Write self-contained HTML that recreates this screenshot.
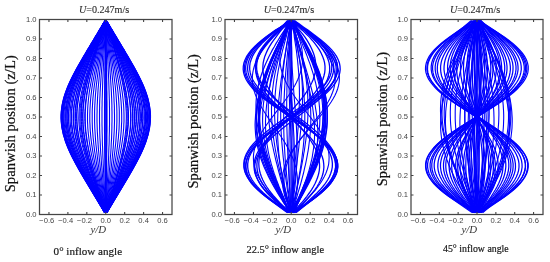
<!DOCTYPE html>
<html><head><meta charset="utf-8"><style>html,body{margin:0;padding:0;background:#fff;width:550px;height:262px;overflow:hidden}svg{display:block}</style></head>
<body>
<svg width="550" height="262" viewBox="0 0 550 262">
<style>.tk{font:7.6px "Liberation Sans",sans-serif;fill:#444}.tt{font:10.1px "Liberation Serif",serif;fill:#2a2a2a;stroke:#2a2a2a;stroke-width:0.1px}.yl{font:14.5px "Liberation Serif",serif;fill:#111;stroke:#111;stroke-width:0.2px}.xl{font:italic 10.8px "Liberation Serif",serif;fill:#333}.cap{font-family:"Liberation Serif",serif;fill:#1a1a1a;stroke:#1a1a1a;stroke-width:0.2px}</style>
<g fill="none" stroke="#0000ff">
<path stroke-width="1.1" d="M106.9,212.6 108.9,209.3 110.8,206.0 112.8,202.8 114.7,199.5 116.7,196.3 118.7,193.0 120.6,189.8 122.6,186.5 124.5,183.3 126.5,180.0 128.4,176.8 130.3,173.5 132.2,170.3 134.0,167.0 135.8,163.8 137.5,160.5 139.2,157.3 140.8,154.0 142.3,150.8 143.7,147.5 145.0,144.3 146.2,141.0 147.2,137.7 148.2,134.5 148.9,131.2 149.6,128.0 150.0,124.7 150.3,121.5 150.5,118.2 150.5,115.0 150.3,111.7 149.9,108.5 149.4,105.2 148.8,102.0 148.0,98.7 147.0,95.5 145.9,92.2 144.7,89.0 143.4,85.7 142.0,82.5 140.4,79.2 138.8,76.0 137.1,72.7 135.4,69.5 133.6,66.2 131.7,62.9 129.8,59.7 127.9,56.4 126.0,53.2 124.1,49.9 122.1,46.7 120.1,43.4 118.2,40.2 116.2,36.9 114.3,33.7 112.3,30.4 110.4,27.2 108.4,23.9 106.5,20.7"/>
<path stroke-width="1.1" d="M106.9,212.6 108.9,209.3 110.8,206.0 112.8,202.8 114.7,199.5 116.7,196.3 118.6,193.0 120.6,189.8 122.5,186.5 124.5,183.3 126.4,180.0 128.3,176.8 130.2,173.5 132.1,170.3 133.9,167.0 135.7,163.8 137.4,160.5 139.1,157.3 140.7,154.0 142.2,150.8 143.6,147.5 144.9,144.3 146.1,141.0 147.1,137.7 148.0,134.5 148.8,131.2 149.4,128.0 149.9,124.7 150.2,121.5 150.3,118.2 150.3,115.0 150.1,111.7 149.8,108.5 149.3,105.2 148.6,102.0 147.8,98.7 146.9,95.5 145.8,92.2 144.6,89.0 143.3,85.7 141.8,82.5 140.3,79.2 138.7,76.0 137.0,72.7 135.3,69.5 133.5,66.2 131.6,62.9 129.8,59.7 127.9,56.4 125.9,53.2 124.0,49.9 122.1,46.7 120.1,43.4 118.1,40.2 116.2,36.9 114.2,33.7 112.3,30.4 110.3,27.2 108.4,23.9 106.4,20.7"/>
<path stroke-width="1.1" d="M106.9,212.6 108.8,209.3 110.8,206.0 112.7,202.8 114.6,199.5 116.6,196.3 118.5,193.0 120.5,189.8 122.4,186.5 124.3,183.3 126.3,180.0 128.2,176.8 130.1,173.5 131.9,170.3 133.7,167.0 135.5,163.8 137.2,160.5 138.9,157.3 140.5,154.0 142.0,150.8 143.4,147.5 144.6,144.3 145.8,141.0 146.9,137.7 147.8,134.5 148.5,131.2 149.1,128.0 149.6,124.7 149.9,121.5 150.1,118.2 150.0,115.0 149.9,111.7 149.5,108.5 149.0,105.2 148.4,102.0 147.6,98.7 146.6,95.5 145.5,92.2 144.3,89.0 143.0,85.7 141.6,82.5 140.1,79.2 138.5,76.0 136.8,72.7 135.1,69.5 133.3,66.2 131.5,62.9 129.6,59.7 127.7,56.4 125.8,53.2 123.9,49.9 121.9,46.7 120.0,43.4 118.1,40.2 116.1,36.9 114.2,33.7 112.2,30.4 110.3,27.2 108.4,23.9 106.4,20.7"/>
<path stroke-width="1.1" d="M106.9,212.6 108.8,209.3 110.7,206.0 112.6,202.8 114.6,199.5 116.5,196.3 118.4,193.0 120.3,189.8 122.3,186.5 124.2,183.3 126.1,180.0 128.0,176.8 129.8,173.5 131.7,170.3 133.5,167.0 135.2,163.8 136.9,160.5 138.6,157.3 140.1,154.0 141.6,150.8 143.0,147.5 144.3,144.3 145.4,141.0 146.5,137.7 147.4,134.5 148.1,131.2 148.7,128.0 149.2,124.7 149.5,121.5 149.6,118.2 149.6,115.0 149.4,111.7 149.1,108.5 148.6,105.2 148.0,102.0 147.2,98.7 146.2,95.5 145.2,92.2 144.0,89.0 142.7,85.7 141.3,82.5 139.8,79.2 138.2,76.0 136.5,72.7 134.8,69.5 133.1,66.2 131.2,62.9 129.4,59.7 127.5,56.4 125.6,53.2 123.7,49.9 121.8,46.7 119.9,43.4 117.9,40.2 116.0,36.9 114.1,33.7 112.2,30.4 110.3,27.2 108.4,23.9 106.4,20.7"/>
<path stroke-width="1.1" d="M106.9,212.6 108.8,209.3 110.7,206.0 112.6,202.8 114.4,199.5 116.3,196.3 118.2,193.0 120.1,189.8 122.0,186.5 123.9,183.3 125.8,180.0 127.7,176.8 129.5,173.5 131.3,170.3 133.1,167.0 134.9,163.8 136.5,160.5 138.2,157.3 139.7,154.0 141.2,150.8 142.5,147.5 143.8,144.3 144.9,141.0 145.9,137.7 146.8,134.5 147.6,131.2 148.2,128.0 148.6,124.7 148.9,121.5 149.1,118.2 149.1,115.0 148.9,111.7 148.5,108.5 148.1,105.2 147.4,102.0 146.6,98.7 145.7,95.5 144.7,92.2 143.5,89.0 142.2,85.7 140.8,82.5 139.3,79.2 137.8,76.0 136.1,72.7 134.5,69.5 132.7,66.2 130.9,62.9 129.1,59.7 127.2,56.4 125.4,53.2 123.5,49.9 121.6,46.7 119.7,43.4 117.8,40.2 115.9,36.9 114.0,33.7 112.1,30.4 110.2,27.2 108.3,23.9 106.4,20.7"/>
<path stroke-width="1.1" d="M106.9,212.6 108.7,209.3 110.6,206.0 112.4,202.8 114.3,199.5 116.2,196.3 118.0,193.0 119.9,189.8 121.8,186.5 123.6,183.3 125.5,180.0 127.3,176.8 129.2,173.5 130.9,170.3 132.7,167.0 134.4,163.8 136.1,160.5 137.6,157.3 139.2,154.0 140.6,150.8 141.9,147.5 143.2,144.3 144.3,141.0 145.3,137.7 146.2,134.5 146.9,131.2 147.5,128.0 148.0,124.7 148.2,121.5 148.4,118.2 148.4,115.0 148.2,111.7 147.9,108.5 147.4,105.2 146.8,102.0 146.0,98.7 145.1,95.5 144.0,92.2 142.9,89.0 141.6,85.7 140.3,82.5 138.8,79.2 137.3,76.0 135.7,72.7 134.0,69.5 132.3,66.2 130.5,62.9 128.7,59.7 126.9,56.4 125.1,53.2 123.2,49.9 121.3,46.7 119.5,43.4 117.6,40.2 115.7,36.9 113.9,33.7 112.0,30.4 110.1,27.2 108.3,23.9 106.4,20.7"/>
<path stroke-width="1.1" d="M106.8,212.6 108.7,209.3 110.5,206.0 112.3,202.8 114.1,199.5 116.0,196.3 117.8,193.0 119.6,189.8 121.5,186.5 123.3,183.3 125.1,180.0 126.9,176.8 128.7,173.5 130.4,170.3 132.2,167.0 133.8,163.8 135.5,160.5 137.0,157.3 138.5,154.0 139.9,150.8 141.2,147.5 142.4,144.3 143.6,141.0 144.5,137.7 145.4,134.5 146.1,131.2 146.7,128.0 147.1,124.7 147.4,121.5 147.6,118.2 147.5,115.0 147.4,111.7 147.0,108.5 146.6,105.2 146.0,102.0 145.2,98.7 144.3,95.5 143.3,92.2 142.2,89.0 140.9,85.7 139.6,82.5 138.2,79.2 136.7,76.0 135.1,72.7 133.4,69.5 131.8,66.2 130.0,62.9 128.3,59.7 126.5,56.4 124.7,53.2 122.9,49.9 121.0,46.7 119.2,43.4 117.4,40.2 115.5,36.9 113.7,33.7 111.9,30.4 110.1,27.2 108.2,23.9 106.4,20.7"/>
<path stroke-width="1.1" d="M106.8,212.6 108.6,209.3 110.4,206.0 112.2,202.8 114.0,199.5 115.7,196.3 117.5,193.0 119.3,189.8 121.1,186.5 122.9,183.3 124.7,180.0 126.4,176.8 128.2,173.5 129.9,170.3 131.6,167.0 133.2,163.8 134.8,160.5 136.3,157.3 137.8,154.0 139.1,150.8 140.4,147.5 141.6,144.3 142.7,141.0 143.6,137.7 144.5,134.5 145.2,131.2 145.8,128.0 146.2,124.7 146.5,121.5 146.6,118.2 146.6,115.0 146.4,111.7 146.1,108.5 145.6,105.2 145.0,102.0 144.3,98.7 143.4,95.5 142.4,92.2 141.3,89.0 140.1,85.7 138.8,82.5 137.4,79.2 135.9,76.0 134.4,72.7 132.8,69.5 131.2,66.2 129.5,62.9 127.8,59.7 126.0,56.4 124.2,53.2 122.5,49.9 120.7,46.7 118.9,43.4 117.1,40.2 115.3,36.9 113.5,33.7 111.7,30.4 110.0,27.2 108.2,23.9 106.4,20.7"/>
<path stroke-width="1.1" d="M106.8,212.6 108.5,209.3 110.3,206.0 112.0,202.8 113.7,199.5 115.5,196.3 117.2,193.0 119.0,189.8 120.7,186.5 122.4,183.3 124.2,180.0 125.9,176.8 127.6,173.5 129.2,170.3 130.9,167.0 132.5,163.8 134.0,160.5 135.5,157.3 136.9,154.0 138.2,150.8 139.5,147.5 140.6,144.3 141.7,141.0 142.6,137.7 143.4,134.5 144.1,131.2 144.7,128.0 145.1,124.7 145.4,121.5 145.5,118.2 145.5,115.0 145.3,111.7 145.0,108.5 144.6,105.2 144.0,102.0 143.3,98.7 142.4,95.5 141.5,92.2 140.4,89.0 139.2,85.7 137.9,82.5 136.6,79.2 135.1,76.0 133.6,72.7 132.1,69.5 130.5,66.2 128.8,62.9 127.2,59.7 125.5,56.4 123.8,53.2 122.0,49.9 120.3,46.7 118.5,43.4 116.8,40.2 115.1,36.9 113.3,33.7 111.6,30.4 109.8,27.2 108.1,23.9 106.4,20.7"/>
<path stroke-width="1.1" d="M106.8,212.6 108.4,209.3 110.1,206.0 111.8,202.8 113.5,199.5 115.2,196.3 116.9,193.0 118.6,189.8 120.2,186.5 121.9,183.3 123.6,180.0 125.3,176.8 126.9,173.5 128.5,170.3 130.1,167.0 131.6,163.8 133.1,160.5 134.6,157.3 136.0,154.0 137.3,150.8 138.5,147.5 139.6,144.3 140.6,141.0 141.5,137.7 142.3,134.5 143.0,131.2 143.5,128.0 143.9,124.7 144.2,121.5 144.3,118.2 144.3,115.0 144.1,111.7 143.8,108.5 143.4,105.2 142.8,102.0 142.1,98.7 141.3,95.5 140.4,92.2 139.3,89.0 138.2,85.7 136.9,82.5 135.6,79.2 134.2,76.0 132.8,72.7 131.3,69.5 129.7,66.2 128.1,62.9 126.5,59.7 124.9,56.4 123.2,53.2 121.5,49.9 119.8,46.7 118.2,43.4 116.5,40.2 114.8,36.9 113.1,33.7 111.4,30.4 109.7,27.2 108.0,23.9 106.4,20.7"/>
<path stroke-width="1.1" d="M106.7,212.6 108.3,209.3 110.0,206.0 111.6,202.8 113.2,199.5 114.9,196.3 116.5,193.0 118.1,189.8 119.7,186.5 121.4,183.3 123.0,180.0 124.6,176.8 126.2,173.5 127.7,170.3 129.3,167.0 130.8,163.8 132.2,160.5 133.6,157.3 134.9,154.0 136.2,150.8 137.3,147.5 138.4,144.3 139.4,141.0 140.3,137.7 141.0,134.5 141.7,131.2 142.2,128.0 142.6,124.7 142.8,121.5 143.0,118.2 142.9,115.0 142.8,111.7 142.5,108.5 142.1,105.2 141.5,102.0 140.9,98.7 140.1,95.5 139.2,92.2 138.2,89.0 137.1,85.7 135.9,82.5 134.6,79.2 133.3,76.0 131.9,72.7 130.4,69.5 128.9,66.2 127.4,62.9 125.8,59.7 124.2,56.4 122.6,53.2 121.0,49.9 119.4,46.7 117.7,43.4 116.1,40.2 114.5,36.9 112.8,33.7 111.2,30.4 109.6,27.2 108.0,23.9 106.3,20.7"/>
<path stroke-width="1.1" d="M106.7,212.6 108.2,209.3 109.8,206.0 111.4,202.8 112.9,199.5 114.5,196.3 116.1,193.0 117.6,189.8 119.2,186.5 120.8,183.3 122.3,180.0 123.9,176.8 125.4,173.5 126.9,170.3 128.3,167.0 129.8,163.8 131.2,160.5 132.5,157.3 133.8,154.0 135.0,150.8 136.1,147.5 137.1,144.3 138.1,141.0 138.9,137.7 139.7,134.5 140.3,131.2 140.8,128.0 141.1,124.7 141.4,121.5 141.5,118.2 141.5,115.0 141.3,111.7 141.1,108.5 140.7,105.2 140.1,102.0 139.5,98.7 138.7,95.5 137.9,92.2 136.9,89.0 135.8,85.7 134.7,82.5 133.5,79.2 132.2,76.0 130.8,72.7 129.4,69.5 128.0,66.2 126.5,62.9 125.0,59.7 123.5,56.4 121.9,53.2 120.4,49.9 118.8,46.7 117.3,43.4 115.7,40.2 114.1,36.9 112.6,33.7 111.0,30.4 109.4,27.2 107.9,23.9 106.3,20.7"/>
<path stroke-width="1.1" d="M106.6,212.6 108.1,209.3 109.6,206.0 111.1,202.8 112.6,199.5 114.1,196.3 115.6,193.0 117.1,189.8 118.6,186.5 120.1,183.3 121.6,180.0 123.1,176.8 124.5,173.5 125.9,170.3 127.4,167.0 128.7,163.8 130.0,160.5 131.3,157.3 132.5,154.0 133.7,150.8 134.8,147.5 135.8,144.3 136.7,141.0 137.5,137.7 138.2,134.5 138.8,131.2 139.2,128.0 139.6,124.7 139.8,121.5 139.9,118.2 139.9,115.0 139.8,111.7 139.5,108.5 139.1,105.2 138.6,102.0 138.0,98.7 137.3,95.5 136.5,92.2 135.5,89.0 134.5,85.7 133.4,82.5 132.3,79.2 131.0,76.0 129.7,72.7 128.4,69.5 127.0,66.2 125.6,62.9 124.2,59.7 122.7,56.4 121.2,53.2 119.7,49.9 118.2,46.7 116.8,43.4 115.3,40.2 113.8,36.9 112.3,33.7 110.8,30.4 109.3,27.2 107.8,23.9 106.3,20.7"/>
<path stroke-width="1.1" d="M106.6,212.6 108.0,209.3 109.4,206.0 110.9,202.8 112.3,199.5 113.7,196.3 115.1,193.0 116.6,189.8 118.0,186.5 119.4,183.3 120.8,180.0 122.2,176.8 123.6,173.5 125.0,170.3 126.3,167.0 127.6,163.8 128.9,160.5 130.1,157.3 131.2,154.0 132.3,150.8 133.3,147.5 134.3,144.3 135.2,141.0 135.9,137.7 136.6,134.5 137.1,131.2 137.6,128.0 137.9,124.7 138.2,121.5 138.3,118.2 138.3,115.0 138.1,111.7 137.9,108.5 137.5,105.2 137.0,102.0 136.4,98.7 135.7,95.5 135.0,92.2 134.1,89.0 133.1,85.7 132.1,82.5 131.0,79.2 129.8,76.0 128.6,72.7 127.3,69.5 126.0,66.2 124.6,62.9 123.3,59.7 121.9,56.4 120.5,53.2 119.1,49.9 117.6,46.7 116.2,43.4 114.8,40.2 113.4,36.9 111.9,33.7 110.5,30.4 109.1,27.2 107.7,23.9 106.3,20.7"/>
<path stroke-width="1.1" d="M106.6,212.6 107.9,209.3 109.2,206.0 110.6,202.8 111.9,199.5 113.3,196.3 114.6,193.0 116.0,189.8 117.3,186.5 118.7,183.3 120.0,180.0 121.3,176.8 122.6,173.5 123.9,170.3 125.2,167.0 126.4,163.8 127.6,160.5 128.7,157.3 129.8,154.0 130.9,150.8 131.8,147.5 132.7,144.3 133.5,141.0 134.3,137.7 134.9,134.5 135.4,131.2 135.9,128.0 136.2,124.7 136.4,121.5 136.5,118.2 136.5,115.0 136.4,111.7 136.1,108.5 135.8,105.2 135.3,102.0 134.8,98.7 134.1,95.5 133.4,92.2 132.5,89.0 131.6,85.7 130.6,82.5 129.6,79.2 128.5,76.0 127.3,72.7 126.1,69.5 124.9,66.2 123.6,62.9 122.3,59.7 121.0,56.4 119.7,53.2 118.3,49.9 117.0,46.7 115.6,43.4 114.3,40.2 112.9,36.9 111.6,33.7 110.3,30.4 108.9,27.2 107.6,23.9 106.2,20.7"/>
<path stroke-width="1.1" d="M106.5,212.6 107.8,209.3 109.0,206.0 110.3,202.8 111.5,199.5 112.8,196.3 114.1,193.0 115.3,189.8 116.6,186.5 117.9,183.3 119.1,180.0 120.4,176.8 121.6,173.5 122.8,170.3 124.0,167.0 125.1,163.8 126.3,160.5 127.3,157.3 128.4,154.0 129.3,150.8 130.3,147.5 131.1,144.3 131.9,141.0 132.5,137.7 133.1,134.5 133.6,131.2 134.0,128.0 134.3,124.7 134.5,121.5 134.6,118.2 134.6,115.0 134.5,111.7 134.3,108.5 133.9,105.2 133.5,102.0 133.0,98.7 132.4,95.5 131.7,92.2 130.9,89.0 130.0,85.7 129.1,82.5 128.1,79.2 127.1,76.0 126.0,72.7 124.9,69.5 123.7,66.2 122.5,62.9 121.3,59.7 120.1,56.4 118.8,53.2 117.6,49.9 116.3,46.7 115.0,43.4 113.8,40.2 112.5,36.9 111.2,33.7 110.0,30.4 108.7,27.2 107.5,23.9 106.2,20.7"/>
<path stroke-width="1.1" d="M106.5,212.6 107.6,209.3 108.8,206.0 110.0,202.8 111.2,199.5 112.3,196.3 113.5,193.0 114.7,189.8 115.9,186.5 117.0,183.3 118.2,180.0 119.4,176.8 120.5,173.5 121.6,170.3 122.8,167.0 123.8,163.8 124.9,160.5 125.9,157.3 126.8,154.0 127.7,150.8 128.6,147.5 129.4,144.3 130.1,141.0 130.7,137.7 131.3,134.5 131.7,131.2 132.1,128.0 132.4,124.7 132.6,121.5 132.7,118.2 132.6,115.0 132.5,111.7 132.3,108.5 132.0,105.2 131.6,102.0 131.1,98.7 130.6,95.5 129.9,92.2 129.2,89.0 128.4,85.7 127.5,82.5 126.6,79.2 125.6,76.0 124.6,72.7 123.6,69.5 122.5,66.2 121.4,62.9 120.2,59.7 119.1,56.4 117.9,53.2 116.8,49.9 115.6,46.7 114.4,43.4 113.2,40.2 112.0,36.9 110.9,33.7 109.7,30.4 108.5,27.2 107.3,23.9 106.2,20.7"/>
<path stroke-width="1.1" d="M106.4,212.6 107.5,209.3 108.6,206.0 109.7,202.8 110.7,199.5 111.8,196.3 112.9,193.0 114.0,189.8 115.1,186.5 116.2,183.3 117.3,180.0 118.3,176.8 119.4,173.5 120.4,170.3 121.5,167.0 122.5,163.8 123.4,160.5 124.3,157.3 125.2,154.0 126.1,150.8 126.9,147.5 127.6,144.3 128.2,141.0 128.8,137.7 129.3,134.5 129.8,131.2 130.1,128.0 130.4,124.7 130.5,121.5 130.6,118.2 130.6,115.0 130.5,111.7 130.3,108.5 130.0,105.2 129.7,102.0 129.2,98.7 128.7,95.5 128.1,92.2 127.4,89.0 126.7,85.7 125.9,82.5 125.0,79.2 124.1,76.0 123.2,72.7 122.2,69.5 121.2,66.2 120.2,62.9 119.1,59.7 118.1,56.4 117.0,53.2 115.9,49.9 114.8,46.7 113.7,43.4 112.7,40.2 111.6,36.9 110.5,33.7 109.4,30.4 108.3,27.2 107.2,23.9 106.1,20.7"/>
<path stroke-width="1.1" d="M106.3,212.6 107.3,209.3 108.3,206.0 109.3,202.8 110.3,199.5 111.3,196.3 112.3,193.0 113.3,189.8 114.3,186.5 115.3,183.3 116.3,180.0 117.3,176.8 118.2,173.5 119.2,170.3 120.1,167.0 121.0,163.8 121.9,160.5 122.8,157.3 123.6,154.0 124.3,150.8 125.0,147.5 125.7,144.3 126.3,141.0 126.8,137.7 127.3,134.5 127.7,131.2 128.0,128.0 128.3,124.7 128.4,121.5 128.5,118.2 128.5,115.0 128.4,111.7 128.2,108.5 127.9,105.2 127.6,102.0 127.2,98.7 126.7,95.5 126.2,92.2 125.6,89.0 124.9,85.7 124.2,82.5 123.4,79.2 122.6,76.0 121.7,72.7 120.8,69.5 119.9,66.2 119.0,62.9 118.0,59.7 117.0,56.4 116.0,53.2 115.1,49.9 114.1,46.7 113.1,43.4 112.1,40.2 111.1,36.9 110.1,33.7 109.1,30.4 108.1,27.2 107.1,23.9 106.1,20.7"/>
<path stroke-width="1.1" d="M106.3,212.6 107.2,209.3 108.1,206.0 109.0,202.8 109.9,199.5 110.8,196.3 111.7,193.0 112.6,189.8 113.5,186.5 114.4,183.3 115.3,180.0 116.1,176.8 117.0,173.5 117.9,170.3 118.7,167.0 119.6,163.8 120.3,160.5 121.1,157.3 121.8,154.0 122.5,150.8 123.2,147.5 123.8,144.3 124.3,141.0 124.8,137.7 125.2,134.5 125.6,131.2 125.9,128.0 126.1,124.7 126.2,121.5 126.3,118.2 126.3,115.0 126.2,111.7 126.0,108.5 125.8,105.2 125.5,102.0 125.1,98.7 124.7,95.5 124.2,92.2 123.6,89.0 123.0,85.7 122.4,82.5 121.7,79.2 120.9,76.0 120.2,72.7 119.4,69.5 118.5,66.2 117.7,62.9 116.8,59.7 115.9,56.4 115.1,53.2 114.2,49.9 113.3,46.7 112.4,43.4 111.5,40.2 110.6,36.9 109.7,33.7 108.8,30.4 107.9,27.2 107.0,23.9 106.1,20.7"/>
<path stroke-width="1.1" d="M106.2,212.6 107.0,209.3 107.8,206.0 108.6,202.8 109.4,199.5 110.2,196.3 111.0,193.0 111.8,189.8 112.6,186.5 113.4,183.3 114.2,180.0 115.0,176.8 115.8,173.5 116.5,170.3 117.3,167.0 118.0,163.8 118.7,160.5 119.4,157.3 120.1,154.0 120.7,150.8 121.3,147.5 121.8,144.3 122.3,141.0 122.7,137.7 123.1,134.5 123.4,131.2 123.7,128.0 123.8,124.7 124.0,121.5 124.0,118.2 124.0,115.0 123.9,111.7 123.8,108.5 123.6,105.2 123.3,102.0 123.0,98.7 122.6,95.5 122.2,92.2 121.7,89.0 121.1,85.7 120.5,82.5 119.9,79.2 119.3,76.0 118.6,72.7 117.9,69.5 117.1,66.2 116.4,62.9 115.6,59.7 114.8,56.4 114.0,53.2 113.2,49.9 112.4,46.7 111.6,43.4 110.8,40.2 110.0,36.9 109.2,33.7 108.4,30.4 107.6,27.2 106.8,23.9 106.0,20.7"/>
<path stroke-width="1.1" d="M106.2,212.6 106.9,209.3 107.6,206.0 108.3,202.8 109.0,199.5 109.7,196.3 110.4,193.0 111.1,189.8 111.8,186.5 112.4,183.3 113.1,180.0 113.8,176.8 114.5,173.5 115.2,170.3 115.8,167.0 116.5,163.8 117.1,160.5 117.7,157.3 118.3,154.0 118.8,150.8 119.3,147.5 119.8,144.3 120.2,141.0 120.6,137.7 120.9,134.5 121.2,131.2 121.4,128.0 121.5,124.7 121.7,121.5 121.7,118.2 121.7,115.0 121.6,111.7 121.5,108.5 121.3,105.2 121.1,102.0 120.8,98.7 120.5,95.5 120.1,92.2 119.7,89.0 119.2,85.7 118.7,82.5 118.1,79.2 117.5,76.0 116.9,72.7 116.3,69.5 115.7,66.2 115.0,62.9 114.3,59.7 113.7,56.4 113.0,53.2 112.3,49.9 111.6,46.7 110.9,43.4 110.2,40.2 109.5,36.9 108.8,33.7 108.1,30.4 107.4,27.2 106.7,23.9 106.0,20.7"/>
<path stroke-width="1.1" d="M106.1,212.6 106.7,209.3 107.3,206.0 107.9,202.8 108.5,199.5 109.1,196.3 109.7,193.0 110.3,189.8 110.9,186.5 111.5,183.3 112.0,180.0 112.6,176.8 113.2,173.5 113.8,170.3 114.3,167.0 114.9,163.8 115.4,160.5 115.9,157.3 116.4,154.0 116.9,150.8 117.3,147.5 117.7,144.3 118.0,141.0 118.4,137.7 118.6,134.5 118.9,131.2 119.1,128.0 119.2,124.7 119.3,121.5 119.3,118.2 119.3,115.0 119.3,111.7 119.2,108.5 119.0,105.2 118.8,102.0 118.6,98.7 118.3,95.5 118.0,92.2 117.6,89.0 117.2,85.7 116.7,82.5 116.3,79.2 115.8,76.0 115.3,72.7 114.8,69.5 114.2,66.2 113.6,62.9 113.1,59.7 112.5,56.4 111.9,53.2 111.3,49.9 110.7,46.7 110.1,43.4 109.5,40.2 108.9,36.9 108.3,33.7 107.7,30.4 107.1,27.2 106.6,23.9 106.0,20.7"/>
<path stroke-width="1.1" d="M106.0,212.6 106.5,209.3 107.0,206.0 107.5,202.8 108.0,199.5 108.5,196.3 109.0,193.0 109.5,189.8 110.0,186.5 110.4,183.3 110.9,180.0 111.4,176.8 111.9,173.5 112.4,170.3 112.8,167.0 113.3,163.8 113.7,160.5 114.1,157.3 114.5,154.0 114.9,150.8 115.2,147.5 115.6,144.3 115.9,141.0 116.1,137.7 116.3,134.5 116.5,131.2 116.7,128.0 116.8,124.7 116.9,121.5 116.9,118.2 116.9,115.0 116.9,111.7 116.8,108.5 116.7,105.2 116.5,102.0 116.3,98.7 116.1,95.5 115.8,92.2 115.5,89.0 115.2,85.7 114.8,82.5 114.4,79.2 114.0,76.0 113.6,72.7 113.2,69.5 112.7,66.2 112.2,62.9 111.8,59.7 111.3,56.4 110.8,53.2 110.3,49.9 109.8,46.7 109.3,43.4 108.9,40.2 108.4,36.9 107.9,33.7 107.4,30.4 106.9,27.2 106.4,23.9 105.9,20.7"/>
<path stroke-width="1.1" d="M106.0,212.6 106.4,209.3 106.7,206.0 107.1,202.8 107.5,199.5 107.9,196.3 108.3,193.0 108.7,189.8 109.0,186.5 109.4,183.3 109.8,180.0 110.2,176.8 110.5,173.5 110.9,170.3 111.3,167.0 111.6,163.8 112.0,160.5 112.3,157.3 112.6,154.0 112.9,150.8 113.2,147.5 113.4,144.3 113.6,141.0 113.8,137.7 114.0,134.5 114.2,131.2 114.3,128.0 114.4,124.7 114.5,121.5 114.5,118.2 114.5,115.0 114.4,111.7 114.4,108.5 114.3,105.2 114.1,102.0 114.0,98.7 113.8,95.5 113.6,92.2 113.4,89.0 113.1,85.7 112.8,82.5 112.5,79.2 112.2,76.0 111.9,72.7 111.5,69.5 111.2,66.2 110.8,62.9 110.5,59.7 110.1,56.4 109.7,53.2 109.3,49.9 108.9,46.7 108.6,43.4 108.2,40.2 107.8,36.9 107.4,33.7 107.0,30.4 106.6,27.2 106.3,23.9 105.9,20.7"/>
<path stroke-width="1.1" d="M105.9,212.6 106.2,209.3 106.5,206.0 106.7,202.8 107.0,199.5 107.3,196.3 107.6,193.0 107.8,189.8 108.1,186.5 108.4,183.3 108.6,180.0 108.9,176.8 109.2,173.5 109.4,170.3 109.7,167.0 110.0,163.8 110.2,160.5 110.4,157.3 110.7,154.0 110.9,150.8 111.1,147.5 111.2,144.3 111.4,141.0 111.6,137.7 111.7,134.5 111.8,131.2 111.9,128.0 111.9,124.7 112.0,121.5 112.0,118.2 112.0,115.0 112.0,111.7 111.9,108.5 111.9,105.2 111.8,102.0 111.7,98.7 111.5,95.5 111.4,92.2 111.2,89.0 111.0,85.7 110.8,82.5 110.6,79.2 110.4,76.0 110.1,72.7 109.9,69.5 109.6,66.2 109.4,62.9 109.1,59.7 108.9,56.4 108.6,53.2 108.3,49.9 108.0,46.7 107.8,43.4 107.5,40.2 107.2,36.9 106.9,33.7 106.7,30.4 106.4,27.2 106.1,23.9 105.8,20.7"/>
<path stroke-width="1.1" d="M105.8,212.6 106.0,209.3 106.2,206.0 106.3,202.8 106.5,199.5 106.7,196.3 106.8,193.0 107.0,189.8 107.2,186.5 107.3,183.3 107.5,180.0 107.7,176.8 107.8,173.5 108.0,170.3 108.1,167.0 108.3,163.8 108.4,160.5 108.6,157.3 108.7,154.0 108.8,150.8 108.9,147.5 109.1,144.3 109.2,141.0 109.2,137.7 109.3,134.5 109.4,131.2 109.4,128.0 109.5,124.7 109.5,121.5 109.5,118.2 109.5,115.0 109.5,111.7 109.5,108.5 109.4,105.2 109.4,102.0 109.3,98.7 109.2,95.5 109.1,92.2 109.0,89.0 108.9,85.7 108.8,82.5 108.7,79.2 108.5,76.0 108.4,72.7 108.2,69.5 108.1,66.2 107.9,62.9 107.8,59.7 107.6,56.4 107.5,53.2 107.3,49.9 107.1,46.7 107.0,43.4 106.8,40.2 106.6,36.9 106.5,33.7 106.3,30.4 106.1,27.2 106.0,23.9 105.8,20.7"/>
<path stroke-width="1.1" d="M105.8,212.6 105.8,209.3 105.9,206.0 105.9,202.8 106.0,199.5 106.1,196.3 106.1,193.0 106.2,189.8 106.2,186.5 106.3,183.3 106.3,180.0 106.4,176.8 106.4,173.5 106.5,170.3 106.5,167.0 106.6,163.8 106.6,160.5 106.7,157.3 106.7,154.0 106.8,150.8 106.8,147.5 106.9,144.3 106.9,141.0 106.9,137.7 106.9,134.5 107.0,131.2 107.0,128.0 107.0,124.7 107.0,121.5 107.0,118.2 107.0,115.0 107.0,111.7 107.0,108.5 107.0,105.2 107.0,102.0 106.9,98.7 106.9,95.5 106.9,92.2 106.8,89.0 106.8,85.7 106.8,82.5 106.7,79.2 106.7,76.0 106.6,72.7 106.6,69.5 106.5,66.2 106.5,62.9 106.4,59.7 106.4,56.4 106.3,53.2 106.3,49.9 106.2,46.7 106.2,43.4 106.1,40.2 106.0,36.9 106.0,33.7 105.9,30.4 105.9,27.2 105.8,23.9 105.8,20.7"/>
<path stroke-width="1.1" d="M105.7,212.6 105.7,209.3 105.6,206.0 105.6,202.8 105.5,199.5 105.4,196.3 105.4,193.0 105.3,189.8 105.3,186.5 105.2,183.3 105.2,180.0 105.1,176.8 105.1,173.5 105.0,170.3 105.0,167.0 104.9,163.8 104.9,160.5 104.8,157.3 104.8,154.0 104.7,150.8 104.7,147.5 104.6,144.3 104.6,141.0 104.6,137.7 104.6,134.5 104.5,131.2 104.5,128.0 104.5,124.7 104.5,121.5 104.5,118.2 104.5,115.0 104.5,111.7 104.5,108.5 104.5,105.2 104.5,102.0 104.6,98.7 104.6,95.5 104.6,92.2 104.7,89.0 104.7,85.7 104.7,82.5 104.8,79.2 104.8,76.0 104.9,72.7 104.9,69.5 105.0,66.2 105.0,62.9 105.1,59.7 105.1,56.4 105.2,53.2 105.2,49.9 105.3,46.7 105.3,43.4 105.4,40.2 105.5,36.9 105.5,33.7 105.6,30.4 105.6,27.2 105.7,23.9 105.7,20.7"/>
<path stroke-width="1.1" d="M105.7,212.6 105.5,209.3 105.3,206.0 105.2,202.8 105.0,199.5 104.8,196.3 104.7,193.0 104.5,189.8 104.3,186.5 104.2,183.3 104.0,180.0 103.8,176.8 103.7,173.5 103.5,170.3 103.4,167.0 103.2,163.8 103.1,160.5 102.9,157.3 102.8,154.0 102.7,150.8 102.6,147.5 102.4,144.3 102.3,141.0 102.3,137.7 102.2,134.5 102.1,131.2 102.1,128.0 102.0,124.7 102.0,121.5 102.0,118.2 102.0,115.0 102.0,111.7 102.0,108.5 102.1,105.2 102.1,102.0 102.2,98.7 102.3,95.5 102.4,92.2 102.5,89.0 102.6,85.7 102.7,82.5 102.8,79.2 103.0,76.0 103.1,72.7 103.3,69.5 103.4,66.2 103.6,62.9 103.7,59.7 103.9,56.4 104.0,53.2 104.2,49.9 104.4,46.7 104.5,43.4 104.7,40.2 104.9,36.9 105.0,33.7 105.2,30.4 105.4,27.2 105.5,23.9 105.7,20.7"/>
<path stroke-width="1.1" d="M105.6,212.6 105.3,209.3 105.0,206.0 104.8,202.8 104.5,199.5 104.2,196.3 103.9,193.0 103.7,189.8 103.4,186.5 103.1,183.3 102.9,180.0 102.6,176.8 102.3,173.5 102.1,170.3 101.8,167.0 101.5,163.8 101.3,160.5 101.1,157.3 100.8,154.0 100.6,150.8 100.4,147.5 100.3,144.3 100.1,141.0 99.9,137.7 99.8,134.5 99.7,131.2 99.6,128.0 99.6,124.7 99.5,121.5 99.5,118.2 99.5,115.0 99.5,111.7 99.6,108.5 99.6,105.2 99.7,102.0 99.8,98.7 100.0,95.5 100.1,92.2 100.3,89.0 100.5,85.7 100.7,82.5 100.9,79.2 101.1,76.0 101.4,72.7 101.6,69.5 101.9,66.2 102.1,62.9 102.4,59.7 102.6,56.4 102.9,53.2 103.2,49.9 103.5,46.7 103.7,43.4 104.0,40.2 104.3,36.9 104.6,33.7 104.8,30.4 105.1,27.2 105.4,23.9 105.7,20.7"/>
<path stroke-width="1.1" d="M105.5,212.6 105.1,209.3 104.8,206.0 104.4,202.8 104.0,199.5 103.6,196.3 103.2,193.0 102.8,189.8 102.5,186.5 102.1,183.3 101.7,180.0 101.3,176.8 101.0,173.5 100.6,170.3 100.2,167.0 99.9,163.8 99.5,160.5 99.2,157.3 98.9,154.0 98.6,150.8 98.3,147.5 98.1,144.3 97.9,141.0 97.7,137.7 97.5,134.5 97.3,131.2 97.2,128.0 97.1,124.7 97.0,121.5 97.0,118.2 97.0,115.0 97.1,111.7 97.1,108.5 97.2,105.2 97.4,102.0 97.5,98.7 97.7,95.5 97.9,92.2 98.1,89.0 98.4,85.7 98.7,82.5 99.0,79.2 99.3,76.0 99.6,72.7 100.0,69.5 100.3,66.2 100.7,62.9 101.0,59.7 101.4,56.4 101.8,53.2 102.2,49.9 102.6,46.7 102.9,43.4 103.3,40.2 103.7,36.9 104.1,33.7 104.5,30.4 104.9,27.2 105.2,23.9 105.6,20.7"/>
<path stroke-width="1.1" d="M105.5,212.6 105.0,209.3 104.5,206.0 104.0,202.8 103.5,199.5 103.0,196.3 102.5,193.0 102.0,189.8 101.5,186.5 101.1,183.3 100.6,180.0 100.1,176.8 99.6,173.5 99.1,170.3 98.7,167.0 98.2,163.8 97.8,160.5 97.4,157.3 97.0,154.0 96.6,150.8 96.3,147.5 95.9,144.3 95.6,141.0 95.4,137.7 95.2,134.5 95.0,131.2 94.8,128.0 94.7,124.7 94.6,121.5 94.6,118.2 94.6,115.0 94.6,111.7 94.7,108.5 94.8,105.2 95.0,102.0 95.2,98.7 95.4,95.5 95.7,92.2 96.0,89.0 96.3,85.7 96.7,82.5 97.1,79.2 97.5,76.0 97.9,72.7 98.3,69.5 98.8,66.2 99.3,62.9 99.7,59.7 100.2,56.4 100.7,53.2 101.2,49.9 101.7,46.7 102.2,43.4 102.6,40.2 103.1,36.9 103.6,33.7 104.1,30.4 104.6,27.2 105.1,23.9 105.6,20.7"/>
<path stroke-width="1.1" d="M105.4,212.6 104.8,209.3 104.2,206.0 103.6,202.8 103.0,199.5 102.4,196.3 101.8,193.0 101.2,189.8 100.6,186.5 100.0,183.3 99.5,180.0 98.9,176.8 98.3,173.5 97.7,170.3 97.2,167.0 96.6,163.8 96.1,160.5 95.6,157.3 95.1,154.0 94.6,150.8 94.2,147.5 93.8,144.3 93.5,141.0 93.1,137.7 92.9,134.5 92.6,131.2 92.4,128.0 92.3,124.7 92.2,121.5 92.2,118.2 92.2,115.0 92.2,111.7 92.3,108.5 92.5,105.2 92.7,102.0 92.9,98.7 93.2,95.5 93.5,92.2 93.9,89.0 94.3,85.7 94.8,82.5 95.2,79.2 95.7,76.0 96.2,72.7 96.7,69.5 97.3,66.2 97.9,62.9 98.4,59.7 99.0,56.4 99.6,53.2 100.2,49.9 100.8,46.7 101.4,43.4 102.0,40.2 102.6,36.9 103.2,33.7 103.8,30.4 104.4,27.2 104.9,23.9 105.5,20.7"/>
<path stroke-width="1.1" d="M105.3,212.6 104.6,209.3 103.9,206.0 103.2,202.8 102.5,199.5 101.8,196.3 101.1,193.0 100.4,189.8 99.7,186.5 99.1,183.3 98.4,180.0 97.7,176.8 97.0,173.5 96.3,170.3 95.7,167.0 95.0,163.8 94.4,160.5 93.8,157.3 93.2,154.0 92.7,150.8 92.2,147.5 91.7,144.3 91.3,141.0 90.9,137.7 90.6,134.5 90.3,131.2 90.1,128.0 90.0,124.7 89.8,121.5 89.8,118.2 89.8,115.0 89.9,111.7 90.0,108.5 90.2,105.2 90.4,102.0 90.7,98.7 91.0,95.5 91.4,92.2 91.8,89.0 92.3,85.7 92.8,82.5 93.4,79.2 94.0,76.0 94.6,72.7 95.2,69.5 95.8,66.2 96.5,62.9 97.2,59.7 97.8,56.4 98.5,53.2 99.2,49.9 99.9,46.7 100.6,43.4 101.3,40.2 102.0,36.9 102.7,33.7 103.4,30.4 104.1,27.2 104.8,23.9 105.5,20.7"/>
<path stroke-width="1.1" d="M105.3,212.6 104.5,209.3 103.7,206.0 102.9,202.8 102.1,199.5 101.3,196.3 100.5,193.0 99.7,189.8 98.9,186.5 98.1,183.3 97.3,180.0 96.5,176.8 95.7,173.5 95.0,170.3 94.2,167.0 93.5,163.8 92.8,160.5 92.1,157.3 91.4,154.0 90.8,150.8 90.2,147.5 89.7,144.3 89.2,141.0 88.8,137.7 88.4,134.5 88.1,131.2 87.8,128.0 87.7,124.7 87.5,121.5 87.5,118.2 87.5,115.0 87.6,111.7 87.7,108.5 87.9,105.2 88.2,102.0 88.5,98.7 88.9,95.5 89.3,92.2 89.8,89.0 90.4,85.7 91.0,82.5 91.6,79.2 92.2,76.0 92.9,72.7 93.6,69.5 94.4,66.2 95.1,62.9 95.9,59.7 96.7,56.4 97.5,53.2 98.3,49.9 99.1,46.7 99.9,43.4 100.7,40.2 101.5,36.9 102.3,33.7 103.1,30.4 103.9,27.2 104.7,23.9 105.5,20.7"/>
<path stroke-width="1.1" d="M105.2,212.6 104.3,209.3 103.4,206.0 102.5,202.8 101.6,199.5 100.7,196.3 99.8,193.0 98.9,189.8 98.0,186.5 97.1,183.3 96.2,180.0 95.4,176.8 94.5,173.5 93.6,170.3 92.8,167.0 91.9,163.8 91.2,160.5 90.4,157.3 89.7,154.0 89.0,150.8 88.3,147.5 87.7,144.3 87.2,141.0 86.7,137.7 86.3,134.5 85.9,131.2 85.6,128.0 85.4,124.7 85.3,121.5 85.2,118.2 85.2,115.0 85.3,111.7 85.5,108.5 85.7,105.2 86.0,102.0 86.4,98.7 86.8,95.5 87.3,92.2 87.9,89.0 88.5,85.7 89.1,82.5 89.8,79.2 90.6,76.0 91.3,72.7 92.1,69.5 93.0,66.2 93.8,62.9 94.7,59.7 95.6,56.4 96.4,53.2 97.3,49.9 98.2,46.7 99.1,43.4 100.0,40.2 100.9,36.9 101.8,33.7 102.7,30.4 103.6,27.2 104.5,23.9 105.4,20.7"/>
<path stroke-width="1.1" d="M105.2,212.6 104.2,209.3 103.2,206.0 102.2,202.8 101.2,199.5 100.2,196.3 99.2,193.0 98.2,189.8 97.2,186.5 96.2,183.3 95.2,180.0 94.2,176.8 93.3,173.5 92.3,170.3 91.4,167.0 90.5,163.8 89.6,160.5 88.7,157.3 87.9,154.0 87.2,150.8 86.5,147.5 85.8,144.3 85.2,141.0 84.7,137.7 84.2,134.5 83.8,131.2 83.5,128.0 83.2,124.7 83.1,121.5 83.0,118.2 83.0,115.0 83.1,111.7 83.3,108.5 83.6,105.2 83.9,102.0 84.3,98.7 84.8,95.5 85.3,92.2 85.9,89.0 86.6,85.7 87.3,82.5 88.1,79.2 88.9,76.0 89.8,72.7 90.7,69.5 91.6,66.2 92.5,62.9 93.5,59.7 94.5,56.4 95.5,53.2 96.4,49.9 97.4,46.7 98.4,43.4 99.4,40.2 100.4,36.9 101.4,33.7 102.4,30.4 103.4,27.2 104.4,23.9 105.4,20.7"/>
<path stroke-width="1.1" d="M105.1,212.6 104.0,209.3 102.9,206.0 101.8,202.8 100.8,199.5 99.7,196.3 98.6,193.0 97.5,189.8 96.4,186.5 95.3,183.3 94.2,180.0 93.2,176.8 92.1,173.5 91.1,170.3 90.0,167.0 89.0,163.8 88.1,160.5 87.2,157.3 86.3,154.0 85.4,150.8 84.6,147.5 83.9,144.3 83.3,141.0 82.7,137.7 82.2,134.5 81.7,131.2 81.4,128.0 81.1,124.7 81.0,121.5 80.9,118.2 80.9,115.0 81.0,111.7 81.2,108.5 81.5,105.2 81.8,102.0 82.3,98.7 82.8,95.5 83.4,92.2 84.1,89.0 84.8,85.7 85.6,82.5 86.5,79.2 87.4,76.0 88.3,72.7 89.3,69.5 90.3,66.2 91.3,62.9 92.4,59.7 93.4,56.4 94.5,53.2 95.6,49.9 96.7,46.7 97.8,43.4 98.8,40.2 99.9,36.9 101.0,33.7 102.1,30.4 103.2,27.2 104.3,23.9 105.4,20.7"/>
<path stroke-width="1.1" d="M105.0,212.6 103.9,209.3 102.7,206.0 101.5,202.8 100.3,199.5 99.2,196.3 98.0,193.0 96.8,189.8 95.6,186.5 94.5,183.3 93.3,180.0 92.1,176.8 91.0,173.5 89.9,170.3 88.7,167.0 87.7,163.8 86.6,160.5 85.6,157.3 84.7,154.0 83.8,150.8 82.9,147.5 82.1,144.3 81.4,141.0 80.8,137.7 80.2,134.5 79.8,131.2 79.4,128.0 79.1,124.7 78.9,121.5 78.8,118.2 78.9,115.0 79.0,111.7 79.2,108.5 79.5,105.2 79.9,102.0 80.4,98.7 80.9,95.5 81.6,92.2 82.3,89.0 83.1,85.7 84.0,82.5 84.9,79.2 85.9,76.0 86.9,72.7 87.9,69.5 89.0,66.2 90.1,62.9 91.3,59.7 92.4,56.4 93.6,53.2 94.7,49.9 95.9,46.7 97.1,43.4 98.3,40.2 99.5,36.9 100.6,33.7 101.8,30.4 103.0,27.2 104.2,23.9 105.3,20.7"/>
<path stroke-width="1.1" d="M105.0,212.6 103.7,209.3 102.5,206.0 101.2,202.8 100.0,199.5 98.7,196.3 97.4,193.0 96.2,189.8 94.9,186.5 93.6,183.3 92.4,180.0 91.1,176.8 89.9,173.5 88.7,170.3 87.5,167.0 86.4,163.8 85.2,160.5 84.2,157.3 83.1,154.0 82.2,150.8 81.2,147.5 80.4,144.3 79.6,141.0 79.0,137.7 78.4,134.5 77.9,131.2 77.5,128.0 77.2,124.7 77.0,121.5 76.9,118.2 76.9,115.0 77.0,111.7 77.2,108.5 77.6,105.2 78.0,102.0 78.5,98.7 79.1,95.5 79.8,92.2 80.6,89.0 81.5,85.7 82.4,82.5 83.4,79.2 84.4,76.0 85.5,72.7 86.6,69.5 87.8,66.2 89.0,62.9 90.2,59.7 91.4,56.4 92.7,53.2 93.9,49.9 95.2,46.7 96.5,43.4 97.7,40.2 99.0,36.9 100.3,33.7 101.5,30.4 102.8,27.2 104.0,23.9 105.3,20.7"/>
<path stroke-width="1.1" d="M104.9,212.6 103.6,209.3 102.3,206.0 100.9,202.8 99.6,199.5 98.2,196.3 96.9,193.0 95.5,189.8 94.2,186.5 92.8,183.3 91.5,180.0 90.2,176.8 88.9,173.5 87.6,170.3 86.3,167.0 85.1,163.8 83.9,160.5 82.8,157.3 81.7,154.0 80.6,150.8 79.7,147.5 78.8,144.3 78.0,141.0 77.2,137.7 76.6,134.5 76.1,131.2 75.6,128.0 75.3,124.7 75.1,121.5 75.0,118.2 75.0,115.0 75.1,111.7 75.4,108.5 75.7,105.2 76.2,102.0 76.7,98.7 77.4,95.5 78.1,92.2 79.0,89.0 79.9,85.7 80.9,82.5 81.9,79.2 83.0,76.0 84.2,72.7 85.4,69.5 86.6,66.2 87.9,62.9 89.2,59.7 90.5,56.4 91.8,53.2 93.2,49.9 94.5,46.7 95.9,43.4 97.2,40.2 98.6,36.9 99.9,33.7 101.2,30.4 102.6,27.2 103.9,23.9 105.3,20.7"/>
<path stroke-width="1.1" d="M104.9,212.6 103.5,209.3 102.1,206.0 100.6,202.8 99.2,199.5 97.8,196.3 96.4,193.0 94.9,189.8 93.5,186.5 92.1,183.3 90.7,180.0 89.3,176.8 87.9,173.5 86.5,170.3 85.2,167.0 83.9,163.8 82.6,160.5 81.4,157.3 80.3,154.0 79.2,150.8 78.2,147.5 77.2,144.3 76.3,141.0 75.6,137.7 74.9,134.5 74.4,131.2 73.9,128.0 73.6,124.7 73.3,121.5 73.2,118.2 73.2,115.0 73.4,111.7 73.6,108.5 74.0,105.2 74.5,102.0 75.1,98.7 75.8,95.5 76.5,92.2 77.4,89.0 78.4,85.7 79.4,82.5 80.5,79.2 81.7,76.0 82.9,72.7 84.2,69.5 85.5,66.2 86.9,62.9 88.2,59.7 89.6,56.4 91.0,53.2 92.4,49.9 93.9,46.7 95.3,43.4 96.7,40.2 98.1,36.9 99.6,33.7 101.0,30.4 102.4,27.2 103.8,23.9 105.2,20.7"/>
<path stroke-width="1.1" d="M104.9,212.6 103.4,209.3 101.9,206.0 100.4,202.8 98.9,199.5 97.4,196.3 95.9,193.0 94.4,189.8 92.9,186.5 91.4,183.3 89.9,180.0 88.4,176.8 87.0,173.5 85.6,170.3 84.1,167.0 82.8,163.8 81.5,160.5 80.2,157.3 79.0,154.0 77.8,150.8 76.7,147.5 75.7,144.3 74.8,141.0 74.0,137.7 73.3,134.5 72.7,131.2 72.3,128.0 71.9,124.7 71.7,121.5 71.6,118.2 71.6,115.0 71.7,111.7 72.0,108.5 72.4,105.2 72.9,102.0 73.5,98.7 74.2,95.5 75.0,92.2 76.0,89.0 77.0,85.7 78.1,82.5 79.2,79.2 80.5,76.0 81.8,72.7 83.1,69.5 84.5,66.2 85.9,62.9 87.3,59.7 88.8,56.4 90.3,53.2 91.8,49.9 93.3,46.7 94.7,43.4 96.2,40.2 97.7,36.9 99.2,33.7 100.7,30.4 102.2,27.2 103.7,23.9 105.2,20.7"/>
<path stroke-width="1.1" d="M104.8,212.6 103.3,209.3 101.7,206.0 100.1,202.8 98.6,199.5 97.0,196.3 95.4,193.0 93.9,189.8 92.3,186.5 90.7,183.3 89.2,180.0 87.6,176.8 86.1,173.5 84.6,170.3 83.2,167.0 81.7,163.8 80.3,160.5 79.0,157.3 77.7,154.0 76.5,150.8 75.4,147.5 74.4,144.3 73.4,141.0 72.6,137.7 71.8,134.5 71.2,131.2 70.7,128.0 70.4,124.7 70.1,121.5 70.0,118.2 70.0,115.0 70.2,111.7 70.4,108.5 70.8,105.2 71.4,102.0 72.0,98.7 72.8,95.5 73.6,92.2 74.6,89.0 75.7,85.7 76.8,82.5 78.0,79.2 79.3,76.0 80.7,72.7 82.1,69.5 83.5,66.2 85.0,62.9 86.5,59.7 88.0,56.4 89.6,53.2 91.1,49.9 92.7,46.7 94.2,43.4 95.8,40.2 97.4,36.9 98.9,33.7 100.5,30.4 102.1,27.2 103.6,23.9 105.2,20.7"/>
<path stroke-width="1.1" d="M104.8,212.6 103.2,209.3 101.5,206.0 99.9,202.8 98.3,199.5 96.6,196.3 95.0,193.0 93.4,189.8 91.8,186.5 90.1,183.3 88.5,180.0 86.9,176.8 85.3,173.5 83.8,170.3 82.2,167.0 80.7,163.8 79.3,160.5 77.9,157.3 76.6,154.0 75.3,150.8 74.2,147.5 73.1,144.3 72.1,141.0 71.2,137.7 70.5,134.5 69.8,131.2 69.3,128.0 68.9,124.7 68.7,121.5 68.5,118.2 68.6,115.0 68.7,111.7 69.0,108.5 69.4,105.2 70.0,102.0 70.6,98.7 71.4,95.5 72.3,92.2 73.3,89.0 74.4,85.7 75.6,82.5 76.9,79.2 78.2,76.0 79.6,72.7 81.1,69.5 82.6,66.2 84.1,62.9 85.7,59.7 87.3,56.4 88.9,53.2 90.5,49.9 92.1,46.7 93.8,43.4 95.4,40.2 97.0,36.9 98.7,33.7 100.3,30.4 101.9,27.2 103.5,23.9 105.2,20.7"/>
<path stroke-width="1.1" d="M104.7,212.6 103.1,209.3 101.4,206.0 99.7,202.8 98.0,199.5 96.3,196.3 94.6,193.0 92.9,189.8 91.3,186.5 89.6,183.3 87.9,180.0 86.2,176.8 84.6,173.5 83.0,170.3 81.4,167.0 79.9,163.8 78.4,160.5 76.9,157.3 75.5,154.0 74.2,150.8 73.0,147.5 71.9,144.3 70.9,141.0 70.0,137.7 69.2,134.5 68.5,131.2 68.0,128.0 67.6,124.7 67.3,121.5 67.2,118.2 67.2,115.0 67.4,111.7 67.7,108.5 68.1,105.2 68.7,102.0 69.4,98.7 70.2,95.5 71.1,92.2 72.2,89.0 73.3,85.7 74.6,82.5 75.9,79.2 77.3,76.0 78.7,72.7 80.2,69.5 81.8,66.2 83.4,62.9 85.0,59.7 86.6,56.4 88.3,53.2 90.0,49.9 91.7,46.7 93.3,43.4 95.0,40.2 96.7,36.9 98.4,33.7 100.1,30.4 101.8,27.2 103.5,23.9 105.1,20.7"/>
<path stroke-width="1.1" d="M104.7,212.6 103.0,209.3 101.2,206.0 99.5,202.8 97.8,199.5 96.0,196.3 94.3,193.0 92.5,189.8 90.8,186.5 89.1,183.3 87.3,180.0 85.6,176.8 83.9,173.5 82.3,170.3 80.6,167.0 79.0,163.8 77.5,160.5 76.0,157.3 74.6,154.0 73.3,150.8 72.0,147.5 70.9,144.3 69.8,141.0 68.9,137.7 68.1,134.5 67.4,131.2 66.8,128.0 66.4,124.7 66.1,121.5 66.0,118.2 66.0,115.0 66.2,111.7 66.5,108.5 66.9,105.2 67.5,102.0 68.2,98.7 69.1,95.5 70.0,92.2 71.1,89.0 72.3,85.7 73.6,82.5 74.9,79.2 76.4,76.0 77.9,72.7 79.4,69.5 81.0,66.2 82.7,62.9 84.3,59.7 86.0,56.4 87.7,53.2 89.5,49.9 91.2,46.7 93.0,43.4 94.7,40.2 96.4,36.9 98.2,33.7 99.9,30.4 101.7,27.2 103.4,23.9 105.1,20.7"/>
<path stroke-width="1.1" d="M104.7,212.6 102.9,209.3 101.1,206.0 99.3,202.8 97.5,199.5 95.8,196.3 94.0,193.0 92.2,189.8 90.4,186.5 88.6,183.3 86.8,180.0 85.1,176.8 83.3,173.5 81.6,170.3 79.9,167.0 78.3,163.8 76.7,160.5 75.2,157.3 73.7,154.0 72.4,150.8 71.1,147.5 69.9,144.3 68.8,141.0 67.9,137.7 67.0,134.5 66.3,131.2 65.7,128.0 65.3,124.7 65.0,121.5 64.9,118.2 64.9,115.0 65.1,111.7 65.4,108.5 65.9,105.2 66.5,102.0 67.2,98.7 68.1,95.5 69.1,92.2 70.2,89.0 71.4,85.7 72.7,82.5 74.1,79.2 75.6,76.0 77.1,72.7 78.7,69.5 80.3,66.2 82.0,62.9 83.7,59.7 85.5,56.4 87.3,53.2 89.0,49.9 90.8,46.7 92.6,43.4 94.4,40.2 96.2,36.9 98.0,33.7 99.8,30.4 101.5,27.2 103.3,23.9 105.1,20.7"/>
<path stroke-width="1.1" d="M104.7,212.6 102.8,209.3 101.0,206.0 99.2,202.8 97.4,199.5 95.5,196.3 93.7,193.0 91.9,189.8 90.0,186.5 88.2,183.3 86.4,180.0 84.6,176.8 82.8,173.5 81.1,170.3 79.3,167.0 77.7,163.8 76.0,160.5 74.5,157.3 73.0,154.0 71.6,150.8 70.3,147.5 69.1,144.3 67.9,141.0 67.0,137.7 66.1,134.5 65.4,131.2 64.8,128.0 64.4,124.7 64.1,121.5 63.9,118.2 64.0,115.0 64.1,111.7 64.5,108.5 64.9,105.2 65.5,102.0 66.3,98.7 67.2,95.5 68.2,92.2 69.3,89.0 70.6,85.7 71.9,82.5 73.3,79.2 74.8,76.0 76.4,72.7 78.1,69.5 79.7,66.2 81.5,62.9 83.2,59.7 85.0,56.4 86.8,53.2 88.6,49.9 90.5,46.7 92.3,43.4 94.1,40.2 96.0,36.9 97.8,33.7 99.6,30.4 101.4,27.2 103.3,23.9 105.1,20.7"/>
<path stroke-width="1.1" d="M104.6,212.6 102.8,209.3 100.9,206.0 99.1,202.8 97.2,199.5 95.3,196.3 93.5,193.0 91.6,189.8 89.7,186.5 87.9,183.3 86.0,180.0 84.2,176.8 82.3,173.5 80.6,170.3 78.8,167.0 77.1,163.8 75.4,160.5 73.9,157.3 72.3,154.0 70.9,150.8 69.6,147.5 68.3,144.3 67.2,141.0 66.2,137.7 65.3,134.5 64.6,131.2 64.0,128.0 63.5,124.7 63.3,121.5 63.1,118.2 63.1,115.0 63.3,111.7 63.6,108.5 64.1,105.2 64.7,102.0 65.5,98.7 66.4,95.5 67.5,92.2 68.6,89.0 69.9,85.7 71.2,82.5 72.7,79.2 74.2,76.0 75.8,72.7 77.5,69.5 79.2,66.2 81.0,62.9 82.8,59.7 84.6,56.4 86.4,53.2 88.3,49.9 90.2,46.7 92.0,43.4 93.9,40.2 95.8,36.9 97.6,33.7 99.5,30.4 101.4,27.2 103.2,23.9 105.1,20.7"/>
<path stroke-width="1.1" d="M104.6,212.6 102.7,209.3 100.8,206.0 98.9,202.8 97.1,199.5 95.2,196.3 93.3,193.0 91.4,189.8 89.5,186.5 87.6,183.3 85.7,180.0 83.8,176.8 82.0,173.5 80.2,170.3 78.4,167.0 76.6,163.8 75.0,160.5 73.3,157.3 71.8,154.0 70.3,150.8 69.0,147.5 67.7,144.3 66.6,141.0 65.6,137.7 64.7,134.5 63.9,131.2 63.3,128.0 62.9,124.7 62.6,121.5 62.4,118.2 62.4,115.0 62.6,111.7 63.0,108.5 63.4,105.2 64.1,102.0 64.9,98.7 65.8,95.5 66.8,92.2 68.0,89.0 69.3,85.7 70.7,82.5 72.2,79.2 73.7,76.0 75.4,72.7 77.0,69.5 78.8,66.2 80.6,62.9 82.4,59.7 84.3,56.4 86.1,53.2 88.0,49.9 89.9,46.7 91.8,43.4 93.7,40.2 95.6,36.9 97.5,33.7 99.4,30.4 101.3,27.2 103.2,23.9 105.1,20.7"/>
<path stroke-width="1.1" d="M104.6,212.6 102.7,209.3 100.8,206.0 98.9,202.8 96.9,199.5 95.0,196.3 93.1,193.0 91.2,189.8 89.2,186.5 87.3,183.3 85.4,180.0 83.5,176.8 81.7,173.5 79.8,170.3 78.0,167.0 76.3,163.8 74.6,160.5 72.9,157.3 71.4,154.0 69.9,150.8 68.5,147.5 67.2,144.3 66.1,141.0 65.0,137.7 64.1,134.5 63.4,131.2 62.8,128.0 62.3,124.7 62.0,121.5 61.9,118.2 61.9,115.0 62.1,111.7 62.4,108.5 62.9,105.2 63.5,102.0 64.3,98.7 65.3,95.5 66.3,92.2 67.5,89.0 68.8,85.7 70.2,82.5 71.7,79.2 73.3,76.0 75.0,72.7 76.7,69.5 78.4,66.2 80.3,62.9 82.1,59.7 84.0,56.4 85.9,53.2 87.8,49.9 89.7,46.7 91.6,43.4 93.6,40.2 95.5,36.9 97.4,33.7 99.3,30.4 101.2,27.2 103.1,23.9 105.1,20.7"/>
<path stroke-width="1.1" d="M104.6,212.6 102.7,209.3 100.7,206.0 98.8,202.8 96.9,199.5 94.9,196.3 93.0,193.0 91.0,189.8 89.1,186.5 87.2,183.3 85.2,180.0 83.3,176.8 81.4,173.5 79.6,170.3 77.8,167.0 76.0,163.8 74.3,160.5 72.6,157.3 71.0,154.0 69.5,150.8 68.1,147.5 66.9,144.3 65.7,141.0 64.6,137.7 63.7,134.5 63.0,131.2 62.4,128.0 61.9,124.7 61.6,121.5 61.4,118.2 61.5,115.0 61.6,111.7 62.0,108.5 62.5,105.2 63.1,102.0 63.9,98.7 64.9,95.5 66.0,92.2 67.2,89.0 68.5,85.7 69.9,82.5 71.4,79.2 73.0,76.0 74.7,72.7 76.4,69.5 78.2,66.2 80.0,62.9 81.9,59.7 83.8,56.4 85.7,53.2 87.6,49.9 89.6,46.7 91.5,43.4 93.4,40.2 95.4,36.9 97.3,33.7 99.3,30.4 101.2,27.2 103.1,23.9 105.1,20.7"/>
<path stroke-width="1.1" d="M104.6,212.6 102.6,209.3 100.7,206.0 98.7,202.8 96.8,199.5 94.8,196.3 92.9,193.0 90.9,189.8 89.0,186.5 87.0,183.3 85.1,180.0 83.2,176.8 81.3,173.5 79.4,170.3 77.6,167.0 75.8,163.8 74.1,160.5 72.4,157.3 70.8,154.0 69.3,150.8 67.9,147.5 66.6,144.3 65.4,141.0 64.4,137.7 63.5,134.5 62.7,131.2 62.1,128.0 61.6,124.7 61.3,121.5 61.2,118.2 61.2,115.0 61.4,111.7 61.7,108.5 62.2,105.2 62.9,102.0 63.7,98.7 64.6,95.5 65.7,92.2 66.9,89.0 68.2,85.7 69.7,82.5 71.2,79.2 72.8,76.0 74.5,72.7 76.2,69.5 78.0,66.2 79.9,62.9 81.7,59.7 83.6,56.4 85.6,53.2 87.5,49.9 89.4,46.7 91.4,43.4 93.4,40.2 95.3,36.9 97.3,33.7 99.2,30.4 101.2,27.2 103.1,23.9 105.1,20.7"/>
<path stroke-width="1.1" d="M104.6,212.6 102.6,209.3 100.7,206.0 98.7,202.8 96.8,199.5 94.8,196.3 92.8,193.0 90.9,189.8 88.9,186.5 87.0,183.3 85.0,180.0 83.1,176.8 81.2,173.5 79.3,170.3 77.5,167.0 75.7,163.8 74.0,160.5 72.3,157.3 70.7,154.0 69.2,150.8 67.8,147.5 66.5,144.3 65.3,141.0 64.3,137.7 63.3,134.5 62.6,131.2 61.9,128.0 61.5,124.7 61.2,121.5 61.0,118.2 61.0,115.0 61.2,111.7 61.6,108.5 62.1,105.2 62.7,102.0 63.5,98.7 64.5,95.5 65.6,92.2 66.8,89.0 68.1,85.7 69.5,82.5 71.1,79.2 72.7,76.0 74.4,72.7 76.1,69.5 77.9,66.2 79.8,62.9 81.7,59.7 83.6,56.4 85.5,53.2 87.4,49.9 89.4,46.7 91.4,43.4 93.3,40.2 95.3,36.9 97.2,33.7 99.2,30.4 101.1,27.2 103.1,23.9 105.0,20.7"/>
<path stroke-width="1.0" d="M105.2,212.6 104.3,209.3 103.4,206.0 102.5,202.8 101.5,199.5 100.6,196.3 99.7,193.0 98.8,189.8 97.9,186.5 97.0,183.3 96.0,180.0 95.1,176.8 94.3,173.5 93.4,170.3 92.5,167.0 91.7,163.8 90.9,160.5 90.1,157.3 89.3,154.0 88.6,150.8 88.0,147.5 87.4,144.3 86.8,141.0 86.3,137.7 85.9,134.5 85.5,131.2 85.2,128.0 85.0,124.7 84.9,121.5 84.8,118.2 84.8,115.0 84.9,111.7 85.1,108.5 85.3,105.2 85.6,102.0 86.0,98.7 86.4,95.5 86.9,92.2 87.5,89.0 88.1,85.7 88.8,82.5 89.5,79.2 90.3,76.0 91.1,72.7 91.9,69.5 92.7,66.2 93.6,62.9 94.5,59.7 95.4,56.4 96.3,53.2 97.2,49.9 98.1,46.7 99.0,43.4 99.9,40.2 100.8,36.9 101.8,33.7 102.7,30.4 103.6,27.2 104.5,23.9 105.4,20.7"/>
<path stroke-width="1.0" d="M106.3,212.6 107.2,209.3 108.2,206.0 109.1,202.8 110.0,199.5 111.0,196.3 111.9,193.0 112.9,189.8 113.8,186.5 114.7,183.3 115.6,180.0 116.6,176.8 117.5,173.5 118.4,170.3 119.3,167.0 120.1,163.8 120.9,160.5 121.7,157.3 122.5,154.0 123.2,150.8 123.9,147.5 124.5,144.3 125.1,141.0 125.6,137.7 126.0,134.5 126.4,131.2 126.7,128.0 126.9,124.7 127.1,121.5 127.1,118.2 127.1,115.0 127.0,111.7 126.9,108.5 126.6,105.2 126.3,102.0 125.9,98.7 125.5,95.5 124.9,92.2 124.4,89.0 123.7,85.7 123.0,82.5 122.3,79.2 121.5,76.0 120.7,72.7 119.9,69.5 119.0,66.2 118.2,62.9 117.3,59.7 116.4,56.4 115.4,53.2 114.5,49.9 113.6,46.7 112.6,43.4 111.7,40.2 110.8,36.9 109.8,33.7 108.9,30.4 107.9,27.2 107.0,23.9 106.1,20.7"/>
<path stroke-width="1.0" d="M105.1,212.6 104.1,209.3 103.1,206.0 102.1,202.8 101.1,199.5 100.1,196.3 99.1,193.0 98.1,189.8 97.0,186.5 96.0,183.3 95.0,180.0 94.0,176.8 93.0,173.5 92.1,170.3 91.1,167.0 90.2,163.8 89.3,160.5 88.4,157.3 87.6,154.0 86.8,150.8 86.1,147.5 85.4,144.3 84.8,141.0 84.3,137.7 83.8,134.5 83.4,131.2 83.1,128.0 82.8,124.7 82.7,121.5 82.6,118.2 82.6,115.0 82.7,111.7 82.9,108.5 83.1,105.2 83.5,102.0 83.9,98.7 84.4,95.5 85.0,92.2 85.6,89.0 86.3,85.7 87.0,82.5 87.8,79.2 88.6,76.0 89.5,72.7 90.4,69.5 91.3,66.2 92.3,62.9 93.3,59.7 94.3,56.4 95.3,53.2 96.3,49.9 97.3,46.7 98.3,43.4 99.3,40.2 100.3,36.9 101.3,33.7 102.4,30.4 103.4,27.2 104.4,23.9 105.4,20.7"/>
<path stroke-width="1.0" d="M106.3,212.6 107.3,209.3 108.3,206.0 109.2,202.8 110.2,199.5 111.2,196.3 112.2,193.0 113.2,189.8 114.1,186.5 115.1,183.3 116.1,180.0 117.0,176.8 118.0,173.5 118.9,170.3 119.8,167.0 120.7,163.8 121.6,160.5 122.4,157.3 123.2,154.0 124.0,150.8 124.7,147.5 125.3,144.3 125.9,141.0 126.4,137.7 126.9,134.5 127.3,131.2 127.6,128.0 127.8,124.7 128.0,121.5 128.0,118.2 128.0,115.0 127.9,111.7 127.8,108.5 127.5,105.2 127.2,102.0 126.8,98.7 126.3,95.5 125.8,92.2 125.2,89.0 124.5,85.7 123.8,82.5 123.0,79.2 122.2,76.0 121.4,72.7 120.5,69.5 119.6,66.2 118.7,62.9 117.8,59.7 116.8,56.4 115.8,53.2 114.9,49.9 113.9,46.7 112.9,43.4 111.9,40.2 111.0,36.9 110.0,33.7 109.0,30.4 108.0,27.2 107.1,23.9 106.1,20.7"/>
<path stroke-width="1.0" d="M105.1,212.6 104.1,209.3 103.0,206.0 101.9,202.8 100.9,199.5 99.8,196.3 98.7,193.0 97.6,189.8 96.6,186.5 95.5,183.3 94.5,180.0 93.4,176.8 92.4,173.5 91.3,170.3 90.3,167.0 89.4,163.8 88.4,160.5 87.5,157.3 86.6,154.0 85.8,150.8 85.1,147.5 84.3,144.3 83.7,141.0 83.1,137.7 82.6,134.5 82.2,131.2 81.9,128.0 81.6,124.7 81.4,121.5 81.4,118.2 81.4,115.0 81.5,111.7 81.7,108.5 81.9,105.2 82.3,102.0 82.7,98.7 83.3,95.5 83.9,92.2 84.5,89.0 85.2,85.7 86.0,82.5 86.8,79.2 87.7,76.0 88.6,72.7 89.6,69.5 90.6,66.2 91.6,62.9 92.6,59.7 93.7,56.4 94.7,53.2 95.8,49.9 96.8,46.7 97.9,43.4 99.0,40.2 100.0,36.9 101.1,33.7 102.2,30.4 103.2,27.2 104.3,23.9 105.4,20.7"/>
<path stroke-width="1.0" d="M106.4,212.6 107.5,209.3 108.6,206.0 109.7,202.8 110.8,199.5 111.9,196.3 113.0,193.0 114.2,189.8 115.3,186.5 116.4,183.3 117.5,180.0 118.6,176.8 119.6,173.5 120.7,170.3 121.7,167.0 122.7,163.8 123.7,160.5 124.7,157.3 125.6,154.0 126.4,150.8 127.2,147.5 127.9,144.3 128.6,141.0 129.2,137.7 129.7,134.5 130.2,131.2 130.5,128.0 130.8,124.7 131.0,121.5 131.0,118.2 131.0,115.0 130.9,111.7 130.7,108.5 130.4,105.2 130.1,102.0 129.6,98.7 129.1,95.5 128.5,92.2 127.8,89.0 127.0,85.7 126.2,82.5 125.4,79.2 124.4,76.0 123.5,72.7 122.5,69.5 121.5,66.2 120.4,62.9 119.4,59.7 118.3,56.4 117.2,53.2 116.1,49.9 115.0,46.7 113.9,43.4 112.8,40.2 111.7,36.9 110.6,33.7 109.5,30.4 108.4,27.2 107.2,23.9 106.1,20.7"/>
<path stroke-width="1.0" d="M105.1,212.6 103.9,209.3 102.8,206.0 101.7,202.8 100.6,199.5 99.4,196.3 98.3,193.0 97.1,189.8 96.0,186.5 94.9,183.3 93.8,180.0 92.6,176.8 91.5,173.5 90.5,170.3 89.4,167.0 88.4,163.8 87.3,160.5 86.4,157.3 85.5,154.0 84.6,150.8 83.8,147.5 83.0,144.3 82.3,141.0 81.7,137.7 81.2,134.5 80.8,131.2 80.4,128.0 80.1,124.7 79.9,121.5 79.9,118.2 79.9,115.0 80.0,111.7 80.2,108.5 80.5,105.2 80.9,102.0 81.3,98.7 81.9,95.5 82.5,92.2 83.2,89.0 84.0,85.7 84.8,82.5 85.7,79.2 86.6,76.0 87.6,72.7 88.6,69.5 89.6,66.2 90.7,62.9 91.8,59.7 92.9,56.4 94.0,53.2 95.2,49.9 96.3,46.7 97.4,43.4 98.6,40.2 99.7,36.9 100.8,33.7 102.0,30.4 103.1,27.2 104.2,23.9 105.3,20.7"/>
<path stroke-width="1.0" d="M106.5,212.6 107.6,209.3 108.8,206.0 110.0,202.8 111.2,199.5 112.4,196.3 113.6,193.0 114.8,189.8 116.0,186.5 117.2,183.3 118.3,180.0 119.5,176.8 120.7,173.5 121.8,170.3 122.9,167.0 124.0,163.8 125.1,160.5 126.1,157.3 127.0,154.0 128.0,150.8 128.8,147.5 129.6,144.3 130.3,141.0 131.0,137.7 131.5,134.5 132.0,131.2 132.4,128.0 132.7,124.7 132.8,121.5 132.9,118.2 132.9,115.0 132.8,111.7 132.6,108.5 132.3,105.2 131.9,102.0 131.4,98.7 130.8,95.5 130.2,92.2 129.4,89.0 128.6,85.7 127.7,82.5 126.8,79.2 125.8,76.0 124.8,72.7 123.8,69.5 122.7,66.2 121.5,62.9 120.4,59.7 119.2,56.4 118.1,53.2 116.9,49.9 115.7,46.7 114.5,43.4 113.3,40.2 112.1,36.9 110.9,33.7 109.7,30.4 108.5,27.2 107.4,23.9 106.2,20.7"/>
<path stroke-width="1.0" d="M105.0,212.6 103.7,209.3 102.4,206.0 101.2,202.8 99.9,199.5 98.6,196.3 97.4,193.0 96.1,189.8 94.8,186.5 93.5,183.3 92.3,180.0 91.0,176.8 89.8,173.5 88.5,170.3 87.4,167.0 86.2,163.8 85.1,160.5 84.0,157.3 82.9,154.0 82.0,150.8 81.0,147.5 80.2,144.3 79.4,141.0 78.7,137.7 78.1,134.5 77.6,131.2 77.2,128.0 76.9,124.7 76.7,121.5 76.6,118.2 76.6,115.0 76.8,111.7 77.0,108.5 77.3,105.2 77.7,102.0 78.3,98.7 78.9,95.5 79.6,92.2 80.4,89.0 81.3,85.7 82.2,82.5 83.2,79.2 84.2,76.0 85.3,72.7 86.5,69.5 87.6,66.2 88.8,62.9 90.1,59.7 91.3,56.4 92.6,53.2 93.8,49.9 95.1,46.7 96.4,43.4 97.7,40.2 98.9,36.9 100.2,33.7 101.5,30.4 102.8,27.2 104.0,23.9 105.3,20.7"/>
<path stroke-width="1.0" d="M106.5,212.6 107.7,209.3 109.0,206.0 110.2,202.8 111.5,199.5 112.7,196.3 114.0,193.0 115.3,189.8 116.5,186.5 117.8,183.3 119.0,180.0 120.2,176.8 121.4,173.5 122.6,170.3 123.8,167.0 125.0,163.8 126.1,160.5 127.1,157.3 128.2,154.0 129.1,150.8 130.0,147.5 130.9,144.3 131.6,141.0 132.3,137.7 132.9,134.5 133.4,131.2 133.8,128.0 134.1,124.7 134.3,121.5 134.3,118.2 134.3,115.0 134.2,111.7 134.0,108.5 133.7,105.2 133.3,102.0 132.7,98.7 132.1,95.5 131.4,92.2 130.7,89.0 129.8,85.7 128.9,82.5 127.9,79.2 126.9,76.0 125.8,72.7 124.7,69.5 123.5,66.2 122.4,62.9 121.2,59.7 119.9,56.4 118.7,53.2 117.5,49.9 116.2,46.7 115.0,43.4 113.7,40.2 112.4,36.9 111.2,33.7 109.9,30.4 108.7,27.2 107.4,23.9 106.2,20.7"/>
<path stroke-width="1.0" d="M105.0,212.6 103.6,209.3 102.3,206.0 101.0,202.8 99.7,199.5 98.3,196.3 97.0,193.0 95.7,189.8 94.4,186.5 93.0,183.3 91.7,180.0 90.4,176.8 89.1,173.5 87.8,170.3 86.6,167.0 85.4,163.8 84.2,160.5 83.1,157.3 82.0,154.0 81.0,150.8 80.0,147.5 79.1,144.3 78.3,141.0 77.6,137.7 77.0,134.5 76.5,131.2 76.1,128.0 75.7,124.7 75.5,121.5 75.4,118.2 75.5,115.0 75.6,111.7 75.8,108.5 76.2,105.2 76.6,102.0 77.1,98.7 77.8,95.5 78.5,92.2 79.3,89.0 80.2,85.7 81.2,82.5 82.3,79.2 83.3,76.0 84.5,72.7 85.7,69.5 86.9,66.2 88.1,62.9 89.4,59.7 90.7,56.4 92.0,53.2 93.3,49.9 94.7,46.7 96.0,43.4 97.3,40.2 98.7,36.9 100.0,33.7 101.3,30.4 102.6,27.2 104.0,23.9 105.3,20.7"/>
<path stroke-width="1.0" d="M106.5,212.6 107.9,209.3 109.2,206.0 110.5,202.8 111.8,199.5 113.2,196.3 114.5,193.0 115.8,189.8 117.1,186.5 118.5,183.3 119.8,180.0 121.1,176.8 122.4,173.5 123.6,170.3 124.9,167.0 126.1,163.8 127.3,160.5 128.4,157.3 129.5,154.0 130.5,150.8 131.4,147.5 132.3,144.3 133.1,141.0 133.8,137.7 134.5,134.5 135.0,131.2 135.4,128.0 135.7,124.7 135.9,121.5 136.0,118.2 136.0,115.0 135.9,111.7 135.7,108.5 135.3,105.2 134.9,102.0 134.3,98.7 133.7,95.5 132.9,92.2 132.1,89.0 131.2,85.7 130.3,82.5 129.2,79.2 128.1,76.0 127.0,72.7 125.8,69.5 124.6,66.2 123.3,62.9 122.1,59.7 120.8,56.4 119.5,53.2 118.1,49.9 116.8,46.7 115.5,43.4 114.2,40.2 112.8,36.9 111.5,33.7 110.2,30.4 108.9,27.2 107.5,23.9 106.2,20.7"/>
<path stroke-width="1.0" d="M104.9,212.6 103.5,209.3 102.1,206.0 100.7,202.8 99.3,199.5 97.9,196.3 96.5,193.0 95.0,189.8 93.6,186.5 92.2,183.3 90.8,180.0 89.4,176.8 88.1,173.5 86.7,170.3 85.4,167.0 84.1,163.8 82.9,160.5 81.7,157.3 80.5,154.0 79.4,150.8 78.4,147.5 77.5,144.3 76.6,141.0 75.9,137.7 75.2,134.5 74.6,131.2 74.2,128.0 73.9,124.7 73.6,121.5 73.5,118.2 73.6,115.0 73.7,111.7 73.9,108.5 74.3,105.2 74.8,102.0 75.4,98.7 76.0,95.5 76.8,92.2 77.7,89.0 78.6,85.7 79.7,82.5 80.8,79.2 81.9,76.0 83.2,72.7 84.4,69.5 85.7,66.2 87.0,62.9 88.4,59.7 89.8,56.4 91.2,53.2 92.6,49.9 94.0,46.7 95.4,43.4 96.8,40.2 98.2,36.9 99.6,33.7 101.0,30.4 102.4,27.2 103.8,23.9 105.2,20.7"/>
<path stroke-width="1.0" d="M106.6,212.6 108.0,209.3 109.4,206.0 110.9,202.8 112.3,199.5 113.7,196.3 115.1,193.0 116.6,189.8 118.0,186.5 119.4,183.3 120.8,180.0 122.2,176.8 123.6,173.5 125.0,170.3 126.3,167.0 127.6,163.8 128.9,160.5 130.1,157.3 131.2,154.0 132.3,150.8 133.3,147.5 134.3,144.3 135.1,141.0 135.9,137.7 136.6,134.5 137.1,131.2 137.6,128.0 137.9,124.7 138.2,121.5 138.3,118.2 138.2,115.0 138.1,111.7 137.9,108.5 137.5,105.2 137.0,102.0 136.4,98.7 135.7,95.5 134.9,92.2 134.1,89.0 133.1,85.7 132.1,82.5 131.0,79.2 129.8,76.0 128.6,72.7 127.3,69.5 126.0,66.2 124.6,62.9 123.3,59.7 121.9,56.4 120.5,53.2 119.1,49.9 117.6,46.7 116.2,43.4 114.8,40.2 113.4,36.9 111.9,33.7 110.5,30.4 109.1,27.2 107.7,23.9 106.3,20.7"/>
<path stroke-width="1.0" d="M104.8,212.6 103.3,209.3 101.8,206.0 100.3,202.8 98.8,199.5 97.3,196.3 95.8,193.0 94.3,189.8 92.7,186.5 91.2,183.3 89.7,180.0 88.2,176.8 86.8,173.5 85.3,170.3 83.9,167.0 82.5,163.8 81.2,160.5 79.9,157.3 78.7,154.0 77.5,150.8 76.4,147.5 75.4,144.3 74.5,141.0 73.7,137.7 73.0,134.5 72.4,131.2 71.9,128.0 71.5,124.7 71.3,121.5 71.2,118.2 71.2,115.0 71.3,111.7 71.6,108.5 72.0,105.2 72.5,102.0 73.1,98.7 73.9,95.5 74.7,92.2 75.6,89.0 76.7,85.7 77.8,82.5 78.9,79.2 80.2,76.0 81.5,72.7 82.8,69.5 84.2,66.2 85.7,62.9 87.1,59.7 88.6,56.4 90.1,53.2 91.6,49.9 93.1,46.7 94.6,43.4 96.1,40.2 97.7,36.9 99.2,33.7 100.7,30.4 102.2,27.2 103.7,23.9 105.2,20.7"/>
<path stroke-width="1.0" d="M106.7,212.6 108.2,209.3 109.7,206.0 111.2,202.8 112.7,199.5 114.2,196.3 115.7,193.0 117.3,189.8 118.8,186.5 120.3,183.3 121.8,180.0 123.3,176.8 124.8,173.5 126.2,170.3 127.7,167.0 129.0,163.8 130.4,160.5 131.7,157.3 132.9,154.0 134.1,150.8 135.2,147.5 136.2,144.3 137.1,141.0 137.9,137.7 138.6,134.5 139.2,131.2 139.7,128.0 140.1,124.7 140.3,121.5 140.4,118.2 140.4,115.0 140.3,111.7 140.0,108.5 139.6,105.2 139.1,102.0 138.5,98.7 137.7,95.5 136.9,92.2 135.9,89.0 134.9,85.7 133.8,82.5 132.6,79.2 131.4,76.0 130.1,72.7 128.7,69.5 127.3,66.2 125.9,62.9 124.4,59.7 122.9,56.4 121.4,53.2 119.9,49.9 118.4,46.7 116.9,43.4 115.4,40.2 113.9,36.9 112.3,33.7 110.8,30.4 109.3,27.2 107.8,23.9 106.3,20.7"/>
<path stroke-width="1.0" d="M104.8,212.6 103.1,209.3 101.5,206.0 99.9,202.8 98.3,199.5 96.6,196.3 95.0,193.0 93.3,189.8 91.7,186.5 90.1,183.3 88.5,180.0 86.8,176.8 85.3,173.5 83.7,170.3 82.2,167.0 80.7,163.8 79.2,160.5 77.8,157.3 76.5,154.0 75.2,150.8 74.1,147.5 73.0,144.3 72.0,141.0 71.1,137.7 70.3,134.5 69.7,131.2 69.2,128.0 68.8,124.7 68.5,121.5 68.4,118.2 68.4,115.0 68.6,111.7 68.9,108.5 69.3,105.2 69.8,102.0 70.5,98.7 71.3,95.5 72.2,92.2 73.2,89.0 74.3,85.7 75.5,82.5 76.8,79.2 78.2,76.0 79.6,72.7 81.0,69.5 82.5,66.2 84.1,62.9 85.6,59.7 87.2,56.4 88.8,53.2 90.5,49.9 92.1,46.7 93.7,43.4 95.4,40.2 97.0,36.9 98.6,33.7 100.3,30.4 101.9,27.2 103.5,23.9 105.2,20.7"/>
<path stroke-width="1.0" d="M106.7,212.6 108.3,209.3 109.9,206.0 111.6,202.8 113.2,199.5 114.8,196.3 116.4,193.0 118.0,189.8 119.7,186.5 121.3,183.3 122.9,180.0 124.5,176.8 126.1,173.5 127.6,170.3 129.1,167.0 130.6,163.8 132.1,160.5 133.4,157.3 134.8,154.0 136.0,150.8 137.2,147.5 138.2,144.3 139.2,141.0 140.1,137.7 140.8,134.5 141.5,131.2 142.0,128.0 142.4,124.7 142.6,121.5 142.8,118.2 142.7,115.0 142.6,111.7 142.3,108.5 141.9,105.2 141.3,102.0 140.7,98.7 139.9,95.5 139.0,92.2 138.0,89.0 136.9,85.7 135.7,82.5 134.4,79.2 133.1,76.0 131.7,72.7 130.3,69.5 128.8,66.2 127.2,62.9 125.7,59.7 124.1,56.4 122.5,53.2 120.9,49.9 119.3,46.7 117.7,43.4 116.0,40.2 114.4,36.9 112.8,33.7 111.2,30.4 109.6,27.2 107.9,23.9 106.3,20.7"/>
<path stroke-width="1.0" d="M104.7,212.6 103.1,209.3 101.4,206.0 99.7,202.8 98.0,199.5 96.3,196.3 94.6,193.0 92.9,189.8 91.2,186.5 89.5,183.3 87.8,180.0 86.1,176.8 84.5,173.5 82.9,170.3 81.3,167.0 79.7,163.8 78.2,160.5 76.8,157.3 75.4,154.0 74.1,150.8 72.9,147.5 71.8,144.3 70.7,141.0 69.8,137.7 69.0,134.5 68.4,131.2 67.8,128.0 67.4,124.7 67.2,121.5 67.0,118.2 67.0,115.0 67.2,111.7 67.5,108.5 67.9,105.2 68.5,102.0 69.2,98.7 70.0,95.5 71.0,92.2 72.0,89.0 73.2,85.7 74.4,82.5 75.7,79.2 77.1,76.0 78.6,72.7 80.1,69.5 81.7,66.2 83.3,62.9 84.9,59.7 86.5,56.4 88.2,53.2 89.9,49.9 91.6,46.7 93.3,43.4 95.0,40.2 96.7,36.9 98.4,33.7 100.1,30.4 101.8,27.2 103.5,23.9 105.1,20.7"/>
<path stroke-width="1.0" d="M106.8,212.6 108.5,209.3 110.2,206.0 111.9,202.8 113.6,199.5 115.4,196.3 117.1,193.0 118.8,189.8 120.5,186.5 122.2,183.3 124.0,180.0 125.6,176.8 127.3,173.5 129.0,170.3 130.6,167.0 132.2,163.8 133.7,160.5 135.1,157.3 136.5,154.0 137.9,150.8 139.1,147.5 140.2,144.3 141.3,141.0 142.2,137.7 143.0,134.5 143.7,131.2 144.2,128.0 144.7,124.7 144.9,121.5 145.0,118.2 145.0,115.0 144.9,111.7 144.6,108.5 144.1,105.2 143.5,102.0 142.8,98.7 142.0,95.5 141.0,92.2 140.0,89.0 138.8,85.7 137.6,82.5 136.2,79.2 134.8,76.0 133.3,72.7 131.8,69.5 130.2,66.2 128.6,62.9 126.9,59.7 125.2,56.4 123.5,53.2 121.8,49.9 120.1,46.7 118.4,43.4 116.7,40.2 114.9,36.9 113.2,33.7 111.5,30.4 109.8,27.2 108.1,23.9 106.4,20.7"/>
<path stroke-width="1.0" d="M104.7,212.6 103.0,209.3 101.2,206.0 99.5,202.8 97.7,199.5 96.0,196.3 94.2,193.0 92.4,189.8 90.7,186.5 88.9,183.3 87.2,180.0 85.5,176.8 83.8,173.5 82.1,170.3 80.4,167.0 78.8,163.8 77.3,160.5 75.8,157.3 74.4,154.0 73.0,150.8 71.8,147.5 70.6,144.3 69.5,141.0 68.6,137.7 67.8,134.5 67.1,131.2 66.5,128.0 66.1,124.7 65.8,121.5 65.7,118.2 65.7,115.0 65.9,111.7 66.2,108.5 66.6,105.2 67.2,102.0 68.0,98.7 68.8,95.5 69.8,92.2 70.9,89.0 72.1,85.7 73.3,82.5 74.7,79.2 76.1,76.0 77.7,72.7 79.2,69.5 80.8,66.2 82.5,62.9 84.2,59.7 85.9,56.4 87.6,53.2 89.4,49.9 91.1,46.7 92.9,43.4 94.6,40.2 96.4,36.9 98.1,33.7 99.9,30.4 101.6,27.2 103.4,23.9 105.1,20.7"/>
<path stroke-width="1.0" d="M106.8,212.6 108.5,209.3 110.3,206.0 112.0,202.8 113.8,199.5 115.5,196.3 117.3,193.0 119.0,189.8 120.8,186.5 122.5,183.3 124.3,180.0 126.0,176.8 127.7,173.5 129.4,170.3 131.0,167.0 132.6,163.8 134.2,160.5 135.6,157.3 137.1,154.0 138.4,150.8 139.7,147.5 140.8,144.3 141.9,141.0 142.8,137.7 143.6,134.5 144.3,131.2 144.9,128.0 145.3,124.7 145.6,121.5 145.7,118.2 145.7,115.0 145.5,111.7 145.2,108.5 144.8,105.2 144.2,102.0 143.5,98.7 142.6,95.5 141.6,92.2 140.6,89.0 139.4,85.7 138.1,82.5 136.7,79.2 135.3,76.0 133.8,72.7 132.2,69.5 130.6,66.2 129.0,62.9 127.3,59.7 125.6,56.4 123.8,53.2 122.1,49.9 120.4,46.7 118.6,43.4 116.9,40.2 115.1,36.9 113.4,33.7 111.6,30.4 109.9,27.2 108.1,23.9 106.4,20.7"/>
<path stroke-width="1.0" d="M104.6,212.6 102.8,209.3 100.9,206.0 99.1,202.8 97.2,199.5 95.3,196.3 93.4,193.0 91.6,189.8 89.7,186.5 87.8,183.3 86.0,180.0 84.2,176.8 82.3,173.5 80.5,170.3 78.8,167.0 77.1,163.8 75.4,160.5 73.8,157.3 72.3,154.0 70.9,150.8 69.5,147.5 68.3,144.3 67.2,141.0 66.2,137.7 65.3,134.5 64.6,131.2 64.0,128.0 63.5,124.7 63.2,121.5 63.1,118.2 63.1,115.0 63.3,111.7 63.6,108.5 64.1,105.2 64.7,102.0 65.5,98.7 66.4,95.5 67.4,92.2 68.6,89.0 69.9,85.7 71.2,82.5 72.7,79.2 74.2,76.0 75.8,72.7 77.5,69.5 79.2,66.2 81.0,62.9 82.8,59.7 84.6,56.4 86.4,53.2 88.3,49.9 90.2,46.7 92.0,43.4 93.9,40.2 95.8,36.9 97.6,33.7 99.5,30.4 101.4,27.2 103.2,23.9 105.1,20.7"/>
<path stroke-width="1.0" d="M106.8,212.6 108.7,209.3 110.5,206.0 112.3,202.8 114.1,199.5 116.0,196.3 117.8,193.0 119.6,189.8 121.5,186.5 123.3,183.3 125.1,180.0 126.9,176.8 128.7,173.5 130.4,170.3 132.1,167.0 133.8,163.8 135.4,160.5 137.0,157.3 138.5,154.0 139.9,150.8 141.2,147.5 142.4,144.3 143.5,141.0 144.5,137.7 145.3,134.5 146.1,131.2 146.6,128.0 147.1,124.7 147.4,121.5 147.5,118.2 147.5,115.0 147.3,111.7 147.0,108.5 146.5,105.2 145.9,102.0 145.2,98.7 144.3,95.5 143.3,92.2 142.1,89.0 140.9,85.7 139.5,82.5 138.1,79.2 136.6,76.0 135.0,72.7 133.4,69.5 131.7,66.2 130.0,62.9 128.2,59.7 126.5,56.4 124.7,53.2 122.8,49.9 121.0,46.7 119.2,43.4 117.4,40.2 115.5,36.9 113.7,33.7 111.9,30.4 110.0,27.2 108.2,23.9 106.4,20.7"/>
<path stroke-width="1.1" d="M105.7,212.6 105.7,209.3 105.7,206.0 105.6,202.8 105.6,199.5 105.6,196.3 105.5,193.0 105.5,189.8 105.5,186.5 105.4,183.3 105.4,180.0 105.3,176.8 105.3,173.5 105.3,170.3 105.3,167.0 105.2,163.8 105.2,160.5 105.2,157.3 105.1,154.0 105.1,150.8 105.1,147.5 105.1,144.3 105.0,141.0 105.0,137.7 105.0,134.5 105.0,131.2 105.0,128.0 105.0,124.7 105.0,121.5 105.0,118.2 105.0,115.0 105.0,111.7 105.0,108.5 105.0,105.2 105.0,102.0 105.0,98.7 105.0,95.5 105.0,92.2 105.1,89.0 105.1,85.7 105.1,82.5 105.1,79.2 105.2,76.0 105.2,72.7 105.2,69.5 105.3,66.2 105.3,62.9 105.3,59.7 105.4,56.4 105.4,53.2 105.4,49.9 105.5,46.7 105.5,43.4 105.5,40.2 105.6,36.9 105.6,33.7 105.6,30.4 105.7,27.2 105.7,23.9 105.7,20.7"/>
<path stroke-width="1.1" d="M105.8,212.6 105.8,209.3 105.8,206.0 105.8,202.8 105.8,199.5 105.8,196.3 105.8,193.0 105.8,189.8 105.8,186.5 105.8,183.3 105.8,180.0 105.8,176.8 105.8,173.5 105.8,170.3 105.8,167.0 105.8,163.8 105.8,160.5 105.8,157.3 105.8,154.0 105.8,150.8 105.8,147.5 105.8,144.3 105.8,141.0 105.8,137.7 105.8,134.5 105.8,131.2 105.8,128.0 105.8,124.7 105.8,121.5 105.8,118.2 105.8,115.0 105.8,111.7 105.8,108.5 105.8,105.2 105.8,102.0 105.8,98.7 105.8,95.5 105.8,92.2 105.8,89.0 105.8,85.7 105.8,82.5 105.8,79.2 105.8,76.0 105.8,72.7 105.8,69.5 105.8,66.2 105.8,62.9 105.8,59.7 105.8,56.4 105.8,53.2 105.8,49.9 105.8,46.7 105.8,43.4 105.8,40.2 105.8,36.9 105.8,33.7 105.8,30.4 105.8,27.2 105.8,23.9 105.8,20.7"/>
<path stroke-width="1.1" d="M105.8,212.6 105.8,209.3 105.8,206.0 105.9,202.8 105.9,199.5 105.9,196.3 106.0,193.0 106.0,189.8 106.0,186.5 106.1,183.3 106.1,180.0 106.2,176.8 106.2,173.5 106.2,170.3 106.2,167.0 106.3,163.8 106.3,160.5 106.3,157.3 106.4,154.0 106.4,150.8 106.4,147.5 106.4,144.3 106.5,141.0 106.5,137.7 106.5,134.5 106.5,131.2 106.5,128.0 106.5,124.7 106.5,121.5 106.5,118.2 106.5,115.0 106.5,111.7 106.5,108.5 106.5,105.2 106.5,102.0 106.5,98.7 106.5,95.5 106.5,92.2 106.4,89.0 106.4,85.7 106.4,82.5 106.4,79.2 106.3,76.0 106.3,72.7 106.3,69.5 106.2,66.2 106.2,62.9 106.2,59.7 106.1,56.4 106.1,53.2 106.1,49.9 106.0,46.7 106.0,43.4 106.0,40.2 105.9,36.9 105.9,33.7 105.9,30.4 105.8,27.2 105.8,23.9 105.8,20.7"/>
</g>
<rect x="39.5" y="19.5" width="132.5" height="195.0" fill="none" stroke="#454545" stroke-width="1.25"/>
<path d="M48.96,214.5v-2.5M48.96,19.5v2.5M67.89,214.5v-2.5M67.89,19.5v2.5M86.82,214.5v-2.5M86.82,19.5v2.5M105.75,214.5v-2.5M105.75,19.5v2.5M124.68,214.5v-2.5M124.68,19.5v2.5M143.61,214.5v-2.5M143.61,19.5v2.5M162.54,214.5v-2.5M162.54,19.5v2.5M39.5,195.00h2.5M172.0,195.00h-2.5M39.5,175.50h2.5M172.0,175.50h-2.5M39.5,156.00h2.5M172.0,156.00h-2.5M39.5,136.50h2.5M172.0,136.50h-2.5M39.5,117.00h2.5M172.0,117.00h-2.5M39.5,97.50h2.5M172.0,97.50h-2.5M39.5,78.00h2.5M172.0,78.00h-2.5M39.5,58.50h2.5M172.0,58.50h-2.5M39.5,39.00h2.5M172.0,39.00h-2.5" stroke="#454545" stroke-width="1.1" fill="none"/>
<text x="36.5" y="216.7" text-anchor="end" class="tk">0.0</text>
<text x="36.5" y="197.2" text-anchor="end" class="tk">0.1</text>
<text x="36.5" y="177.7" text-anchor="end" class="tk">0.2</text>
<text x="36.5" y="158.2" text-anchor="end" class="tk">0.3</text>
<text x="36.5" y="138.7" text-anchor="end" class="tk">0.4</text>
<text x="36.5" y="119.2" text-anchor="end" class="tk">0.5</text>
<text x="36.5" y="99.7" text-anchor="end" class="tk">0.6</text>
<text x="36.5" y="80.2" text-anchor="end" class="tk">0.7</text>
<text x="36.5" y="60.7" text-anchor="end" class="tk">0.8</text>
<text x="36.5" y="41.2" text-anchor="end" class="tk">0.9</text>
<text x="36.5" y="21.7" text-anchor="end" class="tk">1.0</text>
<text x="49.0" y="223.3" text-anchor="middle" class="tk"><tspan>0.6</tspan></text>
<text x="43.5" y="223.3" text-anchor="end" class="tk">−</text>
<text x="67.9" y="223.3" text-anchor="middle" class="tk"><tspan>0.4</tspan></text>
<text x="62.4" y="223.3" text-anchor="end" class="tk">−</text>
<text x="86.8" y="223.3" text-anchor="middle" class="tk"><tspan>0.2</tspan></text>
<text x="81.3" y="223.3" text-anchor="end" class="tk">−</text>
<text x="105.8" y="223.3" text-anchor="middle" class="tk">0.0</text>
<text x="124.7" y="223.3" text-anchor="middle" class="tk">0.2</text>
<text x="143.6" y="223.3" text-anchor="middle" class="tk">0.4</text>
<text x="162.5" y="223.3" text-anchor="middle" class="tk">0.6</text>
<g fill="none" stroke="#0000ff">
<path stroke-width="1.1" d="M289.1,212.6 287.5,209.3 285.9,206.0 284.2,202.8 282.5,199.5 280.7,196.3 279.0,193.0 277.2,189.8 275.5,186.5 273.9,183.3 272.4,180.0 270.9,176.8 269.5,173.5 268.1,170.3 266.9,167.0 265.7,163.8 264.7,160.5 263.7,157.3 262.8,154.0 262.0,150.8 261.3,147.5 260.7,144.3 260.2,141.0 259.9,137.7 259.6,134.5 259.4,131.2 259.3,128.0 259.3,124.7 259.4,121.5 259.5,118.2 259.8,115.0 260.2,111.7 260.6,108.5 261.1,105.2 261.7,102.0 262.4,98.7 263.1,95.5 263.9,92.2 264.7,89.0 265.7,85.7 266.6,82.5 267.6,79.2 268.7,76.0 269.8,72.7 270.9,69.5 272.1,66.2 273.3,62.9 274.5,59.7 275.8,56.4 277.1,53.2 278.4,49.9 279.7,46.7 281.1,43.4 282.4,40.2 283.8,36.9 285.4,33.7 287.2,30.4 289.1,27.2 291.3,23.9 293.6,20.7"/>
<path stroke-width="1.1" d="M289.7,212.6 288.4,209.3 287.0,206.0 285.6,202.8 284.2,199.5 282.7,196.3 281.2,193.0 279.8,189.8 278.4,186.5 277.0,183.3 275.7,180.0 274.4,176.8 273.2,173.5 272.1,170.3 270.9,167.0 269.9,163.8 268.9,160.5 268.0,157.3 267.1,154.0 266.3,150.8 265.6,147.5 265.0,144.3 264.4,141.0 263.9,137.7 263.5,134.5 263.2,131.2 262.9,128.0 262.7,124.7 262.6,121.5 262.6,118.2 262.7,115.0 262.8,111.7 263.0,108.5 263.3,105.2 263.7,102.0 264.2,98.7 264.7,95.5 265.2,92.2 265.9,89.0 266.6,85.7 267.4,82.5 268.3,79.2 269.2,76.0 270.1,72.7 271.1,69.5 272.2,66.2 273.3,62.9 274.5,59.7 275.7,56.4 276.9,53.2 278.2,49.9 279.5,46.7 280.8,43.4 282.2,40.2 283.6,36.9 285.2,33.7 286.9,30.4 288.7,27.2 290.7,23.9 292.9,20.7"/>
<path stroke-width="1.1" d="M288.3,212.6 287.5,209.3 286.6,206.0 285.5,202.8 284.4,199.5 283.1,196.3 281.7,193.0 280.4,189.8 279.0,186.5 277.8,183.3 276.5,180.0 275.4,176.8 274.2,173.5 273.2,170.3 272.2,167.0 271.2,163.8 270.4,160.5 269.5,157.3 268.8,154.0 268.1,150.8 267.6,147.5 267.0,144.3 266.6,141.0 266.2,137.7 265.9,134.5 265.7,131.2 265.6,128.0 265.5,124.7 265.5,121.5 265.6,118.2 265.8,115.0 266.0,111.7 266.3,108.5 266.6,105.2 267.0,102.0 267.5,98.7 268.0,95.5 268.6,92.2 269.3,89.0 270.0,85.7 270.7,82.5 271.5,79.2 272.4,76.0 273.2,72.7 274.2,69.5 275.1,66.2 276.1,62.9 277.1,59.7 278.2,56.4 279.2,53.2 280.3,49.9 281.4,46.7 282.6,43.4 283.7,40.2 284.9,36.9 286.0,33.7 287.1,30.4 288.1,27.2 289.1,23.9 290.1,20.7"/>
<path stroke-width="1.1" d="M289.4,212.6 288.8,209.3 288.2,206.0 287.5,202.8 286.7,199.5 285.8,196.3 284.9,193.0 283.9,189.8 283.0,186.5 282.0,183.3 281.1,180.0 280.2,176.8 279.3,173.5 278.4,170.3 277.6,167.0 276.8,163.8 275.9,160.5 275.2,157.3 274.4,154.0 273.7,150.8 273.0,147.5 272.3,144.3 271.7,141.0 271.1,137.7 270.6,134.5 270.1,131.2 269.7,128.0 269.3,124.7 269.0,121.5 268.7,118.2 268.5,115.0 268.4,111.7 268.3,108.5 268.3,105.2 268.4,102.0 268.5,98.7 268.7,95.5 269.0,92.2 269.4,89.0 269.8,85.7 270.3,82.5 270.9,79.2 271.5,76.0 272.2,72.7 273.0,69.5 273.8,66.2 274.8,62.9 275.7,59.7 276.8,56.4 277.8,53.2 279.0,49.9 280.2,46.7 281.4,43.4 282.6,40.2 283.9,36.9 285.1,33.7 286.3,30.4 287.4,27.2 288.3,23.9 289.2,20.7"/>
<path stroke-width="1.1" d="M292.4,212.6 290.9,209.3 289.6,206.0 288.4,202.8 287.3,199.5 286.3,196.3 285.4,193.0 284.5,189.8 283.7,186.5 282.8,183.3 282.0,180.0 281.2,176.8 280.4,173.5 279.7,170.3 278.9,167.0 278.2,163.8 277.5,160.5 276.8,157.3 276.2,154.0 275.6,150.8 275.0,147.5 274.5,144.3 274.0,141.0 273.5,137.7 273.1,134.5 272.7,131.2 272.4,128.0 272.1,124.7 271.9,121.5 271.7,118.2 271.6,115.0 271.5,111.7 271.5,108.5 271.6,105.2 271.7,102.0 271.8,98.7 272.1,95.5 272.3,92.2 272.7,89.0 273.1,85.7 273.5,82.5 274.0,79.2 274.6,76.0 275.2,72.7 275.9,69.5 276.7,66.2 277.4,62.9 278.3,59.7 279.1,56.4 280.1,53.2 281.0,49.9 282.0,46.7 283.0,43.4 284.1,40.2 285.2,36.9 286.1,33.7 287.0,30.4 287.8,27.2 288.5,23.9 289.0,20.7"/>
<path stroke-width="1.1" d="M291.3,212.6 290.3,209.3 289.4,206.0 288.6,202.8 287.7,199.5 286.9,196.3 286.2,193.0 285.4,189.8 284.7,186.5 284.0,183.3 283.3,180.0 282.6,176.8 281.9,173.5 281.3,170.3 280.6,167.0 280.0,163.8 279.4,160.5 278.9,157.3 278.4,154.0 277.8,150.8 277.4,147.5 276.9,144.3 276.5,141.0 276.1,137.7 275.8,134.5 275.5,131.2 275.2,128.0 275.0,124.7 274.9,121.5 274.7,118.2 274.6,115.0 274.6,111.7 274.6,108.5 274.7,105.2 274.8,102.0 274.9,98.7 275.1,95.5 275.4,92.2 275.7,89.0 276.0,85.7 276.4,82.5 276.9,79.2 277.3,76.0 277.9,72.7 278.4,69.5 279.1,66.2 279.7,62.9 280.4,59.7 281.2,56.4 281.9,53.2 282.7,49.9 283.6,46.7 284.4,43.4 285.3,40.2 286.2,36.9 287.0,33.7 287.7,30.4 288.4,27.2 289.0,23.9 289.5,20.7"/>
<path stroke-width="1.1" d="M293.0,212.6 291.4,209.3 290.0,206.0 288.7,202.8 287.6,199.5 286.7,196.3 285.9,193.0 285.1,189.8 284.4,186.5 283.7,183.3 283.0,180.0 282.4,176.8 281.8,173.5 281.2,170.3 280.7,167.0 280.2,163.8 279.7,160.5 279.3,157.3 278.9,154.0 278.6,150.8 278.3,147.5 278.1,144.3 277.9,141.0 277.7,137.7 277.6,134.5 277.5,131.2 277.5,128.0 277.5,124.7 277.6,121.5 277.7,118.2 277.8,115.0 277.9,111.7 278.1,108.5 278.4,105.2 278.6,102.0 278.9,98.7 279.3,95.5 279.6,92.2 280.0,89.0 280.4,85.7 280.8,82.5 281.2,79.2 281.7,76.0 282.2,72.7 282.7,69.5 283.2,66.2 283.7,62.9 284.2,59.7 284.8,56.4 285.3,53.2 285.9,49.9 286.4,46.7 287.0,43.4 287.6,40.2 288.1,36.9 288.8,33.7 289.5,30.4 290.2,27.2 291.0,23.9 291.9,20.7"/>
<path stroke-width="1.1" d="M289.8,212.6 289.7,209.3 289.5,206.0 289.2,202.8 288.8,199.5 288.4,196.3 287.9,193.0 287.4,189.8 286.9,186.5 286.5,183.3 286.0,180.0 285.6,176.8 285.1,173.5 284.7,170.3 284.3,167.0 283.9,163.8 283.6,160.5 283.2,157.3 282.9,154.0 282.6,150.8 282.3,147.5 282.0,144.3 281.7,141.0 281.5,137.7 281.3,134.5 281.1,131.2 281.0,128.0 280.9,124.7 280.8,121.5 280.7,118.2 280.7,115.0 280.7,111.7 280.7,108.5 280.8,105.2 280.8,102.0 281.0,98.7 281.1,95.5 281.3,92.2 281.5,89.0 281.7,85.7 282.0,82.5 282.3,79.2 282.6,76.0 282.9,72.7 283.3,69.5 283.7,66.2 284.1,62.9 284.5,59.7 285.0,56.4 285.5,53.2 286.0,49.9 286.5,46.7 287.0,43.4 287.6,40.2 288.1,36.9 288.6,33.7 289.1,30.4 289.5,27.2 289.9,23.9 290.3,20.7"/>
<path stroke-width="1.1" d="M290.4,212.6 290.2,209.3 290.0,206.0 289.7,202.8 289.3,199.5 289.0,196.3 288.6,193.0 288.2,189.8 287.8,186.5 287.5,183.3 287.1,180.0 286.8,176.8 286.5,173.5 286.2,170.3 285.9,167.0 285.6,163.8 285.3,160.5 285.1,157.3 284.9,154.0 284.7,150.8 284.5,147.5 284.3,144.3 284.2,141.0 284.0,137.7 283.9,134.5 283.8,131.2 283.8,128.0 283.7,124.7 283.7,121.5 283.7,118.2 283.7,115.0 283.8,111.7 283.8,108.5 283.9,105.2 284.0,102.0 284.1,98.7 284.3,95.5 284.4,92.2 284.6,89.0 284.8,85.7 285.0,82.5 285.2,79.2 285.5,76.0 285.7,72.7 286.0,69.5 286.3,66.2 286.6,62.9 286.9,59.7 287.2,56.4 287.5,53.2 287.8,49.9 288.2,46.7 288.5,43.4 288.9,40.2 289.2,36.9 289.5,33.7 289.6,30.4 289.6,27.2 289.5,23.9 289.3,20.7"/>
<path stroke-width="1.1" d="M290.9,212.6 290.8,209.3 290.6,206.0 290.5,202.8 290.3,199.5 290.1,196.3 289.9,193.0 289.7,189.8 289.5,186.5 289.3,183.3 289.1,180.0 289.0,176.8 288.8,173.5 288.6,170.3 288.4,167.0 288.3,163.8 288.1,160.5 287.9,157.3 287.8,154.0 287.7,150.8 287.5,147.5 287.4,144.3 287.3,141.0 287.2,137.7 287.1,134.5 287.0,131.2 286.9,128.0 286.8,124.7 286.8,121.5 286.7,118.2 286.7,115.0 286.7,111.7 286.7,108.5 286.7,105.2 286.7,102.0 286.8,98.7 286.8,95.5 286.9,92.2 286.9,89.0 287.0,85.7 287.1,82.5 287.3,79.2 287.4,76.0 287.5,72.7 287.7,69.5 287.9,66.2 288.0,62.9 288.2,59.7 288.4,56.4 288.6,53.2 288.9,49.9 289.1,46.7 289.3,43.4 289.6,40.2 289.8,36.9 290.1,33.7 290.5,30.4 290.9,27.2 291.3,23.9 291.8,20.7"/>
<path stroke-width="1.1" d="M289.2,212.6 289.6,209.3 289.9,206.0 290.1,202.8 290.2,199.5 290.1,196.3 290.0,193.0 289.8,189.8 289.6,186.5 289.5,183.3 289.4,180.0 289.2,176.8 289.1,173.5 289.1,170.3 289.0,167.0 288.9,163.8 288.9,160.5 288.9,157.3 288.9,154.0 288.9,150.8 288.9,147.5 288.9,144.3 289.0,141.0 289.1,137.7 289.2,134.5 289.2,131.2 289.3,128.0 289.5,124.7 289.6,121.5 289.7,118.2 289.8,115.0 290.0,111.7 290.1,108.5 290.2,105.2 290.4,102.0 290.5,98.7 290.6,95.5 290.7,92.2 290.9,89.0 291.0,85.7 291.1,82.5 291.2,79.2 291.2,76.0 291.3,72.7 291.4,69.5 291.4,66.2 291.5,62.9 291.5,59.7 291.5,56.4 291.6,53.2 291.6,49.9 291.6,46.7 291.5,43.4 291.5,40.2 291.5,36.9 291.3,33.7 291.1,30.4 290.7,27.2 290.2,23.9 289.6,20.7"/>
<path stroke-width="1.1" d="M290.7,212.6 291.2,209.3 291.7,206.0 292.2,202.8 292.5,199.5 292.8,196.3 293.1,193.0 293.3,189.8 293.5,186.5 293.7,183.3 293.9,180.0 294.0,176.8 294.2,173.5 294.3,170.3 294.4,167.0 294.4,163.8 294.4,160.5 294.4,157.3 294.4,154.0 294.4,150.8 294.3,147.5 294.2,144.3 294.1,141.0 294.0,137.7 293.8,134.5 293.6,131.2 293.4,128.0 293.3,124.7 293.0,121.5 292.8,118.2 292.6,115.0 292.4,111.7 292.2,108.5 292.0,105.2 291.7,102.0 291.5,98.7 291.3,95.5 291.2,92.2 291.0,89.0 290.8,85.7 290.7,82.5 290.5,79.2 290.4,76.0 290.3,72.7 290.3,69.5 290.2,66.2 290.2,62.9 290.2,59.7 290.2,56.4 290.2,53.2 290.2,49.9 290.3,46.7 290.4,43.4 290.5,40.2 290.5,36.9 290.5,33.7 290.3,30.4 289.9,27.2 289.5,23.9 288.8,20.7"/>
<path stroke-width="1.1" d="M293.5,212.6 293.3,209.3 293.2,206.0 293.3,202.8 293.5,199.5 293.8,196.3 294.2,193.0 294.6,189.8 295.0,186.5 295.3,183.3 295.6,180.0 295.9,176.8 296.2,173.5 296.4,170.3 296.6,167.0 296.8,163.8 296.9,160.5 297.0,157.3 297.0,154.0 297.1,150.8 297.1,147.5 297.0,144.3 297.0,141.0 296.9,137.7 296.8,134.5 296.6,131.2 296.5,128.0 296.3,124.7 296.1,121.5 295.9,118.2 295.6,115.0 295.4,111.7 295.1,108.5 294.9,105.2 294.6,102.0 294.3,98.7 294.1,95.5 293.8,92.2 293.6,89.0 293.3,85.7 293.1,82.5 292.9,79.2 292.7,76.0 292.5,72.7 292.3,69.5 292.1,66.2 292.0,62.9 291.8,59.7 291.7,56.4 291.6,53.2 291.5,49.9 291.5,46.7 291.4,43.4 291.4,40.2 291.3,36.9 291.4,33.7 291.6,30.4 291.8,27.2 292.1,23.9 292.5,20.7"/>
<path stroke-width="1.1" d="M292.6,212.6 292.4,209.3 292.3,206.0 292.2,202.8 292.3,199.5 292.5,196.3 292.7,193.0 292.9,189.8 293.2,186.5 293.4,183.3 293.6,180.0 293.9,176.8 294.2,173.5 294.4,170.3 294.7,167.0 295.0,163.8 295.3,160.5 295.6,157.3 295.8,154.0 296.1,150.8 296.4,147.5 296.7,144.3 297.0,141.0 297.3,137.7 297.5,134.5 297.8,131.2 298.1,128.0 298.3,124.7 298.5,121.5 298.7,118.2 298.9,115.0 299.0,111.7 299.2,108.5 299.3,105.2 299.4,102.0 299.4,98.7 299.5,95.5 299.4,92.2 299.4,89.0 299.3,85.7 299.2,82.5 299.1,79.2 298.9,76.0 298.7,72.7 298.4,69.5 298.1,66.2 297.8,62.9 297.5,59.7 297.1,56.4 296.7,53.2 296.3,49.9 295.8,46.7 295.3,43.4 294.8,40.2 294.3,36.9 294.0,33.7 293.8,30.4 293.7,27.2 293.8,23.9 294.1,20.7"/>
<path stroke-width="1.1" d="M290.8,212.6 291.3,209.3 291.8,206.0 292.3,202.8 292.7,199.5 293.1,196.3 293.5,193.0 293.8,189.8 294.2,186.5 294.5,183.3 294.9,180.0 295.3,176.8 295.6,173.5 296.0,170.3 296.4,167.0 296.8,163.8 297.2,160.5 297.6,157.3 298.0,154.0 298.4,150.8 298.8,147.5 299.1,144.3 299.5,141.0 299.9,137.7 300.2,134.5 300.6,131.2 300.9,128.0 301.2,124.7 301.5,121.5 301.7,118.2 301.9,115.0 302.1,111.7 302.3,108.5 302.4,105.2 302.5,102.0 302.5,98.7 302.5,95.5 302.5,92.2 302.4,89.0 302.3,85.7 302.1,82.5 301.9,79.2 301.6,76.0 301.3,72.7 301.0,69.5 300.6,66.2 300.2,62.9 299.7,59.7 299.2,56.4 298.6,53.2 298.0,49.9 297.4,46.7 296.7,43.4 296.0,40.2 295.3,36.9 294.4,33.7 293.3,30.4 292.1,27.2 290.8,23.9 289.3,20.7"/>
<path stroke-width="1.1" d="M290.7,212.6 291.7,209.3 292.7,206.0 293.6,202.8 294.4,199.5 295.1,196.3 295.8,193.0 296.5,189.8 297.1,186.5 297.8,183.3 298.4,180.0 299.0,176.8 299.5,173.5 300.1,170.3 300.6,167.0 301.1,163.8 301.6,160.5 302.0,157.3 302.4,154.0 302.8,150.8 303.2,147.5 303.5,144.3 303.8,141.0 304.0,137.7 304.2,134.5 304.4,131.2 304.6,128.0 304.7,124.7 304.8,121.5 304.8,118.2 304.8,115.0 304.8,111.7 304.7,108.5 304.6,105.2 304.4,102.0 304.2,98.7 304.0,95.5 303.8,92.2 303.5,89.0 303.1,85.7 302.8,82.5 302.4,79.2 302.0,76.0 301.5,72.7 301.1,69.5 300.5,66.2 300.0,62.9 299.5,59.7 298.9,56.4 298.3,53.2 297.7,49.9 297.0,46.7 296.4,43.4 295.7,40.2 295.0,36.9 294.5,33.7 294.0,30.4 293.5,27.2 293.2,23.9 293.0,20.7"/>
<path stroke-width="1.1" d="M291.4,212.6 292.2,209.3 293.0,206.0 293.8,202.8 294.6,199.5 295.3,196.3 296.0,193.0 296.7,189.8 297.4,186.5 298.1,183.3 298.8,180.0 299.5,176.8 300.1,173.5 300.8,170.3 301.4,167.0 302.0,163.8 302.6,160.5 303.2,157.3 303.7,154.0 304.3,150.8 304.8,147.5 305.2,144.3 305.7,141.0 306.1,137.7 306.5,134.5 306.8,131.2 307.1,128.0 307.4,124.7 307.6,121.5 307.8,118.2 307.9,115.0 308.0,111.7 308.0,108.5 308.0,105.2 307.9,102.0 307.8,98.7 307.7,95.5 307.5,92.2 307.2,89.0 306.9,85.7 306.5,82.5 306.1,79.2 305.6,76.0 305.1,72.7 304.5,69.5 303.9,66.2 303.2,62.9 302.5,59.7 301.8,56.4 301.0,53.2 300.2,49.9 299.3,46.7 298.4,43.4 297.5,40.2 296.5,36.9 295.5,33.7 294.3,30.4 293.1,27.2 291.7,23.9 290.3,20.7"/>
<path stroke-width="1.1" d="M293.0,212.6 293.6,209.3 294.4,206.0 295.2,202.8 296.0,199.5 297.0,196.3 297.9,193.0 298.9,189.8 299.9,186.5 300.8,183.3 301.7,180.0 302.5,176.8 303.4,173.5 304.1,170.3 304.9,167.0 305.6,163.8 306.3,160.5 306.9,157.3 307.5,154.0 308.1,150.8 308.6,147.5 309.0,144.3 309.4,141.0 309.8,137.7 310.1,134.5 310.4,131.2 310.6,128.0 310.7,124.7 310.8,121.5 310.8,118.2 310.8,115.0 310.7,111.7 310.6,108.5 310.4,105.2 310.2,102.0 309.9,98.7 309.6,95.5 309.2,92.2 308.8,89.0 308.3,85.7 307.8,82.5 307.2,79.2 306.6,76.0 305.9,72.7 305.3,69.5 304.5,66.2 303.8,62.9 303.0,59.7 302.1,56.4 301.3,53.2 300.4,49.9 299.5,46.7 298.5,43.4 297.6,40.2 296.6,36.9 295.7,33.7 294.7,30.4 293.8,27.2 292.9,23.9 292.0,20.7"/>
<path stroke-width="1.1" d="M289.9,212.6 292.2,209.3 294.3,206.0 296.2,202.8 297.9,199.5 299.4,196.3 300.8,193.0 302.2,189.8 303.4,186.5 304.7,183.3 305.9,180.0 307.0,176.8 308.0,173.5 309.0,170.3 309.9,167.0 310.7,163.8 311.5,160.5 312.2,157.3 312.7,154.0 313.2,150.8 313.7,147.5 314.0,144.3 314.3,141.0 314.5,137.7 314.6,134.5 314.6,131.2 314.5,128.0 314.4,124.7 314.2,121.5 314.0,118.2 313.6,115.0 313.2,111.7 312.8,108.5 312.3,105.2 311.8,102.0 311.2,98.7 310.6,95.5 309.9,92.2 309.2,89.0 308.5,85.7 307.7,82.5 306.9,79.2 306.2,76.0 305.3,72.7 304.5,69.5 303.7,66.2 302.8,62.9 302.0,59.7 301.1,56.4 300.2,53.2 299.4,49.9 298.5,46.7 297.6,43.4 296.8,40.2 295.9,36.9 295.1,33.7 294.3,30.4 293.6,27.2 292.9,23.9 292.3,20.7"/>
<path stroke-width="1.1" d="M290.3,212.6 292.7,209.3 294.9,206.0 297.0,202.8 298.9,199.5 300.6,196.3 302.2,193.0 303.8,189.8 305.2,186.5 306.6,183.3 308.0,180.0 309.2,176.8 310.4,173.5 311.5,170.3 312.6,167.0 313.5,163.8 314.4,160.5 315.1,157.3 315.8,154.0 316.3,150.8 316.8,147.5 317.2,144.3 317.5,141.0 317.7,137.7 317.8,134.5 317.8,131.2 317.7,128.0 317.5,124.7 317.3,121.5 317.0,118.2 316.6,115.0 316.1,111.7 315.6,108.5 315.1,105.2 314.4,102.0 313.7,98.7 313.0,95.5 312.3,92.2 311.5,89.0 310.6,85.7 309.8,82.5 308.9,79.2 308.0,76.0 307.0,72.7 306.1,69.5 305.1,66.2 304.2,62.9 303.2,59.7 302.3,56.4 301.3,53.2 300.3,49.9 299.3,46.7 298.4,43.4 297.4,40.2 296.4,36.9 295.4,33.7 294.4,30.4 293.4,27.2 292.4,23.9 291.4,20.7"/>
<path stroke-width="1.1" d="M291.5,212.6 293.2,209.3 294.9,206.0 296.5,202.8 298.1,199.5 299.6,196.3 301.0,193.0 302.4,189.8 303.8,186.5 305.1,183.3 306.4,180.0 307.7,176.8 308.9,173.5 310.0,170.3 311.1,167.0 312.2,163.8 313.2,160.5 314.1,157.3 315.0,154.0 315.8,150.8 316.5,147.5 317.2,144.3 317.8,141.0 318.3,137.7 318.8,134.5 319.1,131.2 319.4,128.0 319.7,124.7 319.8,121.5 319.9,118.2 319.8,115.0 319.7,111.7 319.6,108.5 319.3,105.2 319.0,102.0 318.6,98.7 318.1,95.5 317.6,92.2 316.9,89.0 316.2,85.7 315.5,82.5 314.6,79.2 313.8,76.0 312.8,72.7 311.8,69.5 310.7,66.2 309.6,62.9 308.4,59.7 307.2,56.4 306.0,53.2 304.7,49.9 303.3,46.7 302.0,43.4 300.6,40.2 299.1,36.9 297.5,33.7 295.7,30.4 293.7,27.2 291.6,23.9 289.2,20.7"/>
<path stroke-width="1.1" d="M289.9,212.6 292.3,209.3 294.5,206.0 296.6,202.8 298.4,199.5 300.1,196.3 301.7,193.0 303.2,189.8 304.7,186.5 306.1,183.3 307.5,180.0 308.9,176.8 310.2,173.5 311.5,170.3 312.7,167.0 313.8,163.8 315.0,160.5 316.0,157.3 317.0,154.0 317.9,150.8 318.7,147.5 319.5,144.3 320.2,141.0 320.8,137.7 321.4,134.5 321.8,131.2 322.2,128.0 322.5,124.7 322.7,121.5 322.8,118.2 322.9,115.0 322.8,111.7 322.7,108.5 322.5,105.2 322.2,102.0 321.8,98.7 321.3,95.5 320.7,92.2 320.1,89.0 319.3,85.7 318.5,82.5 317.6,79.2 316.7,76.0 315.6,72.7 314.5,69.5 313.3,66.2 312.1,62.9 310.8,59.7 309.4,56.4 308.0,53.2 306.5,49.9 305.0,46.7 303.5,43.4 301.9,40.2 300.3,36.9 298.6,33.7 296.9,30.4 295.2,27.2 293.5,23.9 291.8,20.7"/>
<path stroke-width="1.2" d="M292.2,212.6 289.6,209.3 287.2,206.0 284.9,202.8 282.8,199.5 280.9,196.3 279.1,193.0 277.3,189.8 275.6,186.5 274.0,183.3 272.4,180.0 270.8,176.8 269.3,173.5 267.9,170.3 266.5,167.0 265.3,163.8 264.1,160.5 262.9,157.3 261.9,154.0 260.9,150.8 260.1,147.5 259.3,144.3 258.6,141.0 258.0,137.7 257.5,134.5 257.1,131.2 256.8,128.0 256.6,124.7 256.4,121.5 256.4,118.2 256.5,115.0 256.7,111.7 256.9,108.5 257.3,105.2 257.7,102.0 258.3,98.7 258.9,95.5 259.6,92.2 260.4,89.0 261.3,85.7 262.2,82.5 263.2,79.2 264.3,76.0 265.5,72.7 266.7,69.5 268.0,66.2 269.4,62.9 270.8,59.7 272.3,56.4 273.8,53.2 275.3,49.9 276.9,46.7 278.6,43.4 280.2,40.2 281.9,36.9 283.5,33.7 285.1,30.4 286.6,27.2 288.0,23.9 289.3,20.7"/>
<path stroke-width="1.2" d="M290.8,212.6 293.0,209.3 295.1,206.0 297.1,202.8 298.9,199.5 300.7,196.3 302.3,193.0 303.9,189.8 305.5,186.5 307.1,183.3 308.6,180.0 310.0,176.8 311.4,173.5 312.8,170.3 314.1,167.0 315.4,163.8 316.6,160.5 317.7,157.3 318.8,154.0 319.8,150.8 320.7,147.5 321.6,144.3 322.4,141.0 323.0,137.7 323.7,134.5 324.2,131.2 324.6,128.0 325.0,124.7 325.2,121.5 325.4,118.2 325.5,115.0 325.4,111.7 325.3,108.5 325.1,105.2 324.8,102.0 324.4,98.7 323.9,95.5 323.3,92.2 322.6,89.0 321.8,85.7 321.0,82.5 320.0,79.2 319.0,76.0 317.9,72.7 316.7,69.5 315.4,66.2 314.0,62.9 312.6,59.7 311.1,56.4 309.6,53.2 308.0,49.9 306.3,46.7 304.7,43.4 302.9,40.2 301.1,36.9 299.4,33.7 297.5,30.4 295.7,27.2 293.9,23.9 292.1,20.7"/>
<path stroke-width="1.2" d="M288.5,212.6 287.6,209.3 286.5,206.0 285.3,202.8 283.9,199.5 282.5,196.3 281.0,193.0 279.5,189.8 278.1,186.5 276.6,183.3 275.3,180.0 273.9,176.8 272.6,173.5 271.3,170.3 270.1,167.0 268.9,163.8 267.8,160.5 266.8,157.3 265.8,154.0 264.9,150.8 264.0,147.5 263.2,144.3 262.5,141.0 261.9,137.7 261.3,134.5 260.8,131.2 260.4,128.0 260.1,124.7 259.8,121.5 259.7,118.2 259.6,115.0 259.6,111.7 259.7,108.5 259.9,105.2 260.2,102.0 260.6,98.7 261.0,95.5 261.6,92.2 262.2,89.0 262.9,85.7 263.7,82.5 264.6,79.2 265.6,76.0 266.6,72.7 267.7,69.5 268.9,66.2 270.1,62.9 271.4,59.7 272.8,56.4 274.3,53.2 275.7,49.9 277.3,46.7 278.8,43.4 280.4,40.2 282.1,36.9 283.7,33.7 285.2,30.4 286.8,27.2 288.3,23.9 289.7,20.7"/>
<path stroke-width="1.2" d="M291.1,212.6 292.9,209.3 294.6,206.0 296.2,202.8 297.8,199.5 299.3,196.3 300.7,193.0 302.1,189.8 303.5,186.5 304.9,183.3 306.3,180.0 307.6,176.8 308.9,173.5 310.2,170.3 311.5,167.0 312.7,163.8 313.9,160.5 315.1,157.3 316.2,154.0 317.3,150.8 318.3,147.5 319.3,144.3 320.2,141.0 321.1,137.7 321.8,134.5 322.5,131.2 323.2,128.0 323.7,124.7 324.2,121.5 324.6,118.2 324.9,115.0 325.1,111.7 325.2,108.5 325.2,105.2 325.1,102.0 324.9,98.7 324.6,95.5 324.2,92.2 323.7,89.0 323.0,85.7 322.3,82.5 321.5,79.2 320.5,76.0 319.5,72.7 318.3,69.5 317.0,66.2 315.7,62.9 314.3,59.7 312.7,56.4 311.1,53.2 309.4,49.9 307.7,46.7 305.9,43.4 304.0,40.2 302.1,36.9 300.2,33.7 298.4,30.4 296.7,27.2 295.0,23.9 293.4,20.7"/>
<path stroke-width="1.2" d="M290.8,212.6 288.8,209.3 286.9,206.0 285.0,202.8 283.2,199.5 281.5,196.3 279.8,193.0 278.2,189.8 276.6,186.5 275.0,183.3 273.5,180.0 272.1,176.8 270.7,173.5 269.3,170.3 268.1,167.0 266.9,163.8 265.7,160.5 264.7,157.3 263.7,154.0 262.8,150.8 262.0,147.5 261.3,144.3 260.7,141.0 260.1,137.7 259.7,134.5 259.3,131.2 259.0,128.0 258.8,124.7 258.7,121.5 258.7,118.2 258.8,115.0 259.0,111.7 259.2,108.5 259.6,105.2 260.0,102.0 260.5,98.7 261.1,95.5 261.8,92.2 262.5,89.0 263.4,85.7 264.3,82.5 265.2,79.2 266.3,76.0 267.3,72.7 268.5,69.5 269.7,66.2 271.0,62.9 272.3,59.7 273.7,56.4 275.1,53.2 276.5,49.9 278.0,46.7 279.5,43.4 281.0,40.2 282.6,36.9 284.4,33.7 286.4,30.4 288.6,27.2 290.9,23.9 293.4,20.7"/>
<path stroke-width="1.2" d="M291.8,212.6 293.5,209.3 295.1,206.0 296.7,202.8 298.3,199.5 299.9,196.3 301.4,193.0 302.8,189.8 304.3,186.5 305.7,183.3 307.1,180.0 308.4,176.8 309.8,173.5 311.0,170.3 312.3,167.0 313.5,163.8 314.6,160.5 315.7,157.3 316.7,154.0 317.7,150.8 318.6,147.5 319.4,144.3 320.2,141.0 320.9,137.7 321.5,134.5 322.1,131.2 322.5,128.0 322.9,124.7 323.2,121.5 323.4,118.2 323.5,115.0 323.6,111.7 323.5,108.5 323.4,105.2 323.1,102.0 322.8,98.7 322.4,95.5 321.8,92.2 321.2,89.0 320.5,85.7 319.8,82.5 318.9,79.2 317.9,76.0 316.9,72.7 315.7,69.5 314.5,66.2 313.3,62.9 311.9,59.7 310.5,56.4 309.0,53.2 307.5,49.9 305.9,46.7 304.3,43.4 302.6,40.2 300.8,36.9 298.9,33.7 296.9,30.4 294.7,27.2 292.4,23.9 289.9,20.7"/>
<path stroke-width="1.2" d="M290.7,212.6 288.3,209.3 286.0,206.0 283.8,202.8 281.7,199.5 279.6,196.3 277.6,193.0 275.7,189.8 273.8,186.5 272.0,183.3 270.3,180.0 268.6,176.8 267.1,173.5 265.6,170.3 264.1,167.0 262.8,163.8 261.6,160.5 260.5,157.3 259.5,154.0 258.6,150.8 257.8,147.5 257.1,144.3 256.5,141.0 256.0,137.7 255.6,134.5 255.4,131.2 255.2,128.0 255.1,124.7 255.2,121.5 255.4,118.2 255.6,115.0 256.0,111.7 256.4,108.5 256.9,105.2 257.6,102.0 258.3,98.7 259.0,95.5 259.9,92.2 260.8,89.0 261.8,85.7 262.9,82.5 264.0,79.2 265.2,76.0 266.5,72.7 267.7,69.5 269.1,66.2 270.4,62.9 271.9,59.7 273.3,56.4 274.8,53.2 276.3,49.9 277.8,46.7 279.4,43.4 281.0,40.2 282.5,36.9 284.1,33.7 285.7,30.4 287.3,27.2 288.8,23.9 290.3,20.7"/>
<path stroke-width="1.2" d="M293.2,212.6 294.8,209.3 296.5,206.0 298.2,202.8 300.0,199.5 301.8,196.3 303.6,193.0 305.3,189.8 307.1,186.5 308.8,183.3 310.4,180.0 312.0,176.8 313.5,173.5 315.0,170.3 316.4,167.0 317.7,163.8 319.0,160.5 320.2,157.3 321.3,154.0 322.3,150.8 323.2,147.5 324.0,144.3 324.8,141.0 325.5,137.7 326.0,134.5 326.5,131.2 326.9,128.0 327.1,124.7 327.3,121.5 327.4,118.2 327.4,115.0 327.2,111.7 327.0,108.5 326.7,105.2 326.3,102.0 325.8,98.7 325.2,95.5 324.5,92.2 323.7,89.0 322.8,85.7 321.8,82.5 320.8,79.2 319.7,76.0 318.5,72.7 317.2,69.5 315.8,66.2 314.4,62.9 313.0,59.7 311.4,56.4 309.8,53.2 308.2,49.9 306.5,46.7 304.8,43.4 303.0,40.2 301.2,36.9 299.4,33.7 297.5,30.4 295.5,27.2 293.6,23.9 291.6,20.7"/>
<path stroke-width="1.2" d="M290.0,212.6 288.3,209.3 286.5,206.0 284.8,202.8 283.1,199.5 281.4,196.3 279.7,193.0 278.0,189.8 276.4,186.5 274.9,183.3 273.4,180.0 271.9,176.8 270.5,173.5 269.2,170.3 267.9,167.0 266.7,163.8 265.6,160.5 264.6,157.3 263.6,154.0 262.7,150.8 261.9,147.5 261.2,144.3 260.6,141.0 260.1,137.7 259.6,134.5 259.3,131.2 259.0,128.0 258.9,124.7 258.8,121.5 258.8,118.2 258.9,115.0 259.1,111.7 259.4,108.5 259.7,105.2 260.2,102.0 260.7,98.7 261.3,95.5 262.0,92.2 262.8,89.0 263.6,85.7 264.5,82.5 265.5,79.2 266.5,76.0 267.6,72.7 268.8,69.5 270.0,66.2 271.2,62.9 272.5,59.7 273.9,56.4 275.3,53.2 276.7,49.9 278.2,46.7 279.7,43.4 281.2,40.2 282.8,36.9 284.5,33.7 286.3,30.4 288.3,27.2 290.4,23.9 292.6,20.7"/>
<path stroke-width="1.2" d="M292.4,212.6 294.2,209.3 296.0,206.0 297.8,202.8 299.6,199.5 301.3,196.3 303.1,193.0 304.8,189.8 306.5,186.5 308.1,183.3 309.7,180.0 311.3,176.8 312.8,173.5 314.2,170.3 315.6,167.0 316.9,163.8 318.2,160.5 319.4,157.3 320.5,154.0 321.5,150.8 322.5,147.5 323.4,144.3 324.2,141.0 324.9,137.7 325.5,134.5 326.1,131.2 326.5,128.0 326.8,124.7 327.1,121.5 327.2,118.2 327.3,115.0 327.2,111.7 327.1,108.5 326.8,105.2 326.5,102.0 326.1,98.7 325.5,95.5 324.9,92.2 324.1,89.0 323.3,85.7 322.4,82.5 321.4,79.2 320.3,76.0 319.1,72.7 317.8,69.5 316.5,66.2 315.0,62.9 313.6,59.7 312.0,56.4 310.4,53.2 308.7,49.9 307.0,46.7 305.2,43.4 303.4,40.2 301.5,36.9 299.4,33.7 297.1,30.4 294.7,27.2 292.0,23.9 289.1,20.7"/>
<path stroke-width="1.2" d="M288.1,212.6 287.4,209.3 286.4,206.0 285.4,202.8 284.1,199.5 282.8,196.3 281.3,193.0 279.8,189.8 278.4,186.5 276.9,183.3 275.5,180.0 274.1,176.8 272.7,173.5 271.4,170.3 270.0,167.0 268.8,163.8 267.5,160.5 266.3,157.3 265.1,154.0 264.0,150.8 263.0,147.5 262.0,144.3 261.0,141.0 260.2,137.7 259.4,134.5 258.6,131.2 258.0,128.0 257.4,124.7 256.9,121.5 256.6,118.2 256.3,115.0 256.1,111.7 256.0,108.5 256.0,105.2 256.1,102.0 256.3,98.7 256.7,95.5 257.1,92.2 257.7,89.0 258.3,85.7 259.1,82.5 260.0,79.2 261.0,76.0 262.1,72.7 263.3,69.5 264.6,66.2 266.0,62.9 267.5,59.7 269.0,56.4 270.7,53.2 272.4,49.9 274.3,46.7 276.1,43.4 278.1,40.2 280.1,36.9 282.2,33.7 284.3,30.4 286.6,27.2 288.9,23.9 291.3,20.7"/>
<path stroke-width="1.2" d="M294.0,212.6 295.3,209.3 296.6,206.0 298.0,202.8 299.5,199.5 301.1,196.3 302.8,193.0 304.5,189.8 306.1,186.5 307.7,183.3 309.3,180.0 310.8,176.8 312.2,173.5 313.6,170.3 314.9,167.0 316.1,163.8 317.3,160.5 318.4,157.3 319.5,154.0 320.4,150.8 321.3,147.5 322.1,144.3 322.8,141.0 323.4,137.7 323.9,134.5 324.4,131.2 324.7,128.0 325.0,124.7 325.1,121.5 325.2,118.2 325.2,115.0 325.0,111.7 324.8,108.5 324.5,105.2 324.1,102.0 323.6,98.7 323.1,95.5 322.4,92.2 321.7,89.0 320.8,85.7 319.9,82.5 319.0,79.2 317.9,76.0 316.8,72.7 315.6,69.5 314.3,66.2 313.0,62.9 311.6,59.7 310.1,56.4 308.7,53.2 307.1,49.9 305.5,46.7 303.9,43.4 302.3,40.2 300.6,36.9 298.7,33.7 296.7,30.4 294.6,27.2 292.4,23.9 290.0,20.7"/>
<path stroke-width="1.2" d="M291.1,212.6 288.7,209.3 286.4,206.0 284.2,202.8 282.1,199.5 280.1,196.3 278.2,193.0 276.4,189.8 274.6,186.5 272.8,183.3 271.1,180.0 269.5,176.8 268.0,173.5 266.6,170.3 265.2,167.0 263.9,163.8 262.7,160.5 261.6,157.3 260.6,154.0 259.7,150.8 258.9,147.5 258.2,144.3 257.6,141.0 257.2,137.7 256.8,134.5 256.5,131.2 256.3,128.0 256.2,124.7 256.2,121.5 256.4,118.2 256.6,115.0 256.9,111.7 257.3,108.5 257.8,105.2 258.4,102.0 259.0,98.7 259.8,95.5 260.6,92.2 261.5,89.0 262.4,85.7 263.4,82.5 264.5,79.2 265.7,76.0 266.9,72.7 268.1,69.5 269.4,66.2 270.7,62.9 272.1,59.7 273.5,56.4 275.0,53.2 276.5,49.9 278.0,46.7 279.5,43.4 281.1,40.2 282.6,36.9 284.3,33.7 286.0,30.4 287.7,27.2 289.5,23.9 291.3,20.7"/>
<path stroke-width="1.2" d="M294.3,212.6 295.5,209.3 296.7,206.0 298.1,202.8 299.6,199.5 301.2,196.3 302.9,193.0 304.6,189.8 306.2,186.5 307.9,183.3 309.4,180.0 310.9,176.8 312.4,173.5 313.8,170.3 315.1,167.0 316.4,163.8 317.6,160.5 318.8,157.3 319.8,154.0 320.8,150.8 321.7,147.5 322.5,144.3 323.3,141.0 323.9,137.7 324.5,134.5 324.9,131.2 325.3,128.0 325.6,124.7 325.8,121.5 325.9,118.2 325.9,115.0 325.8,111.7 325.6,108.5 325.3,105.2 325.0,102.0 324.5,98.7 323.9,95.5 323.3,92.2 322.5,89.0 321.7,85.7 320.8,82.5 319.8,79.2 318.7,76.0 317.6,72.7 316.3,69.5 315.1,66.2 313.7,62.9 312.3,59.7 310.8,56.4 309.3,53.2 307.7,49.9 306.0,46.7 304.4,43.4 302.7,40.2 300.9,36.9 299.2,33.7 297.4,30.4 295.7,27.2 294.0,23.9 292.3,20.7"/>
<path stroke-width="1.2" d="M288.0,212.6 287.1,209.3 286.0,206.0 284.8,202.8 283.4,199.5 282.0,196.3 280.4,193.0 278.8,189.8 277.2,186.5 275.7,183.3 274.3,180.0 272.9,176.8 271.5,173.5 270.2,170.3 268.9,167.0 267.7,163.8 266.5,160.5 265.4,157.3 264.4,154.0 263.5,150.8 262.6,147.5 261.8,144.3 261.1,141.0 260.5,137.7 259.9,134.5 259.4,131.2 259.0,128.0 258.7,124.7 258.5,121.5 258.4,118.2 258.4,115.0 258.4,111.7 258.6,108.5 258.8,105.2 259.2,102.0 259.6,98.7 260.1,95.5 260.7,92.2 261.4,89.0 262.1,85.7 263.0,82.5 263.9,79.2 264.9,76.0 266.0,72.7 267.2,69.5 268.4,66.2 269.7,62.9 271.0,59.7 272.5,56.4 273.9,53.2 275.4,49.9 277.0,46.7 278.6,43.4 280.3,40.2 281.9,36.9 283.4,33.7 284.7,30.4 285.9,27.2 287.0,23.9 287.8,20.7"/>
<path stroke-width="1.2" d="M293.5,212.6 294.8,209.3 296.1,206.0 297.6,202.8 299.1,199.5 300.7,196.3 302.3,193.0 303.9,189.8 305.4,186.5 306.9,183.3 308.4,180.0 309.9,176.8 311.3,173.5 312.6,170.3 313.9,167.0 315.1,163.8 316.3,160.5 317.4,157.3 318.4,154.0 319.4,150.8 320.2,147.5 321.0,144.3 321.8,141.0 322.4,137.7 323.0,134.5 323.4,131.2 323.8,128.0 324.1,124.7 324.3,121.5 324.5,118.2 324.5,115.0 324.4,111.7 324.3,108.5 324.0,105.2 323.7,102.0 323.3,98.7 322.7,95.5 322.1,92.2 321.4,89.0 320.7,85.7 319.8,82.5 318.9,79.2 317.8,76.0 316.7,72.7 315.6,69.5 314.3,66.2 313.0,62.9 311.7,59.7 310.2,56.4 308.8,53.2 307.2,49.9 305.6,46.7 304.0,43.4 302.4,40.2 300.7,36.9 299.0,33.7 297.4,30.4 295.9,27.2 294.4,23.9 292.9,20.7"/>
<path stroke-width="1.3" d="M288.0,212.6 283.3,209.3 278.7,206.0 274.2,202.8 269.8,199.5 265.7,196.3 261.9,193.0 258.3,189.8 255.2,186.5 252.4,183.3 250.1,180.0 248.2,176.8 246.8,173.5 245.9,170.3 245.6,167.0 245.7,163.8 246.4,160.5 247.5,157.3 249.2,154.0 251.3,150.8 253.9,147.5 256.9,144.3 260.3,141.0 264.1,137.7 268.2,134.5 272.5,131.2 277.1,128.0 281.9,124.7 286.7,121.5 291.7,118.2 296.6,115.0 301.5,111.7 306.4,108.5 311.0,105.2 315.5,102.0 319.7,98.7 323.7,95.5 327.3,92.2 330.5,89.0 333.3,85.7 335.7,82.5 337.5,79.2 338.9,76.0 339.8,72.7 340.2,69.5 340.0,66.2 339.4,62.9 338.2,59.7 336.5,56.4 334.3,53.2 331.7,49.9 328.6,46.7 325.1,43.4 321.3,40.2 317.1,36.9 312.8,33.7 308.3,30.4 303.7,27.2 299.1,23.9 294.5,20.7"/>
<path stroke-width="1.3" d="M291.9,212.6 297.5,209.3 302.9,206.0 308.0,202.8 312.8,199.5 317.1,196.3 321.1,193.0 324.7,189.8 327.9,186.5 330.7,183.3 333.1,180.0 335.0,176.8 336.5,173.5 337.4,170.3 337.8,167.0 337.7,163.8 337.1,160.5 336.0,157.3 334.4,154.0 332.3,150.8 329.7,147.5 326.7,144.3 323.3,141.0 319.6,137.7 315.5,134.5 311.2,131.2 306.6,128.0 301.9,124.7 297.0,121.5 292.1,118.2 287.1,115.0 282.2,111.7 277.4,108.5 272.7,105.2 268.2,102.0 264.0,98.7 260.0,95.5 256.4,92.2 253.1,89.0 250.3,85.7 247.9,82.5 246.0,79.2 244.6,76.0 243.6,72.7 243.2,69.5 243.3,66.2 243.9,62.9 245.1,59.7 246.7,56.4 248.9,53.2 251.4,49.9 254.5,46.7 257.9,43.4 261.7,40.2 265.8,36.9 270.3,33.7 275.1,30.4 280.2,27.2 285.5,23.9 291.0,20.7"/>
<path stroke-width="1.3" d="M290.7,212.6 285.0,209.3 279.6,206.0 274.4,202.8 269.6,199.5 265.3,196.3 261.3,193.0 257.7,189.8 254.4,186.5 251.5,183.3 249.1,180.0 247.2,176.8 245.7,173.5 244.7,170.3 244.2,167.0 244.2,163.8 244.8,160.5 245.8,157.3 247.4,154.0 249.4,150.8 251.9,147.5 254.8,144.3 258.1,141.0 261.8,137.7 265.7,134.5 270.0,131.2 274.5,128.0 279.1,124.7 283.9,121.5 288.8,118.2 293.7,115.0 298.5,111.7 303.3,108.5 307.9,105.2 312.4,102.0 316.6,98.7 320.5,95.5 324.1,92.2 327.4,89.0 330.2,85.7 332.6,82.5 334.5,79.2 336.0,76.0 337.0,72.7 337.4,69.5 337.4,66.2 336.8,62.9 335.8,59.7 334.2,56.4 332.2,53.2 329.7,49.9 326.8,46.7 323.5,43.4 319.9,40.2 315.9,36.9 311.5,33.7 306.8,30.4 301.9,27.2 296.6,23.9 291.2,20.7"/>
<path stroke-width="1.3" d="M293.4,212.6 298.5,209.3 303.5,206.0 308.2,202.8 312.8,199.5 317.0,196.3 320.9,193.0 324.5,189.8 327.7,186.5 330.5,183.3 332.9,180.0 334.8,176.8 336.3,173.5 337.2,170.3 337.7,167.0 337.6,163.8 337.0,160.5 335.9,157.3 334.4,154.0 332.3,150.8 329.8,147.5 326.9,144.3 323.6,141.0 319.9,137.7 315.9,134.5 311.6,131.2 307.1,128.0 302.5,124.7 297.7,121.5 292.8,118.2 287.9,115.0 283.1,111.7 278.3,108.5 273.7,105.2 269.2,102.0 265.0,98.7 261.1,95.5 257.6,92.2 254.3,89.0 251.5,85.7 249.1,82.5 247.2,79.2 245.8,76.0 244.8,72.7 244.4,69.5 244.5,66.2 245.1,62.9 246.2,59.7 247.8,56.4 249.8,53.2 252.3,49.9 255.3,46.7 258.6,43.4 262.3,40.2 266.3,36.9 270.8,33.7 275.5,30.4 280.6,27.2 285.9,23.9 291.3,20.7"/>
<path stroke-width="1.3" d="M290.1,212.6 284.8,209.3 279.7,206.0 274.8,202.8 270.3,199.5 266.1,196.3 262.2,193.0 258.7,189.8 255.6,186.5 252.9,183.3 250.5,180.0 248.7,176.8 247.3,173.5 246.3,170.3 245.9,167.0 246.0,163.8 246.6,160.5 247.7,157.3 249.2,154.0 251.3,150.8 253.7,147.5 256.6,144.3 259.9,141.0 263.5,137.7 267.5,134.5 271.7,131.2 276.1,128.0 280.7,124.7 285.4,121.5 290.2,118.2 295.0,115.0 299.8,111.7 304.5,108.5 309.0,105.2 313.4,102.0 317.5,98.7 321.3,95.5 324.9,92.2 328.0,89.0 330.8,85.7 333.1,82.5 335.0,79.2 336.4,76.0 337.3,72.7 337.7,69.5 337.6,66.2 337.0,62.9 335.9,59.7 334.3,56.4 332.3,53.2 329.8,49.9 326.8,46.7 323.5,43.4 319.9,40.2 315.9,36.9 311.6,33.7 307.1,30.4 302.3,27.2 297.3,23.9 292.3,20.7"/>
<path stroke-width="1.3" d="M295.8,212.6 300.1,209.3 304.3,206.0 308.6,202.8 312.7,199.5 316.8,196.3 320.7,193.0 324.2,189.8 327.4,186.5 330.2,183.3 332.6,180.0 334.5,176.8 336.0,173.5 336.9,170.3 337.4,167.0 337.4,163.8 336.8,160.5 335.8,157.3 334.2,154.0 332.2,150.8 329.8,147.5 326.9,144.3 323.7,141.0 320.1,137.7 316.2,134.5 312.0,131.2 307.6,128.0 303.0,124.7 298.3,121.5 293.5,118.2 288.7,115.0 283.9,111.7 279.2,108.5 274.7,105.2 270.3,102.0 266.1,98.7 262.3,95.5 258.7,92.2 255.6,89.0 252.8,85.7 250.4,82.5 248.5,79.2 247.1,76.0 246.1,72.7 245.7,69.5 245.7,66.2 246.3,62.9 247.3,59.7 248.9,56.4 250.9,53.2 253.3,49.9 256.2,46.7 259.4,43.4 263.0,40.2 266.9,36.9 271.3,33.7 276.1,30.4 281.1,27.2 286.5,23.9 292.1,20.7"/>
<path stroke-width="1.3" d="M287.1,212.6 282.7,209.3 278.3,206.0 273.9,202.8 269.6,199.5 265.5,196.3 261.5,193.0 257.9,189.8 254.6,186.5 251.7,183.3 249.3,180.0 247.2,176.8 245.6,173.5 244.5,170.3 243.9,167.0 243.8,163.8 244.1,160.5 245.0,157.3 246.3,154.0 248.1,150.8 250.3,147.5 253.0,144.3 256.0,141.0 259.4,137.7 263.1,134.5 267.0,131.2 271.2,128.0 275.6,124.7 280.1,121.5 284.6,118.2 289.2,115.0 293.8,111.7 298.4,108.5 302.8,105.2 307.0,102.0 311.0,98.7 314.8,95.5 318.3,92.2 321.4,89.0 324.2,85.7 326.6,82.5 328.6,79.2 330.1,76.0 331.1,72.7 331.7,69.5 331.8,66.2 331.5,62.9 330.7,59.7 329.4,56.4 327.7,53.2 325.5,49.9 323.0,46.7 320.1,43.4 316.9,40.2 313.3,36.9 309.5,33.7 305.4,30.4 301.0,27.2 296.5,23.9 291.8,20.7"/>
<path stroke-width="1.3" d="M293.6,212.6 298.4,209.3 303.0,206.0 307.5,202.8 311.7,199.5 315.8,196.3 319.5,193.0 322.9,189.8 326.0,186.5 328.7,183.3 330.9,180.0 332.8,176.8 334.2,173.5 335.1,170.3 335.6,167.0 335.5,163.8 335.0,160.5 334.0,157.3 332.6,154.0 330.7,150.8 328.3,147.5 325.6,144.3 322.5,141.0 319.0,137.7 315.2,134.5 311.2,131.2 307.0,128.0 302.6,124.7 298.1,121.5 293.5,118.2 288.9,115.0 284.3,111.7 279.8,108.5 275.4,105.2 271.3,102.0 267.3,98.7 263.6,95.5 260.2,92.2 257.1,89.0 254.5,85.7 252.2,82.5 250.4,79.2 249.0,76.0 248.1,72.7 247.6,69.5 247.7,66.2 248.2,62.9 249.2,59.7 250.7,56.4 252.6,53.2 254.9,49.9 257.7,46.7 260.8,43.4 264.2,40.2 268.0,36.9 272.1,33.7 276.4,30.4 281.0,27.2 285.8,23.9 290.8,20.7"/>
<path stroke-width="1.3" d="M291.2,212.6 285.8,209.3 280.6,206.0 275.8,202.8 271.3,199.5 267.2,196.3 263.5,193.0 260.1,189.8 257.1,186.5 254.5,183.3 252.2,180.0 250.4,176.8 249.0,173.5 248.1,170.3 247.7,167.0 247.7,163.8 248.2,160.5 249.1,157.3 250.6,154.0 252.4,150.8 254.7,147.5 257.4,144.3 260.4,141.0 263.8,137.7 267.4,134.5 271.4,131.2 275.5,128.0 279.8,124.7 284.2,121.5 288.7,118.2 293.2,115.0 297.7,111.7 302.1,108.5 306.4,105.2 310.5,102.0 314.4,98.7 318.0,95.5 321.3,92.2 324.3,89.0 327.0,85.7 329.2,82.5 331.0,79.2 332.3,76.0 333.2,72.7 333.7,69.5 333.7,66.2 333.2,62.9 332.2,59.7 330.8,56.4 328.9,53.2 326.6,49.9 324.0,46.7 321.0,43.4 317.6,40.2 313.9,36.9 309.9,33.7 305.6,30.4 301.1,27.2 296.3,23.9 291.4,20.7"/>
<path stroke-width="1.3" d="M294.1,212.6 298.7,209.3 303.1,206.0 307.5,202.8 311.7,199.5 315.7,196.3 319.4,193.0 322.8,189.8 325.9,186.5 328.6,183.3 330.9,180.0 332.8,176.8 334.2,173.5 335.2,170.3 335.7,167.0 335.7,163.8 335.3,160.5 334.4,157.3 333.0,154.0 331.2,150.8 328.9,147.5 326.3,144.3 323.2,141.0 319.9,137.7 316.3,134.5 312.3,131.2 308.2,128.0 303.9,124.7 299.5,121.5 295.0,118.2 290.5,115.0 286.0,111.7 281.6,108.5 277.3,105.2 273.2,102.0 269.3,98.7 265.7,95.5 262.3,92.2 259.3,89.0 256.6,85.7 254.4,82.5 252.5,79.2 251.1,76.0 250.2,72.7 249.7,69.5 249.7,66.2 250.1,62.9 251.1,59.7 252.4,56.4 254.2,53.2 256.4,49.9 259.0,46.7 262.0,43.4 265.3,40.2 268.9,36.9 272.6,33.7 276.5,30.4 280.6,27.2 284.6,23.9 288.7,20.7"/>
<path stroke-width="1.3" d="M290.5,212.6 286.0,209.3 281.7,206.0 277.7,202.8 273.9,199.5 270.5,196.3 267.3,193.0 264.5,189.8 262.0,186.5 259.8,183.3 258.0,180.0 256.5,176.8 255.5,173.5 254.9,170.3 254.7,167.0 255.0,163.8 255.7,160.5 256.9,157.3 258.4,154.0 260.4,150.8 262.7,147.5 265.4,144.3 268.4,141.0 271.7,137.7 275.3,134.5 279.1,131.2 283.0,128.0 287.2,124.7 291.4,121.5 295.6,118.2 299.9,115.0 304.1,111.7 308.2,108.5 312.2,105.2 316.0,102.0 319.6,98.7 322.9,95.5 325.9,92.2 328.6,89.0 330.9,85.7 332.9,82.5 334.4,79.2 335.4,76.0 336.1,72.7 336.2,69.5 336.0,66.2 335.2,62.9 334.0,59.7 332.4,56.4 330.4,53.2 327.9,49.9 325.1,46.7 321.9,43.4 318.4,40.2 314.6,36.9 310.4,33.7 305.9,30.4 301.1,27.2 296.1,23.9 290.9,20.7"/>
<path stroke-width="1.3" d="M296.2,212.6 300.1,209.3 304.0,206.0 307.9,202.8 311.9,199.5 315.8,196.3 319.5,193.0 323.0,189.8 326.1,186.5 328.9,183.3 331.3,180.0 333.3,176.8 334.8,173.5 335.9,170.3 336.6,167.0 336.8,163.8 336.5,160.5 335.8,157.3 334.7,154.0 333.1,150.8 331.1,147.5 328.7,144.3 325.9,141.0 322.9,137.7 319.5,134.5 315.9,131.2 312.0,128.0 308.0,124.7 303.9,121.5 299.6,118.2 295.4,115.0 291.1,111.7 286.9,108.5 282.8,105.2 278.9,102.0 275.1,98.7 271.6,95.5 268.3,92.2 265.4,89.0 262.8,85.7 260.5,82.5 258.6,79.2 257.1,76.0 256.1,72.7 255.5,69.5 255.3,66.2 255.5,62.9 256.2,59.7 257.3,56.4 258.7,53.2 260.6,49.9 262.9,46.7 265.4,43.4 268.3,40.2 271.4,36.9 274.7,33.7 278.0,30.4 281.4,27.2 284.8,23.9 288.2,20.7"/>
<path stroke-width="1.3" d="M290.0,212.6 285.7,209.3 281.6,206.0 277.7,202.8 274.0,199.5 270.5,196.3 267.4,193.0 264.5,189.8 261.9,186.5 259.7,183.3 257.8,180.0 256.3,176.8 255.1,173.5 254.4,170.3 254.0,167.0 254.1,163.8 254.6,160.5 255.5,157.3 256.8,154.0 258.5,150.8 260.5,147.5 262.9,144.3 265.6,141.0 268.6,137.7 271.8,134.5 275.3,131.2 279.0,128.0 282.8,124.7 286.7,121.5 290.6,118.2 294.6,115.0 298.5,111.7 302.4,108.5 306.1,105.2 309.7,102.0 313.1,98.7 316.3,95.5 319.2,92.2 321.8,89.0 324.0,85.7 325.9,82.5 327.5,79.2 328.6,76.0 329.4,72.7 329.7,69.5 329.6,66.2 329.1,62.9 328.2,59.7 326.9,56.4 325.2,53.2 323.1,49.9 320.7,46.7 318.0,43.4 314.9,40.2 311.7,36.9 308.2,33.7 304.7,30.4 301.1,27.2 297.4,23.9 293.8,20.7"/>
<path stroke-width="1.3" d="M295.2,212.6 298.9,209.3 302.6,206.0 306.3,202.8 310.0,199.5 313.5,196.3 317.0,193.0 320.1,189.8 322.9,186.5 325.4,183.3 327.6,180.0 329.4,176.8 330.7,173.5 331.7,170.3 332.3,167.0 332.4,163.8 332.1,160.5 331.4,157.3 330.2,154.0 328.7,150.8 326.8,147.5 324.5,144.3 322.0,141.0 319.1,137.7 315.9,134.5 312.5,131.2 308.9,128.0 305.2,124.7 301.3,121.5 297.4,118.2 293.4,115.0 289.4,111.7 285.5,108.5 281.7,105.2 278.1,102.0 274.6,98.7 271.4,95.5 268.4,92.2 265.7,89.0 263.3,85.7 261.2,82.5 259.5,79.2 258.2,76.0 257.3,72.7 256.7,69.5 256.6,66.2 256.9,62.9 257.6,59.7 258.7,56.4 260.1,53.2 262.0,49.9 264.1,46.7 266.6,43.4 269.4,40.2 272.3,36.9 275.4,33.7 278.5,30.4 281.5,27.2 284.5,23.9 287.4,20.7"/>
<path stroke-width="1.3" d="M291.1,212.6 286.9,209.3 282.8,206.0 279.0,202.8 275.5,199.5 272.3,196.3 269.4,193.0 266.7,189.8 264.4,186.5 262.3,183.3 260.5,180.0 259.1,176.8 258.0,173.5 257.3,170.3 256.9,167.0 256.9,163.8 257.3,160.5 258.1,157.3 259.2,154.0 260.7,150.8 262.5,147.5 264.6,144.3 267.1,141.0 269.7,137.7 272.6,134.5 275.7,131.2 279.0,128.0 282.4,124.7 285.9,121.5 289.5,118.2 293.0,115.0 296.6,111.7 300.1,108.5 303.5,105.2 306.7,102.0 309.8,98.7 312.6,95.5 315.3,92.2 317.6,89.0 319.7,85.7 321.5,82.5 322.9,79.2 323.9,76.0 324.7,72.7 325.0,69.5 325.0,66.2 324.6,62.9 323.8,59.7 322.6,56.4 321.2,53.2 319.4,49.9 317.2,46.7 314.8,43.4 312.2,40.2 309.3,36.9 306.0,33.7 302.5,30.4 298.8,27.2 294.9,23.9 290.7,20.7"/>
<path stroke-width="1.3" d="M295.4,212.6 298.1,209.3 301.0,206.0 303.8,202.8 306.7,199.5 309.5,196.3 312.3,193.0 314.8,189.8 317.1,186.5 319.0,183.3 320.7,180.0 322.0,176.8 323.0,173.5 323.6,170.3 323.9,167.0 323.7,163.8 323.3,160.5 322.4,157.3 321.2,154.0 319.7,150.8 317.8,147.5 315.6,144.3 313.1,141.0 310.4,137.7 307.5,134.5 304.3,131.2 301.0,128.0 297.6,124.7 294.1,121.5 290.5,118.2 287.0,115.0 283.4,111.7 280.0,108.5 276.6,105.2 273.4,102.0 270.3,98.7 267.5,95.5 264.9,92.2 262.6,89.0 260.6,85.7 258.9,82.5 257.6,79.2 256.6,76.0 256.0,72.7 255.7,69.5 255.8,66.2 256.3,62.9 257.2,59.7 258.5,56.4 260.0,53.2 262.0,49.9 264.2,46.7 266.7,43.4 269.5,40.2 272.6,36.9 275.9,33.7 279.6,30.4 283.6,27.2 287.8,23.9 292.2,20.7"/>
<path stroke-width="1.3" d="M289.4,212.6 286.1,209.3 282.9,206.0 279.8,202.8 276.8,199.5 273.9,196.3 271.2,193.0 268.8,189.8 266.5,186.5 264.5,183.3 262.8,180.0 261.4,176.8 260.3,173.5 259.5,170.3 259.0,167.0 258.8,163.8 259.0,160.5 259.4,157.3 260.2,154.0 261.3,150.8 262.7,147.5 264.3,144.3 266.2,141.0 268.3,137.7 270.7,134.5 273.2,131.2 275.9,128.0 278.6,124.7 281.5,121.5 284.5,118.2 287.5,115.0 290.4,111.7 293.4,108.5 296.2,105.2 299.0,102.0 301.6,98.7 304.1,95.5 306.4,92.2 308.5,89.0 310.3,85.7 311.9,82.5 313.3,79.2 314.3,76.0 315.1,72.7 315.6,69.5 315.7,66.2 315.6,62.9 315.2,59.7 314.5,56.4 313.5,53.2 312.2,49.9 310.7,46.7 308.9,43.4 307.0,40.2 304.8,36.9 302.3,33.7 299.5,30.4 296.5,27.2 293.2,23.9 289.8,20.7"/>
<path stroke-width="1.3" d="M292.7,212.6 295.7,209.3 298.7,206.0 301.6,202.8 304.4,199.5 306.9,196.3 309.3,193.0 311.5,189.8 313.5,186.5 315.2,183.3 316.6,180.0 317.8,176.8 318.7,173.5 319.3,170.3 319.6,167.0 319.5,163.8 319.2,160.5 318.5,157.3 317.6,154.0 316.3,150.8 314.8,147.5 313.0,144.3 311.0,141.0 308.8,137.7 306.3,134.5 303.7,131.2 301.0,128.0 298.2,124.7 295.2,121.5 292.3,118.2 289.3,115.0 286.4,111.7 283.5,108.5 280.6,105.2 277.9,102.0 275.4,98.7 273.0,95.5 270.8,92.2 268.9,89.0 267.1,85.7 265.7,82.5 264.5,79.2 263.7,76.0 263.1,72.7 262.8,69.5 262.9,66.2 263.2,62.9 263.9,59.7 264.8,56.4 266.1,53.2 267.6,49.9 269.4,46.7 271.4,43.4 273.7,40.2 276.1,36.9 278.5,33.7 281.0,30.4 283.5,27.2 285.9,23.9 288.2,20.7"/>
<path stroke-width="1.1" d="M292.9,212.6 290.8,209.3 288.9,206.0 287.3,202.8 285.9,199.5 284.8,196.3 284.0,193.0 283.3,189.8 282.8,186.5 282.6,183.3 282.5,180.0 282.6,176.8 283.0,173.5 283.6,170.3 284.4,167.0 285.5,163.8 286.8,160.5 288.4,157.3 290.1,154.0 292.1,150.8 294.2,147.5 296.6,144.3 299.0,141.0 301.6,137.7 304.4,134.5 307.2,131.2 310.0,128.0 312.9,124.7 315.7,121.5 318.6,118.2 321.3,115.0 324.0,111.7 326.6,108.5 328.9,105.2 331.1,102.0 333.1,98.7 334.9,95.5 336.4,92.2 337.6,89.0 338.5,85.7 339.1,82.5 339.4,79.2 339.3,76.0 338.9,72.7 338.2,69.5 337.1,66.2 335.7,62.9 333.9,59.7 331.8,56.4 329.4,53.2 326.6,49.9 323.6,46.7 320.4,43.4 316.9,40.2 313.3,36.9 309.5,33.7 305.7,30.4 302.0,27.2 298.2,23.9 294.6,20.7"/>
<path stroke-width="1.1" d="M290.6,212.6 289.5,209.3 288.5,206.0 287.5,202.8 286.6,199.5 285.8,196.3 285.1,193.0 284.6,189.8 284.2,186.5 284.0,183.3 284.0,180.0 284.2,176.8 284.6,173.5 285.2,170.3 286.0,167.0 287.0,163.8 288.2,160.5 289.6,157.3 291.2,154.0 293.0,150.8 294.9,147.5 297.0,144.3 299.3,141.0 301.6,137.7 304.1,134.5 306.6,131.2 309.1,128.0 311.7,124.7 314.3,121.5 316.8,118.2 319.3,115.0 321.7,111.7 323.9,108.5 326.0,105.2 328.0,102.0 329.8,98.7 331.3,95.5 332.6,92.2 333.7,89.0 334.5,85.7 335.0,82.5 335.2,79.2 335.1,76.0 334.7,72.7 334.0,69.5 333.0,66.2 331.6,62.9 330.0,59.7 328.1,56.4 325.9,53.2 323.4,49.9 320.7,46.7 317.7,43.4 314.5,40.2 311.2,36.9 307.7,33.7 304.1,30.4 300.3,27.2 296.5,23.9 292.7,20.7"/>
<path stroke-width="1.1" d="M292.2,212.6 293.0,209.3 293.8,206.0 294.6,202.8 295.3,199.5 295.9,196.3 296.5,193.0 297.0,189.8 297.3,186.5 297.4,183.3 297.4,180.0 297.3,176.8 296.9,173.5 296.4,170.3 295.7,167.0 294.8,163.8 293.7,160.5 292.4,157.3 291.0,154.0 289.4,150.8 287.7,147.5 285.9,144.3 283.9,141.0 281.8,137.7 279.6,134.5 277.4,131.2 275.2,128.0 272.9,124.7 270.7,121.5 268.4,118.2 266.3,115.0 264.2,111.7 262.2,108.5 260.3,105.2 258.6,102.0 257.0,98.7 255.7,95.5 254.5,92.2 253.6,89.0 252.9,85.7 252.5,82.5 252.3,79.2 252.4,76.0 252.8,72.7 253.4,69.5 254.3,66.2 255.5,62.9 256.9,59.7 258.7,56.4 260.6,53.2 262.8,49.9 265.2,46.7 267.8,43.4 270.6,40.2 273.6,36.9 276.9,33.7 280.4,30.4 284.2,27.2 288.1,23.9 292.2,20.7"/>
<path stroke-width="1.1" d="M293.3,212.6 296.8,209.3 300.2,206.0 303.5,202.8 306.7,199.5 309.8,196.3 312.8,193.0 315.5,189.8 318.0,186.5 320.4,183.3 322.4,180.0 324.2,176.8 325.8,173.5 327.0,170.3 328.0,167.0 328.7,163.8 329.0,160.5 329.1,157.3 328.9,154.0 328.4,150.8 327.6,147.5 326.6,144.3 325.3,141.0 323.8,137.7 322.1,134.5 320.2,131.2 318.1,128.0 315.9,124.7 313.5,121.5 311.1,118.2 308.6,115.0 306.1,111.7 303.6,108.5 301.1,105.2 298.6,102.0 296.2,98.7 293.9,95.5 291.7,92.2 289.7,89.0 287.8,85.7 286.1,82.5 284.6,79.2 283.3,76.0 282.1,72.7 281.2,69.5 280.6,66.2 280.1,62.9 279.9,59.7 279.9,56.4 280.1,53.2 280.5,49.9 281.1,46.7 281.9,43.4 282.8,40.2 283.9,36.9 285.3,33.7 286.8,30.4 288.6,27.2 290.6,23.9 292.7,20.7"/>
<path stroke-width="1.1" d="M290.3,212.6 286.5,209.3 282.8,206.0 279.2,202.8 275.8,199.5 272.7,196.3 269.7,193.0 267.0,189.8 264.5,186.5 262.1,183.3 260.1,180.0 258.3,176.8 256.7,173.5 255.5,170.3 254.5,167.0 253.8,163.8 253.5,160.5 253.4,157.3 253.6,154.0 254.1,150.8 254.9,147.5 255.9,144.3 257.2,141.0 258.7,137.7 260.4,134.5 262.3,131.2 264.4,128.0 266.6,124.7 269.0,121.5 271.4,118.2 273.9,115.0 276.4,111.7 278.9,108.5 281.4,105.2 283.9,102.0 286.3,98.7 288.6,95.5 290.8,92.2 292.8,89.0 294.7,85.7 296.4,82.5 297.9,79.2 299.2,76.0 300.4,72.7 301.3,69.5 301.9,66.2 302.4,62.9 302.6,59.7 302.6,56.4 302.4,53.2 302.0,49.9 301.4,46.7 300.6,43.4 299.7,40.2 298.6,36.9 297.6,33.7 296.7,30.4 295.9,27.2 295.1,23.9 294.5,20.7"/>
<path stroke-width="1.1" d="M293.5,212.6 292.9,209.3 292.4,206.0 292.0,202.8 291.8,199.5 291.7,196.3 291.8,193.0 291.8,189.8 291.9,186.5 291.9,183.3 291.9,180.0 291.9,176.8 291.9,173.5 291.9,170.3 291.9,167.0 291.8,163.8 291.8,160.5 291.7,157.3 291.6,154.0 291.5,150.8 291.4,147.5 291.3,144.3 291.2,141.0 291.1,137.7 290.9,134.5 290.8,131.2 290.6,128.0 290.5,124.7 290.3,121.5 290.2,118.2 290.0,115.0 289.9,111.7 289.7,108.5 289.6,105.2 289.5,102.0 289.4,98.7 289.3,95.5 289.2,92.2 289.1,89.0 289.1,85.7 289.0,82.5 289.0,79.2 289.0,76.0 289.0,72.7 289.0,69.5 289.1,66.2 289.1,62.9 289.2,59.7 289.3,56.4 289.4,53.2 289.5,49.9 289.7,46.7 289.8,43.4 290.0,40.2 290.2,36.9 290.2,33.7 290.1,30.4 289.9,27.2 289.6,23.9 289.2,20.7"/>
<path stroke-width="1.1" d="M288.6,212.6 289.5,209.3 290.1,206.0 290.6,202.8 290.9,199.5 291.0,196.3 291.0,193.0 291.0,189.8 291.0,186.5 290.9,183.3 290.9,180.0 290.9,176.8 290.9,173.5 290.9,170.3 290.9,167.0 290.9,163.8 290.9,160.5 290.9,157.3 290.9,154.0 290.9,150.8 290.9,147.5 291.0,144.3 291.0,141.0 291.0,137.7 291.0,134.5 291.1,131.2 291.1,128.0 291.2,124.7 291.2,121.5 291.2,118.2 291.3,115.0 291.3,111.7 291.4,108.5 291.4,105.2 291.4,102.0 291.5,98.7 291.5,95.5 291.5,92.2 291.5,89.0 291.6,85.7 291.6,82.5 291.6,79.2 291.6,76.0 291.6,72.7 291.6,69.5 291.6,66.2 291.6,62.9 291.6,59.7 291.6,56.4 291.6,53.2 291.6,49.9 291.5,46.7 291.5,43.4 291.5,40.2 291.4,36.9 291.2,33.7 290.8,30.4 290.3,27.2 289.5,23.9 288.7,20.7"/>
<path stroke-width="1.1" d="M289.0,212.6 289.9,209.3 290.7,206.0 291.3,202.8 291.8,199.5 292.1,196.3 292.2,193.0 292.4,189.8 292.5,186.5 292.6,183.3 292.7,180.0 292.8,176.8 292.9,173.5 292.9,170.3 293.0,167.0 293.0,163.8 293.0,160.5 293.1,157.3 293.1,154.0 293.1,150.8 293.0,147.5 293.0,144.3 293.0,141.0 292.9,137.7 292.8,134.5 292.8,131.2 292.7,128.0 292.6,124.7 292.5,121.5 292.4,118.2 292.3,115.0 292.2,111.7 292.1,108.5 292.0,105.2 291.9,102.0 291.8,98.7 291.7,95.5 291.6,92.2 291.5,89.0 291.5,85.7 291.4,82.5 291.3,79.2 291.2,76.0 291.2,72.7 291.1,69.5 291.1,66.2 291.1,62.9 291.0,59.7 291.0,56.4 291.0,53.2 291.0,49.9 291.0,46.7 291.0,43.4 291.0,40.2 291.1,36.9 291.2,33.7 291.4,30.4 291.7,27.2 292.1,23.9 292.5,20.7"/>
</g>
<rect x="225.0" y="19.5" width="132.5" height="195.0" fill="none" stroke="#454545" stroke-width="1.25"/>
<path d="M234.46,214.5v-2.5M234.46,19.5v2.5M253.39,214.5v-2.5M253.39,19.5v2.5M272.32,214.5v-2.5M272.32,19.5v2.5M291.25,214.5v-2.5M291.25,19.5v2.5M310.18,214.5v-2.5M310.18,19.5v2.5M329.11,214.5v-2.5M329.11,19.5v2.5M348.04,214.5v-2.5M348.04,19.5v2.5M225.0,195.00h2.5M357.5,195.00h-2.5M225.0,175.50h2.5M357.5,175.50h-2.5M225.0,156.00h2.5M357.5,156.00h-2.5M225.0,136.50h2.5M357.5,136.50h-2.5M225.0,117.00h2.5M357.5,117.00h-2.5M225.0,97.50h2.5M357.5,97.50h-2.5M225.0,78.00h2.5M357.5,78.00h-2.5M225.0,58.50h2.5M357.5,58.50h-2.5M225.0,39.00h2.5M357.5,39.00h-2.5" stroke="#454545" stroke-width="1.1" fill="none"/>
<text x="222.0" y="216.7" text-anchor="end" class="tk">0.0</text>
<text x="222.0" y="197.2" text-anchor="end" class="tk">0.1</text>
<text x="222.0" y="177.7" text-anchor="end" class="tk">0.2</text>
<text x="222.0" y="158.2" text-anchor="end" class="tk">0.3</text>
<text x="222.0" y="138.7" text-anchor="end" class="tk">0.4</text>
<text x="222.0" y="119.2" text-anchor="end" class="tk">0.5</text>
<text x="222.0" y="99.7" text-anchor="end" class="tk">0.6</text>
<text x="222.0" y="80.2" text-anchor="end" class="tk">0.7</text>
<text x="222.0" y="60.7" text-anchor="end" class="tk">0.8</text>
<text x="222.0" y="41.2" text-anchor="end" class="tk">0.9</text>
<text x="222.0" y="21.7" text-anchor="end" class="tk">1.0</text>
<text x="234.5" y="223.3" text-anchor="middle" class="tk"><tspan>0.6</tspan></text>
<text x="229.0" y="223.3" text-anchor="end" class="tk">−</text>
<text x="253.4" y="223.3" text-anchor="middle" class="tk"><tspan>0.4</tspan></text>
<text x="247.9" y="223.3" text-anchor="end" class="tk">−</text>
<text x="272.3" y="223.3" text-anchor="middle" class="tk"><tspan>0.2</tspan></text>
<text x="266.8" y="223.3" text-anchor="end" class="tk">−</text>
<text x="291.2" y="223.3" text-anchor="middle" class="tk">0.0</text>
<text x="310.2" y="223.3" text-anchor="middle" class="tk">0.2</text>
<text x="329.1" y="223.3" text-anchor="middle" class="tk">0.4</text>
<text x="348.0" y="223.3" text-anchor="middle" class="tk">0.6</text>
<g fill="none" stroke="#0000ff">
<path stroke-width="1.1" d="M476.7,212.6 474.7,209.3 472.8,206.0 470.9,202.8 469.1,199.5 467.4,196.3 465.7,193.0 464.1,189.8 462.6,186.5 461.0,183.3 459.6,180.0 458.2,176.8 456.8,173.5 455.5,170.3 454.3,167.0 453.1,163.8 452.0,160.5 451.0,157.3 450.1,154.0 449.2,150.8 448.5,147.5 447.8,144.3 447.2,141.0 446.7,137.7 446.2,134.5 445.9,131.2 445.7,128.0 445.5,124.7 445.4,121.5 445.5,118.2 445.6,115.0 445.7,111.7 446.0,108.5 446.4,105.2 446.8,102.0 447.3,98.7 447.9,95.5 448.6,92.2 449.4,89.0 450.2,85.7 451.1,82.5 452.0,79.2 453.0,76.0 454.1,72.7 455.2,69.5 456.4,66.2 457.6,62.9 458.9,59.7 460.2,56.4 461.5,53.2 462.9,49.9 464.3,46.7 465.8,43.4 467.3,40.2 468.7,36.9 470.1,33.7 471.4,30.4 472.6,27.2 473.7,23.9 474.7,20.7"/>
<path stroke-width="1.1" d="M479.4,212.6 477.0,209.3 474.8,206.0 472.9,202.8 471.2,199.5 469.7,196.3 468.4,193.0 467.2,189.8 466.0,186.5 464.8,183.3 463.6,180.0 462.5,176.8 461.4,173.5 460.3,170.3 459.3,167.0 458.3,163.8 457.4,160.5 456.5,157.3 455.6,154.0 454.8,150.8 454.1,147.5 453.4,144.3 452.8,141.0 452.3,137.7 451.8,134.5 451.4,131.2 451.0,128.0 450.7,124.7 450.5,121.5 450.4,118.2 450.3,115.0 450.3,111.7 450.4,108.5 450.5,105.2 450.8,102.0 451.1,98.7 451.4,95.5 451.9,92.2 452.4,89.0 453.0,85.7 453.7,82.5 454.4,79.2 455.2,76.0 456.1,72.7 457.0,69.5 458.0,66.2 459.1,62.9 460.2,59.7 461.4,56.4 462.6,53.2 463.8,49.9 465.1,46.7 466.5,43.4 467.8,40.2 469.2,36.9 470.8,33.7 472.5,30.4 474.3,27.2 476.2,23.9 478.3,20.7"/>
<path stroke-width="1.1" d="M472.7,212.6 472.9,209.3 472.7,206.0 472.4,202.8 471.8,199.5 470.9,196.3 469.9,193.0 468.9,189.8 467.9,186.5 466.9,183.3 465.9,180.0 465.0,176.8 464.1,173.5 463.2,170.3 462.4,167.0 461.6,163.8 460.8,160.5 460.1,157.3 459.4,154.0 458.8,150.8 458.2,147.5 457.6,144.3 457.1,141.0 456.7,137.7 456.3,134.5 456.0,131.2 455.7,128.0 455.5,124.7 455.3,121.5 455.2,118.2 455.2,115.0 455.2,111.7 455.3,108.5 455.4,105.2 455.6,102.0 455.8,98.7 456.2,95.5 456.5,92.2 457.0,89.0 457.5,85.7 458.0,82.5 458.6,79.2 459.3,76.0 460.0,72.7 460.8,69.5 461.6,66.2 462.5,62.9 463.4,59.7 464.3,56.4 465.3,53.2 466.3,49.9 467.4,46.7 468.5,43.4 469.6,40.2 470.7,36.9 472.1,33.7 473.8,30.4 475.6,27.2 477.7,23.9 480.1,20.7"/>
<path stroke-width="1.1" d="M473.1,212.6 473.2,209.3 473.1,206.0 472.8,202.8 472.3,199.5 471.5,196.3 470.6,193.0 469.7,189.8 468.8,186.5 468.0,183.3 467.2,180.0 466.4,176.8 465.6,173.5 464.9,170.3 464.3,167.0 463.6,163.8 463.1,160.5 462.5,157.3 462.1,154.0 461.6,150.8 461.2,147.5 460.9,144.3 460.6,141.0 460.4,137.7 460.2,134.5 460.0,131.2 460.0,128.0 459.9,124.7 459.9,121.5 460.0,118.2 460.1,115.0 460.3,111.7 460.5,108.5 460.7,105.2 461.0,102.0 461.3,98.7 461.7,95.5 462.1,92.2 462.5,89.0 463.0,85.7 463.5,82.5 464.0,79.2 464.6,76.0 465.1,72.7 465.7,69.5 466.4,66.2 467.0,62.9 467.7,59.7 468.4,56.4 469.1,53.2 469.8,49.9 470.6,46.7 471.3,43.4 472.1,40.2 472.8,36.9 473.6,33.7 474.3,30.4 475.1,27.2 475.8,23.9 476.6,20.7"/>
<path stroke-width="1.1" d="M480.3,212.6 478.4,209.3 476.8,206.0 475.4,202.8 474.3,199.5 473.5,196.3 472.9,193.0 472.3,189.8 471.7,186.5 471.1,183.3 470.6,180.0 470.0,176.8 469.5,173.5 469.0,170.3 468.6,167.0 468.1,163.8 467.7,160.5 467.3,157.3 466.9,154.0 466.6,150.8 466.3,147.5 466.0,144.3 465.7,141.0 465.5,137.7 465.3,134.5 465.2,131.2 465.0,128.0 465.0,124.7 464.9,121.5 464.9,118.2 464.9,115.0 464.9,111.7 465.0,108.5 465.1,105.2 465.3,102.0 465.4,98.7 465.6,95.5 465.9,92.2 466.1,89.0 466.4,85.7 466.8,82.5 467.1,79.2 467.5,76.0 467.9,72.7 468.3,69.5 468.8,66.2 469.2,62.9 469.7,59.7 470.3,56.4 470.8,53.2 471.3,49.9 471.9,46.7 472.5,43.4 473.1,40.2 473.7,36.9 474.5,33.7 475.5,30.4 476.7,27.2 478.0,23.9 479.5,20.7"/>
<path stroke-width="1.1" d="M478.4,212.6 477.5,209.3 476.7,206.0 476.1,202.8 475.5,199.5 475.1,196.3 474.7,193.0 474.4,189.8 474.1,186.5 473.8,183.3 473.4,180.0 473.1,176.8 472.8,173.5 472.6,170.3 472.3,167.0 472.0,163.8 471.8,160.5 471.5,157.3 471.3,154.0 471.1,150.8 470.8,147.5 470.7,144.3 470.5,141.0 470.3,137.7 470.2,134.5 470.1,131.2 469.9,128.0 469.9,124.7 469.8,121.5 469.7,118.2 469.7,115.0 469.7,111.7 469.7,108.5 469.7,105.2 469.8,102.0 469.9,98.7 470.0,95.5 470.1,92.2 470.2,89.0 470.4,85.7 470.5,82.5 470.7,79.2 471.0,76.0 471.2,72.7 471.4,69.5 471.7,66.2 472.0,62.9 472.3,59.7 472.6,56.4 473.0,53.2 473.3,49.9 473.7,46.7 474.0,43.4 474.4,40.2 474.8,36.9 475.1,33.7 475.3,30.4 475.4,27.2 475.4,23.9 475.3,20.7"/>
<path stroke-width="1.1" d="M475.2,212.6 475.6,209.3 475.9,206.0 476.0,202.8 476.0,199.5 476.0,196.3 475.8,193.0 475.7,189.8 475.5,186.5 475.3,183.3 475.2,180.0 475.1,176.8 475.0,173.5 474.8,170.3 474.7,167.0 474.7,163.8 474.6,160.5 474.5,157.3 474.5,154.0 474.4,150.8 474.4,147.5 474.4,144.3 474.4,141.0 474.4,137.7 474.4,134.5 474.4,131.2 474.4,128.0 474.5,124.7 474.5,121.5 474.6,118.2 474.6,115.0 474.7,111.7 474.8,108.5 474.8,105.2 474.9,102.0 475.0,98.7 475.1,95.5 475.2,92.2 475.3,89.0 475.4,85.7 475.5,82.5 475.5,79.2 475.6,76.0 475.7,72.7 475.8,69.5 475.9,66.2 476.0,62.9 476.1,59.7 476.2,56.4 476.3,53.2 476.3,49.9 476.4,46.7 476.5,43.4 476.6,40.2 476.7,36.9 476.9,33.7 477.2,30.4 477.7,27.2 478.3,23.9 479.0,20.7"/>
<path stroke-width="1.1" d="M480.8,212.6 479.7,209.3 478.9,206.0 478.3,202.8 477.9,199.5 477.8,196.3 478.0,193.0 478.1,189.8 478.2,186.5 478.3,183.3 478.5,180.0 478.6,176.8 478.7,173.5 478.8,170.3 478.9,167.0 479.0,163.8 479.1,160.5 479.1,157.3 479.2,154.0 479.3,150.8 479.3,147.5 479.4,144.3 479.4,141.0 479.4,137.7 479.4,134.5 479.5,131.2 479.5,128.0 479.5,124.7 479.4,121.5 479.4,118.2 479.4,115.0 479.4,111.7 479.3,108.5 479.3,105.2 479.3,102.0 479.2,98.7 479.1,95.5 479.1,92.2 479.0,89.0 478.9,85.7 478.9,82.5 478.8,79.2 478.7,76.0 478.6,72.7 478.5,69.5 478.4,66.2 478.4,62.9 478.3,59.7 478.2,56.4 478.1,53.2 478.0,49.9 477.9,46.7 477.8,43.4 477.7,40.2 477.6,36.9 477.8,33.7 478.2,30.4 478.9,27.2 479.9,23.9 481.1,20.7"/>
<path stroke-width="1.1" d="M478.8,212.6 478.6,209.3 478.6,206.0 478.6,202.8 478.8,199.5 479.1,196.3 479.4,193.0 479.7,189.8 480.1,186.5 480.4,183.3 480.7,180.0 481.1,176.8 481.4,173.5 481.6,170.3 481.9,167.0 482.2,163.8 482.5,160.5 482.7,157.3 482.9,154.0 483.1,150.8 483.3,147.5 483.5,144.3 483.7,141.0 483.8,137.7 483.9,134.5 484.0,131.2 484.1,128.0 484.2,124.7 484.2,121.5 484.3,118.2 484.3,115.0 484.3,111.7 484.2,108.5 484.2,105.2 484.1,102.0 484.0,98.7 483.9,95.5 483.8,92.2 483.6,89.0 483.5,85.7 483.3,82.5 483.1,79.2 482.8,76.0 482.6,72.7 482.3,69.5 482.1,66.2 481.8,62.9 481.5,59.7 481.2,56.4 480.9,53.2 480.5,49.9 480.2,46.7 479.8,43.4 479.4,40.2 479.1,36.9 479.0,33.7 479.1,30.4 479.4,27.2 479.9,23.9 480.6,20.7"/>
<path stroke-width="1.1" d="M474.2,212.6 475.8,209.3 477.1,206.0 478.3,202.8 479.2,199.5 479.9,196.3 480.5,193.0 481.0,189.8 481.5,186.5 482.0,183.3 482.5,180.0 483.0,176.8 483.5,173.5 483.9,170.3 484.4,167.0 484.8,163.8 485.3,160.5 485.7,157.3 486.1,154.0 486.5,150.8 486.8,147.5 487.2,144.3 487.5,141.0 487.8,137.7 488.1,134.5 488.4,131.2 488.6,128.0 488.8,124.7 488.9,121.5 489.1,118.2 489.2,115.0 489.2,111.7 489.3,108.5 489.3,105.2 489.2,102.0 489.2,98.7 489.0,95.5 488.9,92.2 488.7,89.0 488.5,85.7 488.2,82.5 487.9,79.2 487.5,76.0 487.2,72.7 486.7,69.5 486.3,66.2 485.8,62.9 485.3,59.7 484.7,56.4 484.2,53.2 483.5,49.9 482.9,46.7 482.3,43.4 481.6,40.2 480.9,36.9 480.5,33.7 480.2,30.4 480.2,27.2 480.4,23.9 480.8,20.7"/>
<path stroke-width="1.1" d="M477.4,212.6 478.4,209.3 479.4,206.0 480.4,202.8 481.3,199.5 482.2,196.3 483.1,193.0 484.0,189.8 484.9,186.5 485.7,183.3 486.5,180.0 487.3,176.8 488.0,173.5 488.7,170.3 489.4,167.0 490.0,163.8 490.6,160.5 491.1,157.3 491.6,154.0 492.1,150.8 492.5,147.5 492.8,144.3 493.1,141.0 493.4,137.7 493.6,134.5 493.8,131.2 493.9,128.0 494.0,124.7 494.0,121.5 494.0,118.2 493.9,115.0 493.8,111.7 493.6,108.5 493.4,105.2 493.2,102.0 492.9,98.7 492.6,95.5 492.2,92.2 491.8,89.0 491.3,85.7 490.9,82.5 490.3,79.2 489.8,76.0 489.2,72.7 488.6,69.5 488.0,66.2 487.3,62.9 486.6,59.7 485.9,56.4 485.2,53.2 484.5,49.9 483.7,46.7 483.0,43.4 482.2,40.2 481.4,36.9 480.6,33.7 480.0,30.4 479.3,27.2 478.7,23.9 478.2,20.7"/>
<path stroke-width="1.1" d="M474.3,212.6 476.5,209.3 478.5,206.0 480.2,202.8 481.7,199.5 482.9,196.3 484.0,193.0 485.0,189.8 486.0,186.5 487.0,183.3 487.9,180.0 488.8,176.8 489.7,173.5 490.6,170.3 491.4,167.0 492.2,163.8 493.0,160.5 493.7,157.3 494.4,154.0 495.1,150.8 495.7,147.5 496.2,144.3 496.7,141.0 497.2,137.7 497.6,134.5 498.0,131.2 498.2,128.0 498.5,124.7 498.7,121.5 498.8,118.2 498.9,115.0 498.9,111.7 498.8,108.5 498.7,105.2 498.5,102.0 498.3,98.7 498.0,95.5 497.6,92.2 497.2,89.0 496.7,85.7 496.1,82.5 495.5,79.2 494.9,76.0 494.2,72.7 493.4,69.5 492.6,66.2 491.7,62.9 490.8,59.7 489.9,56.4 488.9,53.2 487.8,49.9 486.8,46.7 485.7,43.4 484.6,40.2 483.4,36.9 482.0,33.7 480.5,30.4 478.8,27.2 476.9,23.9 474.9,20.7"/>
<path stroke-width="1.1" d="M475.0,212.6 477.4,209.3 479.5,206.0 481.5,202.8 483.2,199.5 484.7,196.3 486.1,193.0 487.4,189.8 488.6,186.5 489.9,183.3 491.1,180.0 492.3,176.8 493.4,173.5 494.5,170.3 495.5,167.0 496.5,163.8 497.4,160.5 498.3,157.3 499.1,154.0 499.8,150.8 500.5,147.5 501.2,144.3 501.7,141.0 502.2,137.7 502.6,134.5 503.0,131.2 503.3,128.0 503.5,124.7 503.6,121.5 503.7,118.2 503.7,115.0 503.6,111.7 503.4,108.5 503.2,105.2 502.9,102.0 502.5,98.7 502.1,95.5 501.6,92.2 501.0,89.0 500.3,85.7 499.6,82.5 498.9,79.2 498.0,76.0 497.1,72.7 496.2,69.5 495.2,66.2 494.2,62.9 493.1,59.7 491.9,56.4 490.8,53.2 489.5,49.9 488.3,46.7 487.0,43.4 485.7,40.2 484.4,36.9 483.4,33.7 482.5,30.4 481.9,27.2 481.5,23.9 481.4,20.7"/>
<path stroke-width="1.1" d="M478.9,212.6 480.2,209.3 481.5,206.0 482.9,202.8 484.4,199.5 485.9,196.3 487.4,193.0 488.9,189.8 490.4,186.5 491.9,183.3 493.3,180.0 494.6,176.8 495.9,173.5 497.2,170.3 498.4,167.0 499.6,163.8 500.7,160.5 501.7,157.3 502.7,154.0 503.6,150.8 504.5,147.5 505.2,144.3 505.9,141.0 506.5,137.7 507.1,134.5 507.5,131.2 507.9,128.0 508.2,124.7 508.4,121.5 508.5,118.2 508.5,115.0 508.5,111.7 508.3,108.5 508.1,105.2 507.8,102.0 507.4,98.7 506.9,95.5 506.3,92.2 505.7,89.0 504.9,85.7 504.1,82.5 503.2,79.2 502.3,76.0 501.2,72.7 500.1,69.5 498.9,66.2 497.7,62.9 496.4,59.7 495.0,56.4 493.6,53.2 492.2,49.9 490.7,46.7 489.1,43.4 487.6,40.2 485.9,36.9 484.2,33.7 482.4,30.4 480.6,27.2 478.6,23.9 476.6,20.7"/>
<path stroke-width="1.25" d="M477.1,212.6 470.6,209.3 464.5,206.0 458.7,202.8 453.4,199.5 448.5,196.3 444.2,193.0 440.2,189.8 436.7,186.5 433.5,183.3 430.9,180.0 428.7,176.8 427.1,173.5 426.1,170.3 425.6,167.0 425.6,163.8 426.2,160.5 427.4,157.3 429.1,154.0 431.4,150.8 434.1,147.5 437.3,144.3 441.0,141.0 445.0,137.7 449.4,134.5 454.1,131.2 459.0,128.0 464.2,124.7 469.5,121.5 474.8,118.2 480.2,115.0 485.5,111.7 490.8,108.5 495.9,105.2 500.8,102.0 505.4,98.7 509.7,95.5 513.7,92.2 517.2,89.0 520.3,85.7 523.0,82.5 525.1,79.2 526.7,76.0 527.8,72.7 528.2,69.5 528.2,66.2 527.5,62.9 526.4,59.7 524.6,56.4 522.4,53.2 519.6,49.9 516.4,46.7 512.8,43.4 508.7,40.2 504.3,36.9 499.3,33.7 493.9,30.4 488.1,27.2 481.9,23.9 475.4,20.7"/>
<path stroke-width="1.25" d="M477.8,212.6 484.0,209.3 489.9,206.0 495.4,202.8 500.6,199.5 505.4,196.3 509.7,193.0 513.7,189.8 517.2,186.5 520.3,183.3 523.0,180.0 525.1,176.8 526.7,173.5 527.7,170.3 528.2,167.0 528.2,163.8 527.5,160.5 526.3,157.3 524.6,154.0 522.4,150.8 519.6,147.5 516.4,144.3 512.7,141.0 508.7,137.7 504.3,134.5 499.6,131.2 494.7,128.0 489.5,124.7 484.2,121.5 478.9,118.2 473.5,115.0 468.2,111.7 462.9,108.5 457.8,105.2 452.9,102.0 448.3,98.7 444.0,95.5 440.0,92.2 436.5,89.0 433.4,85.7 430.8,82.5 428.6,79.2 427.1,76.0 426.0,72.7 425.5,69.5 425.6,66.2 426.3,62.9 427.5,59.7 429.2,56.4 431.5,53.2 434.2,49.9 437.5,46.7 441.1,43.4 445.2,40.2 449.6,36.9 454.2,33.7 458.9,30.4 463.8,27.2 468.7,23.9 473.6,20.7"/>
<path stroke-width="1.25" d="M472.0,212.6 467.3,209.3 462.6,206.0 457.9,202.8 453.3,199.5 448.8,196.3 444.5,193.0 440.6,189.8 437.1,186.5 434.0,183.3 431.3,180.0 429.2,176.8 427.6,173.5 426.5,170.3 426.0,167.0 426.0,163.8 426.6,160.5 427.7,157.3 429.4,154.0 431.6,150.8 434.2,147.5 437.4,144.3 440.9,141.0 444.9,137.7 449.2,134.5 453.8,131.2 458.6,128.0 463.7,124.7 468.8,121.5 474.1,118.2 479.4,115.0 484.6,111.7 489.8,108.5 494.8,105.2 499.6,102.0 504.2,98.7 508.4,95.5 512.3,92.2 515.8,89.0 518.9,85.7 521.5,82.5 523.6,79.2 525.2,76.0 526.3,72.7 526.8,69.5 526.7,66.2 526.1,62.9 525.0,59.7 523.3,56.4 521.2,53.2 518.5,49.9 515.4,46.7 511.8,43.4 507.9,40.2 503.6,36.9 499.1,33.7 494.4,30.4 489.6,27.2 484.6,23.9 479.7,20.7"/>
<path stroke-width="1.25" d="M481.5,212.6 486.3,209.3 491.2,206.0 495.9,202.8 500.6,199.5 505.1,196.3 509.3,193.0 513.2,189.8 516.8,186.5 519.8,183.3 522.5,180.0 524.6,176.8 526.2,173.5 527.2,170.3 527.7,167.0 527.7,163.8 527.1,160.5 526.0,157.3 524.3,154.0 522.1,150.8 519.4,147.5 516.3,144.3 512.7,141.0 508.7,137.7 504.4,134.5 499.8,131.2 495.0,128.0 489.9,124.7 484.8,121.5 479.5,118.2 474.2,115.0 469.0,111.7 463.8,108.5 458.8,105.2 454.0,102.0 449.5,98.7 445.2,95.5 441.3,92.2 437.8,89.0 434.8,85.7 432.2,82.5 430.1,79.2 428.5,76.0 427.4,72.7 426.9,69.5 427.0,66.2 427.6,62.9 428.8,59.7 430.4,56.4 432.6,53.2 435.3,49.9 438.5,46.7 442.0,43.4 446.0,40.2 450.3,36.9 455.0,33.7 460.2,30.4 465.6,27.2 471.4,23.9 477.3,20.7"/>
<path stroke-width="1.25" d="M475.6,212.6 469.9,209.3 464.4,206.0 459.2,202.8 454.2,199.5 449.7,196.3 445.5,193.0 441.7,189.8 438.3,186.5 435.3,183.3 432.7,180.0 430.7,176.8 429.1,173.5 428.1,170.3 427.6,167.0 427.6,163.8 428.2,160.5 429.3,157.3 430.9,154.0 433.1,150.8 435.7,147.5 438.7,144.3 442.2,141.0 446.0,137.7 450.2,134.5 454.7,131.2 459.4,128.0 464.3,124.7 469.3,121.5 474.4,118.2 479.6,115.0 484.7,111.7 489.7,108.5 494.6,105.2 499.2,102.0 503.7,98.7 507.8,95.5 511.6,92.2 515.0,89.0 517.9,85.7 520.5,82.5 522.5,79.2 524.0,76.0 525.1,72.7 525.6,69.5 525.5,66.2 524.9,62.9 523.8,59.7 522.2,56.4 520.1,53.2 517.5,49.9 514.4,46.7 510.9,43.4 507.1,40.2 502.9,36.9 498.3,33.7 493.3,30.4 488.0,27.2 482.3,23.9 476.5,20.7"/>
<path stroke-width="1.25" d="M477.6,212.6 483.5,209.3 489.1,206.0 494.4,202.8 499.4,199.5 503.9,196.3 508.0,193.0 511.8,189.8 515.1,186.5 518.1,183.3 520.5,180.0 522.5,176.8 524.0,173.5 525.0,170.3 525.5,167.0 525.4,163.8 524.8,160.5 523.6,157.3 522.0,154.0 519.8,150.8 517.1,147.5 514.1,144.3 510.6,141.0 506.7,137.7 502.5,134.5 498.0,131.2 493.3,128.0 488.4,124.7 483.3,121.5 478.2,118.2 473.1,115.0 468.0,111.7 463.0,108.5 458.1,105.2 453.5,102.0 449.1,98.7 445.0,95.5 441.2,92.2 437.8,89.0 434.9,85.7 432.4,82.5 430.4,79.2 428.9,76.0 427.9,72.7 427.5,69.5 427.6,66.2 428.2,62.9 429.4,59.7 431.1,56.4 433.2,53.2 435.9,49.9 439.0,46.7 442.5,43.4 446.4,40.2 450.6,36.9 454.9,33.7 459.1,30.4 463.2,27.2 467.2,23.9 471.0,20.7"/>
<path stroke-width="1.25" d="M474.9,212.6 469.7,209.3 464.7,206.0 459.9,202.8 455.3,199.5 451.0,196.3 447.0,193.0 443.4,189.8 440.1,186.5 437.3,183.3 434.9,180.0 432.9,176.8 431.5,173.5 430.5,170.3 430.1,167.0 430.1,163.8 430.7,160.5 431.8,157.3 433.4,154.0 435.5,150.8 438.0,147.5 440.9,144.3 444.3,141.0 448.0,137.7 452.0,134.5 456.4,131.2 460.9,128.0 465.6,124.7 470.5,121.5 475.4,118.2 480.3,115.0 485.2,111.7 490.0,108.5 494.7,105.2 499.2,102.0 503.4,98.7 507.4,95.5 511.0,92.2 514.2,89.0 517.1,85.7 519.5,82.5 521.4,79.2 522.9,76.0 523.8,72.7 524.3,69.5 524.2,66.2 523.6,62.9 522.5,59.7 520.9,56.4 518.8,53.2 516.3,49.9 513.3,46.7 510.0,43.4 506.2,40.2 502.2,36.9 497.9,33.7 493.4,30.4 488.7,27.2 483.9,23.9 479.1,20.7"/>
<path stroke-width="1.25" d="M478.7,212.6 484.1,209.3 489.4,206.0 494.4,202.8 499.2,199.5 503.6,196.3 507.7,193.0 511.4,189.8 514.7,186.5 517.7,183.3 520.2,180.0 522.2,176.8 523.8,173.5 524.8,170.3 525.4,167.0 525.4,163.8 524.8,160.5 523.8,157.3 522.3,154.0 520.3,150.8 517.8,147.5 514.9,144.3 511.6,141.0 507.9,137.7 503.9,134.5 499.6,131.2 495.1,128.0 490.4,124.7 485.6,121.5 480.7,118.2 475.7,115.0 470.8,111.7 466.0,108.5 461.3,105.2 456.8,102.0 452.5,98.7 448.6,95.5 444.9,92.2 441.6,89.0 438.7,85.7 436.2,82.5 434.2,79.2 432.7,76.0 431.7,72.7 431.2,69.5 431.2,66.2 431.7,62.9 432.7,59.7 434.2,56.4 436.2,53.2 438.7,49.9 441.5,46.7 444.8,43.4 448.4,40.2 452.4,36.9 456.7,33.7 461.3,30.4 466.2,27.2 471.2,23.9 476.4,20.7"/>
<path stroke-width="1.25" d="M473.2,212.6 468.8,209.3 464.5,206.0 460.2,202.8 456.0,199.5 452.0,196.3 448.2,193.0 444.7,189.8 441.6,186.5 438.8,183.3 436.5,180.0 434.6,176.8 433.2,173.5 432.2,170.3 431.8,167.0 431.8,163.8 432.3,160.5 433.3,157.3 434.8,154.0 436.8,150.8 439.1,147.5 441.9,144.3 445.1,141.0 448.6,137.7 452.4,134.5 456.5,131.2 460.8,128.0 465.3,124.7 469.9,121.5 474.5,118.2 479.2,115.0 483.9,111.7 488.5,108.5 492.9,105.2 497.2,102.0 501.2,98.7 505.0,95.5 508.5,92.2 511.6,89.0 514.3,85.7 516.6,82.5 518.5,79.2 519.9,76.0 520.8,72.7 521.3,69.5 521.2,66.2 520.7,62.9 519.7,59.7 518.2,56.4 516.3,53.2 513.9,49.9 511.1,46.7 508.0,43.4 504.5,40.2 500.6,36.9 496.3,33.7 491.4,30.4 486.2,27.2 480.6,23.9 474.6,20.7"/>
<path stroke-width="1.25" d="M482.9,212.6 486.6,209.3 490.3,206.0 494.2,202.8 498.1,199.5 501.9,196.3 505.7,193.0 509.2,189.8 512.3,186.5 515.0,183.3 517.4,180.0 519.2,176.8 520.7,173.5 521.6,170.3 522.1,167.0 522.0,163.8 521.5,160.5 520.5,157.3 519.0,154.0 517.0,150.8 514.7,147.5 511.9,144.3 508.7,141.0 505.2,137.7 501.4,134.5 497.3,131.2 493.0,128.0 488.5,124.7 483.9,121.5 479.2,118.2 474.5,115.0 469.9,111.7 465.3,108.5 460.9,105.2 456.6,102.0 452.6,98.7 448.8,95.5 445.3,92.2 442.2,89.0 439.5,85.7 437.2,82.5 435.3,79.2 433.9,76.0 433.0,72.7 432.6,69.5 432.6,66.2 433.2,62.9 434.2,59.7 435.7,56.4 437.6,53.2 440.0,49.9 442.8,46.7 446.0,43.4 449.5,40.2 453.2,36.9 457.1,33.7 461.0,30.4 464.8,27.2 468.6,23.9 472.2,20.7"/>
<path stroke-width="1.25" d="M475.1,212.6 470.4,209.3 465.9,206.0 461.5,202.8 457.3,199.5 453.4,196.3 449.8,193.0 446.5,189.8 443.6,186.5 441.0,183.3 438.8,180.0 437.0,176.8 435.6,173.5 434.7,170.3 434.2,167.0 434.2,163.8 434.7,160.5 435.6,157.3 437.0,154.0 438.8,150.8 441.0,147.5 443.6,144.3 446.6,141.0 449.8,137.7 453.4,134.5 457.2,131.2 461.3,128.0 465.4,124.7 469.7,121.5 474.1,118.2 478.5,115.0 482.9,111.7 487.2,108.5 491.3,105.2 495.3,102.0 499.1,98.7 502.7,95.5 505.9,92.2 508.9,89.0 511.4,85.7 513.6,82.5 515.4,79.2 516.7,76.0 517.6,72.7 518.1,69.5 518.0,66.2 517.6,62.9 516.6,59.7 515.3,56.4 513.5,53.2 511.3,49.9 508.7,46.7 505.8,43.4 502.5,40.2 499.0,36.9 495.4,33.7 491.8,30.4 488.1,27.2 484.5,23.9 481.0,20.7"/>
<path stroke-width="1.25" d="M480.6,212.6 484.6,209.3 488.7,206.0 492.7,202.8 496.5,199.5 500.3,196.3 503.8,193.0 507.0,189.8 510.0,186.5 512.5,183.3 514.7,180.0 516.4,176.8 517.7,173.5 518.6,170.3 519.0,167.0 519.0,163.8 518.5,160.5 517.5,157.3 516.1,154.0 514.3,150.8 512.0,147.5 509.4,144.3 506.4,141.0 503.1,137.7 499.5,134.5 495.7,131.2 491.7,128.0 487.5,124.7 483.2,121.5 478.8,118.2 474.4,115.0 470.0,111.7 465.7,108.5 461.6,105.2 457.6,102.0 453.8,98.7 450.3,95.5 447.1,92.2 444.2,89.0 441.6,85.7 439.5,82.5 437.7,79.2 436.4,76.0 435.6,72.7 435.2,69.5 435.2,66.2 435.7,62.9 436.7,59.7 438.1,56.4 439.9,53.2 442.2,49.9 444.8,46.7 447.8,43.4 451.1,40.2 454.7,36.9 458.7,33.7 463.1,30.4 467.8,27.2 472.7,23.9 477.9,20.7"/>
<path stroke-width="1.25" d="M475.1,212.6 470.8,209.3 466.7,206.0 462.7,202.8 458.9,199.5 455.3,196.3 452.0,193.0 449.0,189.8 446.3,186.5 443.9,183.3 441.9,180.0 440.2,176.8 439.0,173.5 438.2,170.3 437.8,167.0 437.9,163.8 438.3,160.5 439.2,157.3 440.5,154.0 442.2,150.8 444.3,147.5 446.8,144.3 449.5,141.0 452.6,137.7 456.0,134.5 459.5,131.2 463.3,128.0 467.2,124.7 471.2,121.5 475.3,118.2 479.4,115.0 483.5,111.7 487.5,108.5 491.4,105.2 495.1,102.0 498.6,98.7 501.9,95.5 504.9,92.2 507.6,89.0 510.0,85.7 512.0,82.5 513.6,79.2 514.8,76.0 515.6,72.7 516.0,69.5 516.0,66.2 515.5,62.9 514.6,59.7 513.3,56.4 511.5,53.2 509.5,49.9 507.0,46.7 504.2,43.4 501.1,40.2 497.8,36.9 494.3,33.7 490.6,30.4 486.8,27.2 482.9,23.9 478.9,20.7"/>
<path stroke-width="1.25" d="M478.7,212.6 483.0,209.3 487.1,206.0 491.1,202.8 494.9,199.5 498.4,196.3 501.7,193.0 504.6,189.8 507.3,186.5 509.6,183.3 511.6,180.0 513.2,176.8 514.4,173.5 515.2,170.3 515.5,167.0 515.4,163.8 514.9,160.5 514.0,157.3 512.7,154.0 510.9,150.8 508.8,147.5 506.4,144.3 503.6,141.0 500.5,137.7 497.1,134.5 493.5,131.2 489.7,128.0 485.8,124.7 481.8,121.5 477.7,118.2 473.6,115.0 469.6,111.7 465.6,108.5 461.7,105.2 458.0,102.0 454.5,98.7 451.2,95.5 448.2,92.2 445.5,89.0 443.2,85.7 441.2,82.5 439.6,79.2 438.4,76.0 437.6,72.7 437.3,69.5 437.4,66.2 437.9,62.9 438.8,59.7 440.2,56.4 442.0,53.2 444.1,49.9 446.6,46.7 449.4,43.4 452.5,40.2 455.9,36.9 459.7,33.7 463.7,30.4 467.9,27.2 472.3,23.9 476.9,20.7"/>
<path stroke-width="1.25" d="M476.6,212.6 472.2,209.3 467.9,206.0 463.9,202.8 460.2,199.5 456.8,196.3 453.7,193.0 450.9,189.8 448.4,186.5 446.2,183.3 444.3,180.0 442.8,176.8 441.6,173.5 440.9,170.3 440.5,167.0 440.5,163.8 441.0,160.5 441.8,157.3 443.0,154.0 444.6,150.8 446.5,147.5 448.8,144.3 451.3,141.0 454.2,137.7 457.3,134.5 460.6,131.2 464.1,128.0 467.7,124.7 471.4,121.5 475.2,118.2 479.0,115.0 482.8,111.7 486.5,108.5 490.1,105.2 493.6,102.0 496.8,98.7 499.9,95.5 502.7,92.2 505.2,89.0 507.4,85.7 509.3,82.5 510.8,79.2 511.9,76.0 512.7,72.7 513.0,69.5 513.0,66.2 512.6,62.9 511.7,59.7 510.5,56.4 508.9,53.2 507.0,49.9 504.7,46.7 502.2,43.4 499.3,40.2 496.2,36.9 492.9,33.7 489.4,30.4 485.8,27.2 482.0,23.9 478.2,20.7"/>
<path stroke-width="1.25" d="M481.4,212.6 484.5,209.3 487.6,206.0 490.8,202.8 493.9,199.5 497.0,196.3 500.1,193.0 502.9,189.8 505.4,186.5 507.6,183.3 509.4,180.0 510.9,176.8 512.0,173.5 512.8,170.3 513.1,167.0 513.1,163.8 512.6,160.5 511.8,157.3 510.6,154.0 509.0,150.8 507.0,147.5 504.7,144.3 502.2,141.0 499.3,137.7 496.2,134.5 492.9,131.2 489.4,128.0 485.8,124.7 482.0,121.5 478.2,118.2 474.4,115.0 470.7,111.7 467.0,108.5 463.4,105.2 459.9,102.0 456.6,98.7 453.6,95.5 450.8,92.2 448.3,89.0 446.1,85.7 444.3,82.5 442.8,79.2 441.6,76.0 440.9,72.7 440.6,69.5 440.6,66.2 441.1,62.9 441.9,59.7 443.2,56.4 444.8,53.2 446.7,49.9 449.0,46.7 451.6,43.4 454.5,40.2 457.6,36.9 460.6,33.7 463.6,30.4 466.5,27.2 469.2,23.9 471.8,20.7"/>
<path stroke-width="1.25" d="M476.7,212.6 472.6,209.3 468.7,206.0 465.0,202.8 461.6,199.5 458.4,196.3 455.6,193.0 453.0,189.8 450.7,186.5 448.7,183.3 446.9,180.0 445.5,176.8 444.5,173.5 443.8,170.3 443.5,167.0 443.5,163.8 443.9,160.5 444.7,157.3 445.8,154.0 447.2,150.8 449.0,147.5 451.1,144.3 453.5,141.0 456.1,137.7 459.0,134.5 462.0,131.2 465.3,128.0 468.6,124.7 472.0,121.5 475.5,118.2 479.0,115.0 482.5,111.7 485.9,108.5 489.3,105.2 492.5,102.0 495.5,98.7 498.3,95.5 500.9,92.2 503.2,89.0 505.2,85.7 506.9,82.5 508.3,79.2 509.3,76.0 510.0,72.7 510.4,69.5 510.3,66.2 509.9,62.9 509.1,59.7 508.0,56.4 506.5,53.2 504.8,49.9 502.7,46.7 500.3,43.4 497.6,40.2 494.8,36.9 491.6,33.7 488.2,30.4 484.6,27.2 480.8,23.9 476.9,20.7"/>
<path stroke-width="1.25" d="M476.3,212.6 480.8,209.3 485.0,206.0 488.9,202.8 492.5,199.5 495.7,196.3 498.6,193.0 501.2,189.8 503.5,186.5 505.6,183.3 507.4,180.0 508.8,176.8 509.8,173.5 510.6,170.3 510.9,167.0 510.9,163.8 510.5,160.5 509.8,157.3 508.7,154.0 507.2,150.8 505.5,147.5 503.4,144.3 501.0,141.0 498.4,137.7 495.5,134.5 492.5,131.2 489.3,128.0 485.9,124.7 482.5,121.5 479.0,118.2 475.5,115.0 472.0,111.7 468.6,108.5 465.3,105.2 462.1,102.0 459.1,98.7 456.2,95.5 453.7,92.2 451.3,89.0 449.3,85.7 447.6,82.5 446.2,79.2 445.1,76.0 444.4,72.7 444.0,69.5 444.1,66.2 444.5,62.9 445.2,59.7 446.3,56.4 447.7,53.2 449.5,49.9 451.6,46.7 453.9,43.4 456.5,40.2 459.4,36.9 462.4,33.7 465.6,30.4 468.9,27.2 472.3,23.9 475.7,20.7"/>
<path stroke-width="1.25" d="M473.6,212.6 470.9,209.3 468.1,206.0 465.3,202.8 462.5,199.5 459.8,196.3 457.2,193.0 454.8,189.8 452.6,186.5 450.7,183.3 449.1,180.0 447.8,176.8 446.8,173.5 446.1,170.3 445.8,167.0 445.8,163.8 446.1,160.5 446.8,157.3 447.8,154.0 449.1,150.8 450.7,147.5 452.6,144.3 454.8,141.0 457.2,137.7 459.8,134.5 462.6,131.2 465.5,128.0 468.6,124.7 471.7,121.5 474.9,118.2 478.1,115.0 481.3,111.7 484.4,108.5 487.5,105.2 490.4,102.0 493.2,98.7 495.8,95.5 498.1,92.2 500.3,89.0 502.1,85.7 503.7,82.5 505.0,79.2 506.0,76.0 506.7,72.7 507.0,69.5 507.0,66.2 506.6,62.9 506.0,59.7 505.0,56.4 503.7,53.2 502.0,49.9 500.2,46.7 498.0,43.4 495.7,40.2 493.1,36.9 490.6,33.7 488.0,30.4 485.6,27.2 483.2,23.9 481.0,20.7"/>
<path stroke-width="1.25" d="M479.1,212.6 482.3,209.3 485.5,206.0 488.6,202.8 491.6,199.5 494.5,196.3 497.1,193.0 499.6,189.8 501.8,186.5 503.7,183.3 505.3,180.0 506.7,176.8 507.7,173.5 508.4,170.3 508.8,167.0 508.8,163.8 508.5,160.5 507.8,157.3 506.9,154.0 505.6,150.8 504.0,147.5 502.1,144.3 500.0,141.0 497.6,137.7 495.0,134.5 492.2,131.2 489.3,128.0 486.2,124.7 483.1,121.5 479.9,118.2 476.7,115.0 473.5,111.7 470.4,108.5 467.3,105.2 464.4,102.0 461.6,98.7 459.0,95.5 456.6,92.2 454.4,89.0 452.6,85.7 450.9,82.5 449.6,79.2 448.6,76.0 447.9,72.7 447.6,69.5 447.6,66.2 447.9,62.9 448.5,59.7 449.5,56.4 450.8,53.2 452.3,49.9 454.2,46.7 456.3,43.4 458.6,40.2 461.2,36.9 464.1,33.7 467.2,30.4 470.6,27.2 474.3,23.9 478.1,20.7"/>
<path stroke-width="1.25" d="M473.1,212.6 470.9,209.3 468.6,206.0 466.3,202.8 463.9,199.5 461.6,196.3 459.2,193.0 457.1,189.8 455.1,186.5 453.4,183.3 452.0,180.0 450.8,176.8 450.0,173.5 449.4,170.3 449.1,167.0 449.1,163.8 449.5,160.5 450.1,157.3 451.0,154.0 452.3,150.8 453.7,147.5 455.5,144.3 457.5,141.0 459.6,137.7 462.0,134.5 464.6,131.2 467.2,128.0 470.0,124.7 472.9,121.5 475.8,118.2 478.7,115.0 481.6,111.7 484.4,108.5 487.2,105.2 489.8,102.0 492.3,98.7 494.7,95.5 496.8,92.2 498.7,89.0 500.4,85.7 501.8,82.5 503.0,79.2 503.9,76.0 504.4,72.7 504.7,69.5 504.7,66.2 504.3,62.9 503.7,59.7 502.8,56.4 501.5,53.2 500.1,49.9 498.3,46.7 496.3,43.4 494.2,40.2 491.7,36.9 489.0,33.7 486.0,30.4 482.7,27.2 479.2,23.9 475.5,20.7"/>
<path stroke-width="1.25" d="M478.9,212.6 481.8,209.3 484.7,206.0 487.5,202.8 490.2,199.5 492.8,196.3 495.2,193.0 497.4,189.8 499.4,186.5 501.2,183.3 502.7,180.0 503.9,176.8 504.8,173.5 505.4,170.3 505.8,167.0 505.8,163.8 505.5,160.5 504.9,157.3 504.0,154.0 502.8,150.8 501.4,147.5 499.7,144.3 497.7,141.0 495.6,137.7 493.2,134.5 490.7,131.2 488.0,128.0 485.2,124.7 482.4,121.5 479.5,118.2 476.6,115.0 473.7,111.7 470.8,108.5 468.1,105.2 465.4,102.0 462.9,98.7 460.5,95.5 458.4,92.2 456.4,89.0 454.7,85.7 453.2,82.5 452.0,79.2 451.1,76.0 450.5,72.7 450.2,69.5 450.2,66.2 450.5,62.9 451.1,59.7 452.0,56.4 453.1,53.2 454.5,49.9 456.2,46.7 458.1,43.4 460.3,40.2 462.6,36.9 465.1,33.7 467.8,30.4 470.6,27.2 473.5,23.9 476.5,20.7"/>
<path stroke-width="1.25" d="M475.4,212.6 472.8,209.3 470.2,206.0 467.7,202.8 465.3,199.5 463.0,196.3 460.9,193.0 459.0,189.8 457.2,186.5 455.7,183.3 454.4,180.0 453.3,176.8 452.5,173.5 452.0,170.3 451.7,167.0 451.8,163.8 452.0,160.5 452.6,157.3 453.4,154.0 454.5,150.8 455.8,147.5 457.4,144.3 459.1,141.0 461.1,137.7 463.2,134.5 465.5,131.2 467.9,128.0 470.4,124.7 473.0,121.5 475.6,118.2 478.2,115.0 480.8,111.7 483.3,108.5 485.8,105.2 488.2,102.0 490.5,98.7 492.6,95.5 494.5,92.2 496.2,89.0 497.8,85.7 499.0,82.5 500.1,79.2 500.9,76.0 501.4,72.7 501.7,69.5 501.6,66.2 501.3,62.9 500.8,59.7 500.0,56.4 498.9,53.2 497.6,49.9 496.0,46.7 494.3,43.4 492.3,40.2 490.2,36.9 487.8,33.7 485.3,30.4 482.7,27.2 479.9,23.9 477.0,20.7"/>
<path stroke-width="1.25" d="M480.3,212.6 482.4,209.3 484.6,206.0 486.8,202.8 489.0,199.5 491.3,196.3 493.4,193.0 495.4,189.8 497.2,186.5 498.8,183.3 500.1,180.0 501.2,176.8 502.1,173.5 502.7,170.3 503.0,167.0 503.0,163.8 502.7,160.5 502.2,157.3 501.4,154.0 500.4,150.8 499.1,147.5 497.5,144.3 495.8,141.0 493.8,137.7 491.7,134.5 489.5,131.2 487.1,128.0 484.6,124.7 482.0,121.5 479.4,118.2 476.8,115.0 474.2,111.7 471.6,108.5 469.2,105.2 466.8,102.0 464.5,98.7 462.4,95.5 460.4,92.2 458.7,89.0 457.1,85.7 455.8,82.5 454.7,79.2 453.9,76.0 453.4,72.7 453.1,69.5 453.0,66.2 453.3,62.9 453.8,59.7 454.6,56.4 455.6,53.2 456.9,49.9 458.4,46.7 460.1,43.4 462.0,40.2 464.1,36.9 466.3,33.7 468.8,30.4 471.3,27.2 473.9,23.9 476.6,20.7"/>
<path stroke-width="1.25" d="M475.6,212.6 473.4,209.3 471.2,206.0 469.0,202.8 467.0,199.5 465.1,196.3 463.3,193.0 461.6,189.8 460.1,186.5 458.8,183.3 457.8,180.0 456.9,176.8 456.2,173.5 455.8,170.3 455.7,167.0 455.7,163.8 456.0,160.5 456.6,157.3 457.4,154.0 458.4,150.8 459.6,147.5 461.0,144.3 462.6,141.0 464.4,137.7 466.3,134.5 468.3,131.2 470.5,128.0 472.7,124.7 475.0,121.5 477.3,118.2 479.6,115.0 481.9,111.7 484.1,108.5 486.3,105.2 488.4,102.0 490.4,98.7 492.3,95.5 493.9,92.2 495.4,89.0 496.8,85.7 497.9,82.5 498.7,79.2 499.4,76.0 499.8,72.7 500.0,69.5 499.9,66.2 499.6,62.9 499.0,59.7 498.2,56.4 497.2,53.2 496.0,49.9 494.5,46.7 492.9,43.4 491.1,40.2 489.1,36.9 487.2,33.7 485.3,30.4 483.4,27.2 481.6,23.9 479.9,20.7"/>
<path stroke-width="1.25" d="M481.8,212.6 482.9,209.3 484.1,206.0 485.6,202.8 487.2,199.5 488.9,196.3 490.6,193.0 492.3,189.8 493.8,186.5 495.0,183.3 496.1,180.0 497.0,176.8 497.6,173.5 498.0,170.3 498.2,167.0 498.1,163.8 497.8,160.5 497.2,157.3 496.4,154.0 495.4,150.8 494.2,147.5 492.8,144.3 491.2,141.0 489.4,137.7 487.5,134.5 485.4,131.2 483.3,128.0 481.1,124.7 478.8,121.5 476.5,118.2 474.1,115.0 471.8,111.7 469.6,108.5 467.4,105.2 465.3,102.0 463.3,98.7 461.5,95.5 459.8,92.2 458.3,89.0 457.0,85.7 455.9,82.5 455.0,79.2 454.4,76.0 454.0,72.7 453.8,69.5 453.9,66.2 454.2,62.9 454.8,59.7 455.6,56.4 456.7,53.2 457.9,49.9 459.4,46.7 461.0,43.4 462.8,40.2 464.8,36.9 466.6,33.7 468.4,30.4 470.1,27.2 471.6,23.9 473.0,20.7"/>
<path stroke-width="1.25" d="M478.5,212.6 475.5,209.3 472.9,206.0 470.4,202.8 468.2,199.5 466.3,196.3 464.7,193.0 463.2,189.8 461.8,186.5 460.7,183.3 459.7,180.0 458.9,176.8 458.3,173.5 457.9,170.3 457.7,167.0 457.7,163.8 457.9,160.5 458.4,157.3 459.0,154.0 459.9,150.8 460.9,147.5 462.1,144.3 463.5,141.0 465.0,137.7 466.7,134.5 468.4,131.2 470.3,128.0 472.2,124.7 474.2,121.5 476.2,118.2 478.2,115.0 480.3,111.7 482.2,108.5 484.2,105.2 486.0,102.0 487.7,98.7 489.4,95.5 490.8,92.2 492.2,89.0 493.3,85.7 494.3,82.5 495.1,79.2 495.7,76.0 496.1,72.7 496.3,69.5 496.3,66.2 496.0,62.9 495.6,59.7 494.9,56.4 494.1,53.2 493.1,49.9 491.8,46.7 490.5,43.4 488.9,40.2 487.3,36.9 485.5,33.7 483.6,30.4 481.7,27.2 479.7,23.9 477.6,20.7"/>
<path stroke-width="1.25" d="M477.2,212.6 479.4,209.3 481.6,206.0 483.7,202.8 485.6,199.5 487.3,196.3 488.9,193.0 490.3,189.8 491.6,186.5 492.7,183.3 493.6,180.0 494.4,176.8 494.9,173.5 495.2,170.3 495.4,167.0 495.3,163.8 495.0,160.5 494.5,157.3 493.9,154.0 493.0,150.8 491.9,147.5 490.7,144.3 489.3,141.0 487.7,137.7 486.0,134.5 484.3,131.2 482.4,128.0 480.4,124.7 478.4,121.5 476.4,118.2 474.4,115.0 472.4,111.7 470.4,108.5 468.5,105.2 466.7,102.0 465.0,98.7 463.4,95.5 461.9,92.2 460.6,89.0 459.5,85.7 458.5,82.5 457.8,79.2 457.2,76.0 456.9,72.7 456.7,69.5 456.8,66.2 457.1,62.9 457.6,59.7 458.3,56.4 459.2,53.2 460.3,49.9 461.6,46.7 463.0,43.4 464.6,40.2 466.4,36.9 468.4,33.7 470.7,30.4 473.2,27.2 476.0,23.9 478.9,20.7"/>
<path stroke-width="1.25" d="M473.9,212.6 472.9,209.3 471.7,206.0 470.4,202.8 469.1,199.5 467.7,196.3 466.3,193.0 465.0,189.8 463.8,186.5 462.7,183.3 461.9,180.0 461.2,176.8 460.6,173.5 460.2,170.3 460.1,167.0 460.1,163.8 460.2,160.5 460.6,157.3 461.1,154.0 461.8,150.8 462.7,147.5 463.7,144.3 464.9,141.0 466.2,137.7 467.6,134.5 469.1,131.2 470.6,128.0 472.3,124.7 474.0,121.5 475.7,118.2 477.4,115.0 479.1,111.7 480.8,108.5 482.5,105.2 484.0,102.0 485.5,98.7 486.9,95.5 488.2,92.2 489.4,89.0 490.4,85.7 491.2,82.5 491.9,79.2 492.5,76.0 492.8,72.7 493.0,69.5 493.0,66.2 492.8,62.9 492.5,59.7 492.0,56.4 491.3,53.2 490.4,49.9 489.4,46.7 488.3,43.4 487.0,40.2 485.6,36.9 484.2,33.7 482.8,30.4 481.5,27.2 480.1,23.9 478.8,20.7"/>
<path stroke-width="1.25" d="M475.2,212.6 477.9,209.3 480.3,206.0 482.5,202.8 484.4,199.5 486.1,196.3 487.5,193.0 488.8,189.8 489.9,186.5 490.9,183.3 491.7,180.0 492.4,176.8 492.9,173.5 493.3,170.3 493.4,167.0 493.4,163.8 493.2,160.5 492.8,157.3 492.3,154.0 491.5,150.8 490.7,147.5 489.6,144.3 488.5,141.0 487.2,137.7 485.7,134.5 484.2,131.2 482.6,128.0 481.0,124.7 479.3,121.5 477.6,118.2 475.8,115.0 474.1,111.7 472.4,108.5 470.8,105.2 469.2,102.0 467.8,98.7 466.4,95.5 465.1,92.2 464.0,89.0 463.0,85.7 462.1,82.5 461.5,79.2 460.9,76.0 460.6,72.7 460.5,69.5 460.5,66.2 460.7,62.9 461.1,59.7 461.6,56.4 462.4,53.2 463.3,49.9 464.3,46.7 465.5,43.4 466.8,40.2 468.2,36.9 469.5,33.7 470.7,30.4 471.8,27.2 472.7,23.9 473.5,20.7"/>
<path stroke-width="1.25" d="M476.0,212.6 474.6,209.3 473.3,206.0 472.0,202.8 470.7,199.5 469.5,196.3 468.3,193.0 467.3,189.8 466.4,186.5 465.5,183.3 464.8,180.0 464.3,176.8 463.9,173.5 463.6,170.3 463.5,167.0 463.5,163.8 463.6,160.5 464.0,157.3 464.4,154.0 465.0,150.8 465.8,147.5 466.6,144.3 467.6,141.0 468.7,137.7 469.8,134.5 471.1,131.2 472.4,128.0 473.8,124.7 475.2,121.5 476.6,118.2 478.0,115.0 479.5,111.7 480.9,108.5 482.2,105.2 483.5,102.0 484.7,98.7 485.9,95.5 486.9,92.2 487.9,89.0 488.7,85.7 489.4,82.5 490.0,79.2 490.4,76.0 490.7,72.7 490.8,69.5 490.8,66.2 490.6,62.9 490.3,59.7 489.8,56.4 489.2,53.2 488.4,49.9 487.6,46.7 486.6,43.4 485.5,40.2 484.4,36.9 483.3,33.7 482.3,30.4 481.4,27.2 480.7,23.9 480.1,20.7"/>
<path stroke-width="1.25" d="M478.4,212.6 479.6,209.3 480.9,206.0 482.2,202.8 483.4,199.5 484.6,196.3 485.8,193.0 486.9,189.8 487.8,186.5 488.7,183.3 489.4,180.0 490.0,176.8 490.4,173.5 490.7,170.3 490.8,167.0 490.8,163.8 490.7,160.5 490.4,157.3 489.9,154.0 489.3,150.8 488.6,147.5 487.7,144.3 486.8,141.0 485.7,137.7 484.5,134.5 483.3,131.2 482.0,128.0 480.6,124.7 479.2,121.5 477.8,118.2 476.4,115.0 474.9,111.7 473.5,108.5 472.2,105.2 470.9,102.0 469.6,98.7 468.5,95.5 467.4,92.2 466.5,89.0 465.7,85.7 464.9,82.5 464.4,79.2 463.9,76.0 463.7,72.7 463.5,69.5 463.5,66.2 463.7,62.9 464.0,59.7 464.4,56.4 465.0,53.2 465.8,49.9 466.6,46.7 467.6,43.4 468.6,40.2 469.8,36.9 470.8,33.7 471.8,30.4 472.6,27.2 473.4,23.9 474.0,20.7"/>
<path stroke-width="1.25" d="M474.1,212.6 473.7,209.3 473.1,206.0 472.5,202.8 471.7,199.5 470.8,196.3 469.9,193.0 469.0,189.8 468.2,186.5 467.6,183.3 467.0,180.0 466.5,176.8 466.1,173.5 465.9,170.3 465.8,167.0 465.8,163.8 465.9,160.5 466.1,157.3 466.4,154.0 466.9,150.8 467.5,147.5 468.1,144.3 468.9,141.0 469.7,137.7 470.7,134.5 471.6,131.2 472.7,128.0 473.8,124.7 474.9,121.5 476.0,118.2 477.1,115.0 478.3,111.7 479.4,108.5 480.4,105.2 481.5,102.0 482.5,98.7 483.4,95.5 484.2,92.2 485.0,89.0 485.7,85.7 486.2,82.5 486.7,79.2 487.1,76.0 487.3,72.7 487.4,69.5 487.4,66.2 487.3,62.9 487.1,59.7 486.7,56.4 486.3,53.2 485.7,49.9 485.1,46.7 484.3,43.4 483.5,40.2 482.6,36.9 481.5,33.7 480.3,30.4 478.9,27.2 477.5,23.9 475.9,20.7"/>
<path stroke-width="1.25" d="M476.7,212.6 478.3,209.3 479.7,206.0 481.0,202.8 482.3,199.5 483.4,196.3 484.3,193.0 485.2,189.8 486.0,186.5 486.7,183.3 487.4,180.0 487.9,176.8 488.3,173.5 488.5,170.3 488.7,167.0 488.7,163.8 488.6,160.5 488.4,157.3 488.1,154.0 487.7,150.8 487.1,147.5 486.5,144.3 485.7,141.0 484.9,137.7 484.0,134.5 483.0,131.2 482.0,128.0 480.9,124.7 479.8,121.5 478.7,118.2 477.5,115.0 476.4,111.7 475.3,108.5 474.2,105.2 473.1,102.0 472.1,98.7 471.2,95.5 470.4,92.2 469.6,89.0 468.9,85.7 468.3,82.5 467.8,79.2 467.5,76.0 467.2,72.7 467.0,69.5 467.0,66.2 467.1,62.9 467.3,59.7 467.6,56.4 468.0,53.2 468.6,49.9 469.2,46.7 469.9,43.4 470.7,40.2 471.5,36.9 472.2,33.7 472.8,30.4 473.3,27.2 473.5,23.9 473.7,20.7"/>
<path stroke-width="1.25" d="M475.8,212.6 475.1,209.3 474.5,206.0 473.8,202.8 473.1,199.5 472.4,196.3 471.8,193.0 471.1,189.8 470.5,186.5 470.0,183.3 469.6,180.0 469.3,176.8 469.0,173.5 468.8,170.3 468.7,167.0 468.7,163.8 468.8,160.5 469.0,157.3 469.2,154.0 469.6,150.8 470.0,147.5 470.5,144.3 471.0,141.0 471.7,137.7 472.3,134.5 473.1,131.2 473.8,128.0 474.6,124.7 475.5,121.5 476.3,118.2 477.1,115.0 478.0,111.7 478.8,108.5 479.6,105.2 480.4,102.0 481.1,98.7 481.8,95.5 482.4,92.2 482.9,89.0 483.4,85.7 483.9,82.5 484.2,79.2 484.5,76.0 484.6,72.7 484.7,69.5 484.7,66.2 484.7,62.9 484.5,59.7 484.2,56.4 483.9,53.2 483.5,49.9 483.0,46.7 482.4,43.4 481.8,40.2 481.2,36.9 480.7,33.7 480.4,30.4 480.3,27.2 480.4,23.9 480.6,20.7"/>
<path stroke-width="1.25" d="M476.5,212.6 477.7,209.3 478.8,206.0 479.8,202.8 480.7,199.5 481.5,196.3 482.1,193.0 482.8,189.8 483.3,186.5 483.8,183.3 484.2,180.0 484.6,176.8 484.8,173.5 485.0,170.3 485.1,167.0 485.0,163.8 485.0,160.5 484.8,157.3 484.5,154.0 484.2,150.8 483.7,147.5 483.2,144.3 482.7,141.0 482.0,137.7 481.4,134.5 480.6,131.2 479.8,128.0 479.0,124.7 478.2,121.5 477.4,118.2 476.6,115.0 475.7,111.7 474.9,108.5 474.1,105.2 473.3,102.0 472.6,98.7 471.9,95.5 471.3,92.2 470.8,89.0 470.3,85.7 469.9,82.5 469.5,79.2 469.3,76.0 469.1,72.7 469.0,69.5 469.1,66.2 469.1,62.9 469.3,59.7 469.6,56.4 469.9,53.2 470.4,49.9 470.9,46.7 471.4,43.4 472.1,40.2 472.7,36.9 473.4,33.7 474.1,30.4 474.8,27.2 475.4,23.9 476.0,20.7"/>
<path stroke-width="1.25" d="M476.0,212.6 475.7,209.3 475.2,206.0 474.8,202.8 474.3,199.5 473.8,196.3 473.4,193.0 472.9,189.8 472.5,186.5 472.1,183.3 471.8,180.0 471.6,176.8 471.4,173.5 471.2,170.3 471.1,167.0 471.1,163.8 471.1,160.5 471.2,157.3 471.3,154.0 471.5,150.8 471.8,147.5 472.1,144.3 472.4,141.0 472.8,137.7 473.3,134.5 473.7,131.2 474.2,128.0 474.7,124.7 475.2,121.5 475.8,118.2 476.3,115.0 476.9,111.7 477.4,108.5 477.9,105.2 478.4,102.0 478.9,98.7 479.4,95.5 479.8,92.2 480.2,89.0 480.5,85.7 480.8,82.5 481.0,79.2 481.2,76.0 481.4,72.7 481.5,69.5 481.5,66.2 481.5,62.9 481.4,59.7 481.2,56.4 481.1,53.2 480.8,49.9 480.6,46.7 480.2,43.4 479.9,40.2 479.4,36.9 478.8,33.7 477.9,30.4 476.8,27.2 475.6,23.9 474.1,20.7"/>
<path stroke-width="1.25" d="M480.7,212.6 480.2,209.3 479.8,206.0 479.6,202.8 479.7,199.5 480.0,196.3 480.4,193.0 480.8,189.8 481.2,186.5 481.5,183.3 481.8,180.0 482.0,176.8 482.2,173.5 482.3,170.3 482.4,167.0 482.4,163.8 482.4,160.5 482.3,157.3 482.1,154.0 481.9,150.8 481.6,147.5 481.3,144.3 480.9,141.0 480.5,137.7 480.1,134.5 479.6,131.2 479.1,128.0 478.6,124.7 478.1,121.5 477.5,118.2 477.0,115.0 476.5,111.7 475.9,108.5 475.4,105.2 474.9,102.0 474.4,98.7 474.0,95.5 473.6,92.2 473.2,89.0 472.9,85.7 472.6,82.5 472.4,79.2 472.2,76.0 472.1,72.7 472.1,69.5 472.0,66.2 472.1,62.9 472.2,59.7 472.4,56.4 472.6,53.2 472.8,49.9 473.2,46.7 473.5,43.4 473.9,40.2 474.3,36.9 474.7,33.7 475.1,30.4 475.5,27.2 475.8,23.9 476.1,20.7"/>
<path stroke-width="1.25" d="M475.6,212.6 475.8,209.3 476.0,206.0 476.1,202.8 476.0,199.5 476.0,196.3 475.8,193.0 475.7,189.8 475.6,186.5 475.5,183.3 475.4,180.0 475.3,176.8 475.3,173.5 475.3,170.3 475.3,167.0 475.3,163.8 475.4,160.5 475.5,157.3 475.6,154.0 475.7,150.8 475.9,147.5 476.0,144.3 476.2,141.0 476.4,137.7 476.6,134.5 476.9,131.2 477.1,128.0 477.3,124.7 477.6,121.5 477.8,118.2 478.1,115.0 478.3,111.7 478.6,108.5 478.8,105.2 479.0,102.0 479.2,98.7 479.4,95.5 479.6,92.2 479.7,89.0 479.8,85.7 479.9,82.5 480.0,79.2 480.0,76.0 480.0,72.7 480.0,69.5 480.0,66.2 479.9,62.9 479.8,59.7 479.7,56.4 479.6,53.2 479.4,49.9 479.2,46.7 479.0,43.4 478.8,40.2 478.6,36.9 478.5,33.7 478.7,30.4 479.0,27.2 479.5,23.9 480.2,20.7"/>
<path stroke-width="1.25" d="M477.4,212.6 477.6,209.3 477.7,206.0 477.9,202.8 478.0,199.5 478.2,196.3 478.4,193.0 478.5,189.8 478.7,186.5 478.8,183.3 478.9,180.0 479.0,176.8 479.0,173.5 479.1,170.3 479.1,167.0 479.1,163.8 479.0,160.5 479.0,157.3 478.9,154.0 478.8,150.8 478.6,147.5 478.5,144.3 478.3,141.0 478.1,137.7 477.9,134.5 477.7,131.2 477.4,128.0 477.2,124.7 477.0,121.5 476.7,118.2 476.5,115.0 476.2,111.7 476.0,108.5 475.8,105.2 475.5,102.0 475.3,98.7 475.1,95.5 475.0,92.2 474.8,89.0 474.7,85.7 474.6,82.5 474.5,79.2 474.4,76.0 474.4,72.7 474.4,69.5 474.4,66.2 474.4,62.9 474.5,59.7 474.6,56.4 474.7,53.2 474.9,49.9 475.0,46.7 475.2,43.4 475.4,40.2 475.7,36.9 476.0,33.7 476.5,30.4 477.1,27.2 477.8,23.9 478.6,20.7"/>
<path stroke-width="1.1" d="M475.3,212.6 475.8,209.3 476.1,206.0 476.4,202.8 476.5,199.5 476.6,196.3 476.5,193.0 476.4,189.8 476.4,186.5 476.3,183.3 476.3,180.0 476.2,176.8 476.2,173.5 476.2,170.3 476.1,167.0 476.1,163.8 476.1,160.5 476.1,157.3 476.1,154.0 476.1,150.8 476.1,147.5 476.1,144.3 476.2,141.0 476.2,137.7 476.2,134.5 476.2,131.2 476.3,128.0 476.3,124.7 476.4,121.5 476.4,118.2 476.5,115.0 476.5,111.7 476.6,108.5 476.6,105.2 476.7,102.0 476.7,98.7 476.8,95.5 476.8,92.2 476.9,89.0 476.9,85.7 476.9,82.5 477.0,79.2 477.0,76.0 477.0,72.7 477.1,69.5 477.1,66.2 477.1,62.9 477.1,59.7 477.1,56.4 477.1,53.2 477.1,49.9 477.1,46.7 477.1,43.4 477.1,40.2 477.1,36.9 477.3,33.7 477.8,30.4 478.4,27.2 479.2,23.9 480.2,20.7"/>
<path stroke-width="1.1" d="M479.3,212.6 478.6,209.3 478.1,206.0 477.7,202.8 477.5,199.5 477.4,196.3 477.5,193.0 477.5,189.8 477.6,186.5 477.6,183.3 477.7,180.0 477.7,176.8 477.8,173.5 477.8,170.3 477.8,167.0 477.8,163.8 477.9,160.5 477.9,157.3 477.9,154.0 477.9,150.8 477.9,147.5 477.8,144.3 477.8,141.0 477.8,137.7 477.8,134.5 477.7,131.2 477.7,128.0 477.7,124.7 477.6,121.5 477.6,118.2 477.5,115.0 477.5,111.7 477.4,108.5 477.4,105.2 477.3,102.0 477.3,98.7 477.3,95.5 477.2,92.2 477.2,89.0 477.1,85.7 477.1,82.5 477.1,79.2 477.0,76.0 477.0,72.7 477.0,69.5 477.0,66.2 476.9,62.9 476.9,59.7 476.9,56.4 476.9,53.2 476.9,49.9 476.9,46.7 476.9,43.4 476.9,40.2 476.9,36.9 477.0,33.7 477.2,30.4 477.5,27.2 477.8,23.9 478.2,20.7"/>
<path stroke-width="1.1" d="M473.9,212.6 474.3,209.3 474.4,206.0 474.4,202.8 474.2,199.5 473.8,196.3 473.2,193.0 472.6,189.8 472.1,186.5 471.6,183.3 471.0,180.0 470.5,176.8 470.0,173.5 469.5,170.3 469.1,167.0 468.6,163.8 468.2,160.5 467.8,157.3 467.4,154.0 467.0,150.8 466.7,147.5 466.3,144.3 466.0,141.0 465.8,137.7 465.5,134.5 465.3,131.2 465.1,128.0 465.0,124.7 464.8,121.5 464.7,118.2 464.7,115.0 464.7,111.7 464.7,108.5 464.7,105.2 464.8,102.0 464.9,98.7 465.1,95.5 465.3,92.2 465.5,89.0 465.8,85.7 466.1,82.5 466.4,79.2 466.7,76.0 467.1,72.7 467.6,69.5 468.0,66.2 468.5,62.9 469.0,59.7 469.6,56.4 470.1,53.2 470.7,49.9 471.3,46.7 472.0,43.4 472.6,40.2 473.3,36.9 473.9,33.7 474.4,30.4 474.8,27.2 475.2,23.9 475.5,20.7"/>
<path stroke-width="1.1" d="M473.8,212.6 474.2,209.3 474.4,206.0 474.5,202.8 474.4,199.5 474.0,196.3 473.5,193.0 473.1,189.8 472.6,186.5 472.1,183.3 471.7,180.0 471.3,176.8 470.9,173.5 470.5,170.3 470.2,167.0 469.9,163.8 469.6,160.5 469.3,157.3 469.1,154.0 468.9,150.8 468.7,147.5 468.5,144.3 468.4,141.0 468.3,137.7 468.2,134.5 468.2,131.2 468.2,128.0 468.2,124.7 468.2,121.5 468.3,118.2 468.4,115.0 468.5,111.7 468.6,108.5 468.8,105.2 468.9,102.0 469.1,98.7 469.3,95.5 469.6,92.2 469.8,89.0 470.1,85.7 470.3,82.5 470.6,79.2 470.9,76.0 471.2,72.7 471.5,69.5 471.9,66.2 472.2,62.9 472.5,59.7 472.9,56.4 473.2,53.2 473.6,49.9 473.9,46.7 474.3,43.4 474.6,40.2 475.0,36.9 475.2,33.7 475.3,30.4 475.3,27.2 475.1,23.9 474.8,20.7"/>
<path stroke-width="1.1" d="M477.0,212.6 476.8,209.3 476.6,206.0 476.4,202.8 476.2,199.5 476.1,196.3 475.9,193.0 475.7,189.8 475.5,186.5 475.4,183.3 475.2,180.0 475.0,176.8 474.8,173.5 474.7,170.3 474.5,167.0 474.3,163.8 474.1,160.5 474.0,157.3 473.8,154.0 473.6,150.8 473.5,147.5 473.3,144.3 473.1,141.0 473.0,137.7 472.8,134.5 472.7,131.2 472.6,128.0 472.5,124.7 472.4,121.5 472.3,118.2 472.2,115.0 472.1,111.7 472.1,108.5 472.0,105.2 472.0,102.0 472.0,98.7 472.0,95.5 472.0,92.2 472.1,89.0 472.2,85.7 472.2,82.5 472.3,79.2 472.5,76.0 472.6,72.7 472.8,69.5 472.9,66.2 473.1,62.9 473.4,59.7 473.6,56.4 473.8,53.2 474.1,49.9 474.4,46.7 474.7,43.4 474.9,40.2 475.2,36.9 475.4,33.7 475.6,30.4 475.6,27.2 475.5,23.9 475.3,20.7"/>
<path stroke-width="1.1" d="M476.7,212.6 476.5,209.3 476.3,206.0 476.0,202.8 475.8,199.5 475.6,196.3 475.3,193.0 475.1,189.8 474.9,186.5 474.7,183.3 474.6,180.0 474.4,176.8 474.3,173.5 474.2,170.3 474.1,167.0 474.0,163.8 474.0,160.5 473.9,157.3 473.9,154.0 474.0,150.8 474.0,147.5 474.1,144.3 474.1,141.0 474.2,137.7 474.3,134.5 474.5,131.2 474.6,128.0 474.8,124.7 474.9,121.5 475.1,118.2 475.2,115.0 475.4,111.7 475.6,108.5 475.8,105.2 476.0,102.0 476.1,98.7 476.3,95.5 476.5,92.2 476.6,89.0 476.7,85.7 476.9,82.5 477.0,79.2 477.1,76.0 477.2,72.7 477.3,69.5 477.4,66.2 477.4,62.9 477.4,59.7 477.5,56.4 477.5,53.2 477.5,49.9 477.5,46.7 477.4,43.4 477.4,40.2 477.4,36.9 477.6,33.7 477.9,30.4 478.4,27.2 479.1,23.9 480.1,20.7"/>
<path stroke-width="1.1" d="M477.4,212.6 477.2,209.3 477.0,206.0 476.8,202.8 476.7,199.5 476.6,196.3 476.5,193.0 476.5,189.8 476.5,186.5 476.4,183.3 476.5,180.0 476.5,176.8 476.5,173.5 476.6,170.3 476.7,167.0 476.8,163.8 476.9,160.5 477.0,157.3 477.2,154.0 477.3,150.8 477.5,147.5 477.7,144.3 477.9,141.0 478.1,137.7 478.3,134.5 478.6,131.2 478.8,128.0 479.0,124.7 479.2,121.5 479.5,118.2 479.7,115.0 479.9,111.7 480.1,108.5 480.3,105.2 480.5,102.0 480.6,98.7 480.8,95.5 480.9,92.2 481.0,89.0 481.0,85.7 481.1,82.5 481.1,79.2 481.1,76.0 481.0,72.7 480.9,69.5 480.9,66.2 480.7,62.9 480.6,59.7 480.4,56.4 480.2,53.2 480.0,49.9 479.7,46.7 479.4,43.4 479.1,40.2 478.8,36.9 478.5,33.7 478.0,30.4 477.5,27.2 477.0,23.9 476.4,20.7"/>
<path stroke-width="1.1" d="M480.7,212.6 480.1,209.3 479.7,206.0 479.5,202.8 479.6,199.5 479.8,196.3 480.3,193.0 480.7,189.8 481.1,186.5 481.5,183.3 481.9,180.0 482.2,176.8 482.5,173.5 482.8,170.3 483.0,167.0 483.2,163.8 483.4,160.5 483.5,157.3 483.6,154.0 483.7,150.8 483.7,147.5 483.7,144.3 483.6,141.0 483.5,137.7 483.4,134.5 483.3,131.2 483.2,128.0 483.0,124.7 482.8,121.5 482.5,118.2 482.3,115.0 482.1,111.7 481.8,108.5 481.5,105.2 481.3,102.0 481.0,98.7 480.7,95.5 480.4,92.2 480.1,89.0 479.9,85.7 479.6,82.5 479.4,79.2 479.1,76.0 478.9,72.7 478.7,69.5 478.5,66.2 478.3,62.9 478.1,59.7 478.0,56.4 477.8,53.2 477.7,49.9 477.6,46.7 477.5,43.4 477.4,40.2 477.3,36.9 477.2,33.7 477.0,30.4 476.8,27.2 476.6,23.9 476.3,20.7"/>
<path stroke-width="1.1" d="M479.8,212.6 479.6,209.3 479.6,206.0 479.7,202.8 480.0,199.5 480.4,196.3 481.0,193.0 481.5,189.8 482.0,186.5 482.6,183.3 483.0,180.0 483.5,176.8 483.9,173.5 484.3,170.3 484.7,167.0 485.0,163.8 485.3,160.5 485.6,157.3 485.8,154.0 486.0,150.8 486.2,147.5 486.3,144.3 486.4,141.0 486.5,137.7 486.5,134.5 486.5,131.2 486.5,128.0 486.4,124.7 486.3,121.5 486.2,118.2 486.1,115.0 485.9,111.7 485.7,108.5 485.5,105.2 485.3,102.0 485.0,98.7 484.8,95.5 484.5,92.2 484.2,89.0 483.9,85.7 483.6,82.5 483.2,79.2 482.9,76.0 482.6,72.7 482.3,69.5 481.9,66.2 481.6,62.9 481.2,59.7 480.9,56.4 480.5,53.2 480.2,49.9 479.8,46.7 479.5,43.4 479.2,40.2 478.8,36.9 478.4,33.7 478.1,30.4 477.6,27.2 477.2,23.9 476.7,20.7"/>
<path stroke-width="1.1" d="M479.7,212.6 479.5,209.3 479.6,206.0 479.7,202.8 480.0,199.5 480.5,196.3 481.1,193.0 481.7,189.8 482.2,186.5 482.8,183.3 483.3,180.0 483.8,176.8 484.3,173.5 484.8,170.3 485.2,167.0 485.6,163.8 486.0,160.5 486.3,157.3 486.7,154.0 487.0,150.8 487.2,147.5 487.4,144.3 487.6,141.0 487.8,137.7 487.9,134.5 488.0,131.2 488.1,128.0 488.1,124.7 488.2,121.5 488.1,118.2 488.1,115.0 488.0,111.7 487.9,108.5 487.7,105.2 487.6,102.0 487.4,98.7 487.1,95.5 486.9,92.2 486.6,89.0 486.3,85.7 486.0,82.5 485.6,79.2 485.3,76.0 484.9,72.7 484.5,69.5 484.1,66.2 483.7,62.9 483.2,59.7 482.8,56.4 482.3,53.2 481.8,49.9 481.3,46.7 480.8,43.4 480.3,40.2 479.8,36.9 479.0,33.7 478.0,30.4 476.8,27.2 475.3,23.9 473.7,20.7"/>
<path stroke-width="1.1" d="M474.2,212.6 473.2,209.3 472.0,206.0 470.8,202.8 469.4,199.5 467.9,196.3 466.3,193.0 464.8,189.8 463.2,186.5 461.7,183.3 460.2,180.0 458.7,176.8 457.2,173.5 455.8,170.3 454.4,167.0 453.1,163.8 451.8,160.5 450.6,157.3 449.4,154.0 448.3,150.8 447.2,147.5 446.2,144.3 445.2,141.0 444.4,137.7 443.6,134.5 442.9,131.2 442.3,128.0 441.7,124.7 441.3,121.5 440.9,118.2 440.7,115.0 440.5,111.7 440.5,108.5 440.6,105.2 440.7,102.0 441.0,98.7 441.4,95.5 441.9,92.2 442.5,89.0 443.2,85.7 444.0,82.5 445.0,79.2 446.0,76.0 447.2,72.7 448.4,69.5 449.8,66.2 451.2,62.9 452.8,59.7 454.4,56.4 456.1,53.2 457.9,49.9 459.7,46.7 461.7,43.4 463.6,40.2 465.7,36.9 467.9,33.7 470.2,30.4 472.7,27.2 475.3,23.9 478.1,20.7"/>
<path stroke-width="1.1" d="M480.4,212.6 481.6,209.3 483.0,206.0 484.4,202.8 486.1,199.5 487.8,196.3 489.6,193.0 491.4,189.8 493.2,186.5 494.9,183.3 496.5,180.0 498.1,176.8 499.6,173.5 501.1,170.3 502.5,167.0 503.7,163.8 505.0,160.5 506.1,157.3 507.1,154.0 508.1,150.8 508.9,147.5 509.7,144.3 510.3,141.0 510.9,137.7 511.3,134.5 511.7,131.2 512.0,128.0 512.1,124.7 512.2,121.5 512.2,118.2 512.0,115.0 511.8,111.7 511.5,108.5 511.1,105.2 510.6,102.0 510.0,98.7 509.3,95.5 508.5,92.2 507.7,89.0 506.8,85.7 505.8,82.5 504.7,79.2 503.6,76.0 502.4,72.7 501.2,69.5 499.9,66.2 498.5,62.9 497.1,59.7 495.6,56.4 494.1,53.2 492.6,49.9 491.0,46.7 489.4,43.4 487.8,40.2 486.1,36.9 484.5,33.7 482.8,30.4 481.1,27.2 479.4,23.9 477.8,20.7"/>
<path stroke-width="1.1" d="M475.0,212.6 473.1,209.3 471.2,206.0 469.3,202.8 467.3,199.5 465.3,196.3 463.3,193.0 461.4,189.8 459.5,186.5 457.7,183.3 455.9,180.0 454.2,176.8 452.6,173.5 451.1,170.3 449.7,167.0 448.4,163.8 447.2,160.5 446.0,157.3 445.0,154.0 444.1,150.8 443.3,147.5 442.5,144.3 441.9,141.0 441.5,137.7 441.1,134.5 440.8,131.2 440.6,128.0 440.6,124.7 440.6,121.5 440.8,118.2 441.0,115.0 441.4,111.7 441.8,108.5 442.3,105.2 443.0,102.0 443.7,98.7 444.5,95.5 445.3,92.2 446.3,89.0 447.3,85.7 448.3,82.5 449.5,79.2 450.7,76.0 451.9,72.7 453.2,69.5 454.6,66.2 455.9,62.9 457.4,59.7 458.8,56.4 460.3,53.2 461.9,49.9 463.4,46.7 465.0,43.4 466.6,40.2 468.2,36.9 469.9,33.7 471.8,30.4 473.7,27.2 475.8,23.9 478.0,20.7"/>
<path stroke-width="1.1" d="M480.0,212.6 481.3,209.3 482.7,206.0 484.2,202.8 485.8,199.5 487.5,196.3 489.3,193.0 491.0,189.8 492.7,186.5 494.3,183.3 495.9,180.0 497.4,176.8 498.8,173.5 500.1,170.3 501.4,167.0 502.6,163.8 503.7,160.5 504.7,157.3 505.6,154.0 506.4,150.8 507.1,147.5 507.7,144.3 508.2,141.0 508.6,137.7 508.9,134.5 509.2,131.2 509.3,128.0 509.3,124.7 509.2,121.5 509.1,118.2 508.8,115.0 508.5,111.7 508.1,108.5 507.6,105.2 507.0,102.0 506.4,98.7 505.6,95.5 504.9,92.2 504.0,89.0 503.1,85.7 502.1,82.5 501.1,79.2 500.1,76.0 499.0,72.7 497.8,69.5 496.6,66.2 495.4,62.9 494.1,59.7 492.8,56.4 491.5,53.2 490.2,49.9 488.8,46.7 487.5,43.4 486.1,40.2 484.6,36.9 483.0,33.7 481.1,30.4 478.9,27.2 476.6,23.9 474.0,20.7"/>
<path stroke-width="1.1" d="M476.3,212.6 474.6,209.3 472.9,206.0 471.2,202.8 469.6,199.5 468.0,196.3 466.5,193.0 465.0,189.8 463.5,186.5 462.0,183.3 460.6,180.0 459.2,176.8 457.8,173.5 456.5,170.3 455.2,167.0 454.0,163.8 452.9,160.5 451.8,157.3 450.8,154.0 449.8,150.8 448.9,147.5 448.1,144.3 447.3,141.0 446.6,137.7 446.1,134.5 445.5,131.2 445.1,128.0 444.8,124.7 444.5,121.5 444.3,118.2 444.2,115.0 444.2,111.7 444.3,108.5 444.5,105.2 444.8,102.0 445.2,98.7 445.7,95.5 446.2,92.2 446.9,89.0 447.6,85.7 448.4,82.5 449.3,79.2 450.3,76.0 451.4,72.7 452.5,69.5 453.7,66.2 455.0,62.9 456.4,59.7 457.8,56.4 459.3,53.2 460.8,49.9 462.4,46.7 464.1,43.4 465.7,40.2 467.4,36.9 468.9,33.7 470.3,30.4 471.5,27.2 472.6,23.9 473.4,20.7"/>
<path stroke-width="1.1" d="M480.3,212.6 481.3,209.3 482.4,206.0 483.6,202.8 485.0,199.5 486.5,196.3 488.1,193.0 489.7,189.8 491.3,186.5 492.8,183.3 494.3,180.0 495.8,176.8 497.1,173.5 498.5,170.3 499.7,167.0 500.9,163.8 502.1,160.5 503.2,157.3 504.2,154.0 505.1,150.8 505.9,147.5 506.7,144.3 507.4,141.0 508.0,137.7 508.5,134.5 508.9,131.2 509.3,128.0 509.5,124.7 509.7,121.5 509.8,118.2 509.7,115.0 509.6,111.7 509.4,108.5 509.2,105.2 508.8,102.0 508.3,98.7 507.8,95.5 507.1,92.2 506.4,89.0 505.6,85.7 504.8,82.5 503.8,79.2 502.8,76.0 501.7,72.7 500.6,69.5 499.3,66.2 498.1,62.9 496.7,59.7 495.3,56.4 493.9,53.2 492.4,49.9 490.9,46.7 489.3,43.4 487.7,40.2 486.0,36.9 484.3,33.7 482.4,30.4 480.4,27.2 478.3,23.9 476.1,20.7"/>
<path stroke-width="1.1" d="M479.8,212.6 476.8,209.3 474.2,206.0 471.8,202.8 469.7,199.5 467.8,196.3 466.2,193.0 464.6,189.8 463.1,186.5 461.5,183.3 460.1,180.0 458.6,176.8 457.2,173.5 455.8,170.3 454.5,167.0 453.2,163.8 451.9,160.5 450.8,157.3 449.6,154.0 448.6,150.8 447.6,147.5 446.7,144.3 445.8,141.0 445.0,137.7 444.4,134.5 443.7,131.2 443.2,128.0 442.8,124.7 442.4,121.5 442.2,118.2 442.0,115.0 442.0,111.7 442.0,108.5 442.1,105.2 442.4,102.0 442.7,98.7 443.2,95.5 443.7,92.2 444.3,89.0 445.1,85.7 445.9,82.5 446.9,79.2 447.9,76.0 449.0,72.7 450.2,69.5 451.5,66.2 452.9,62.9 454.4,59.7 455.9,56.4 457.6,53.2 459.2,49.9 461.0,46.7 462.8,43.4 464.6,40.2 466.5,36.9 468.3,33.7 470.1,30.4 471.8,27.2 473.5,23.9 475.2,20.7"/>
<path stroke-width="1.1" d="M478.1,212.6 479.8,209.3 481.5,206.0 483.2,202.8 484.9,199.5 486.6,196.3 488.3,193.0 489.9,189.8 491.5,186.5 493.0,183.3 494.6,180.0 496.0,176.8 497.4,173.5 498.8,170.3 500.1,167.0 501.4,163.8 502.5,160.5 503.6,157.3 504.7,154.0 505.7,150.8 506.5,147.5 507.4,144.3 508.1,141.0 508.7,137.7 509.3,134.5 509.8,131.2 510.1,128.0 510.4,124.7 510.6,121.5 510.7,118.2 510.8,115.0 510.7,111.7 510.5,108.5 510.3,105.2 509.9,102.0 509.5,98.7 508.9,95.5 508.3,92.2 507.6,89.0 506.8,85.7 505.9,82.5 504.9,79.2 503.9,76.0 502.8,72.7 501.6,69.5 500.3,66.2 499.0,62.9 497.6,59.7 496.2,56.4 494.7,53.2 493.1,49.9 491.5,46.7 489.9,43.4 488.2,40.2 486.5,36.9 485.0,33.7 483.6,30.4 482.4,27.2 481.3,23.9 480.5,20.7"/>
</g>
<rect x="411.0" y="19.5" width="132.0" height="195.0" fill="none" stroke="#454545" stroke-width="1.25"/>
<path d="M420.43,214.5v-2.5M420.43,19.5v2.5M439.29,214.5v-2.5M439.29,19.5v2.5M458.14,214.5v-2.5M458.14,19.5v2.5M477.00,214.5v-2.5M477.00,19.5v2.5M495.86,214.5v-2.5M495.86,19.5v2.5M514.71,214.5v-2.5M514.71,19.5v2.5M533.57,214.5v-2.5M533.57,19.5v2.5M411.0,195.00h2.5M543.0,195.00h-2.5M411.0,175.50h2.5M543.0,175.50h-2.5M411.0,156.00h2.5M543.0,156.00h-2.5M411.0,136.50h2.5M543.0,136.50h-2.5M411.0,117.00h2.5M543.0,117.00h-2.5M411.0,97.50h2.5M543.0,97.50h-2.5M411.0,78.00h2.5M543.0,78.00h-2.5M411.0,58.50h2.5M543.0,58.50h-2.5M411.0,39.00h2.5M543.0,39.00h-2.5" stroke="#454545" stroke-width="1.1" fill="none"/>
<text x="408.0" y="216.7" text-anchor="end" class="tk">0.0</text>
<text x="408.0" y="197.2" text-anchor="end" class="tk">0.1</text>
<text x="408.0" y="177.7" text-anchor="end" class="tk">0.2</text>
<text x="408.0" y="158.2" text-anchor="end" class="tk">0.3</text>
<text x="408.0" y="138.7" text-anchor="end" class="tk">0.4</text>
<text x="408.0" y="119.2" text-anchor="end" class="tk">0.5</text>
<text x="408.0" y="99.7" text-anchor="end" class="tk">0.6</text>
<text x="408.0" y="80.2" text-anchor="end" class="tk">0.7</text>
<text x="408.0" y="60.7" text-anchor="end" class="tk">0.8</text>
<text x="408.0" y="41.2" text-anchor="end" class="tk">0.9</text>
<text x="408.0" y="21.7" text-anchor="end" class="tk">1.0</text>
<text x="420.4" y="223.3" text-anchor="middle" class="tk"><tspan>0.6</tspan></text>
<text x="414.9" y="223.3" text-anchor="end" class="tk">−</text>
<text x="439.3" y="223.3" text-anchor="middle" class="tk"><tspan>0.4</tspan></text>
<text x="433.8" y="223.3" text-anchor="end" class="tk">−</text>
<text x="458.1" y="223.3" text-anchor="middle" class="tk"><tspan>0.2</tspan></text>
<text x="452.6" y="223.3" text-anchor="end" class="tk">−</text>
<text x="477.0" y="223.3" text-anchor="middle" class="tk">0.0</text>
<text x="495.9" y="223.3" text-anchor="middle" class="tk">0.2</text>
<text x="514.7" y="223.3" text-anchor="middle" class="tk">0.4</text>
<text x="533.6" y="223.3" text-anchor="middle" class="tk">0.6</text>
<text x="78.9" y="13.3" class="tt"><tspan font-style="italic">U</tspan>=0.247m/s</text>
<text x="263.8" y="13.3" class="tt"><tspan font-style="italic">U</tspan>=0.247m/s</text>
<text x="449.9" y="13.3" class="tt"><tspan font-style="italic">U</tspan>=0.247m/s</text>
<text transform="translate(14.9,192.3) rotate(-90)" class="yl" style="font-size:14.7px">Spanwish positon (z/L)</text>
<text transform="translate(197.6,188.5) rotate(-90)" class="yl" style="font-size:14.4px">Spanwish positon (z/L)</text>
<text transform="translate(386.5,186.2) rotate(-90)" class="yl" style="font-size:14.4px">Spanwish positon (z/L)</text>
<text x="90.4" y="232.7" class="xl">y/D</text>
<text x="275.5" y="232.7" class="xl">y/D</text>
<text x="461.4" y="232.7" class="xl">y/D</text>
<text x="53.6" y="255.2" class="cap" font-size="11.1">0° inflow angle</text>
<text x="246.5" y="252.9" class="cap" font-size="10.45">22.5° inflow angle</text>
<text x="443" y="252.2" class="cap" font-size="9.85">45° inflow angle</text>
</svg>
</body></html>
